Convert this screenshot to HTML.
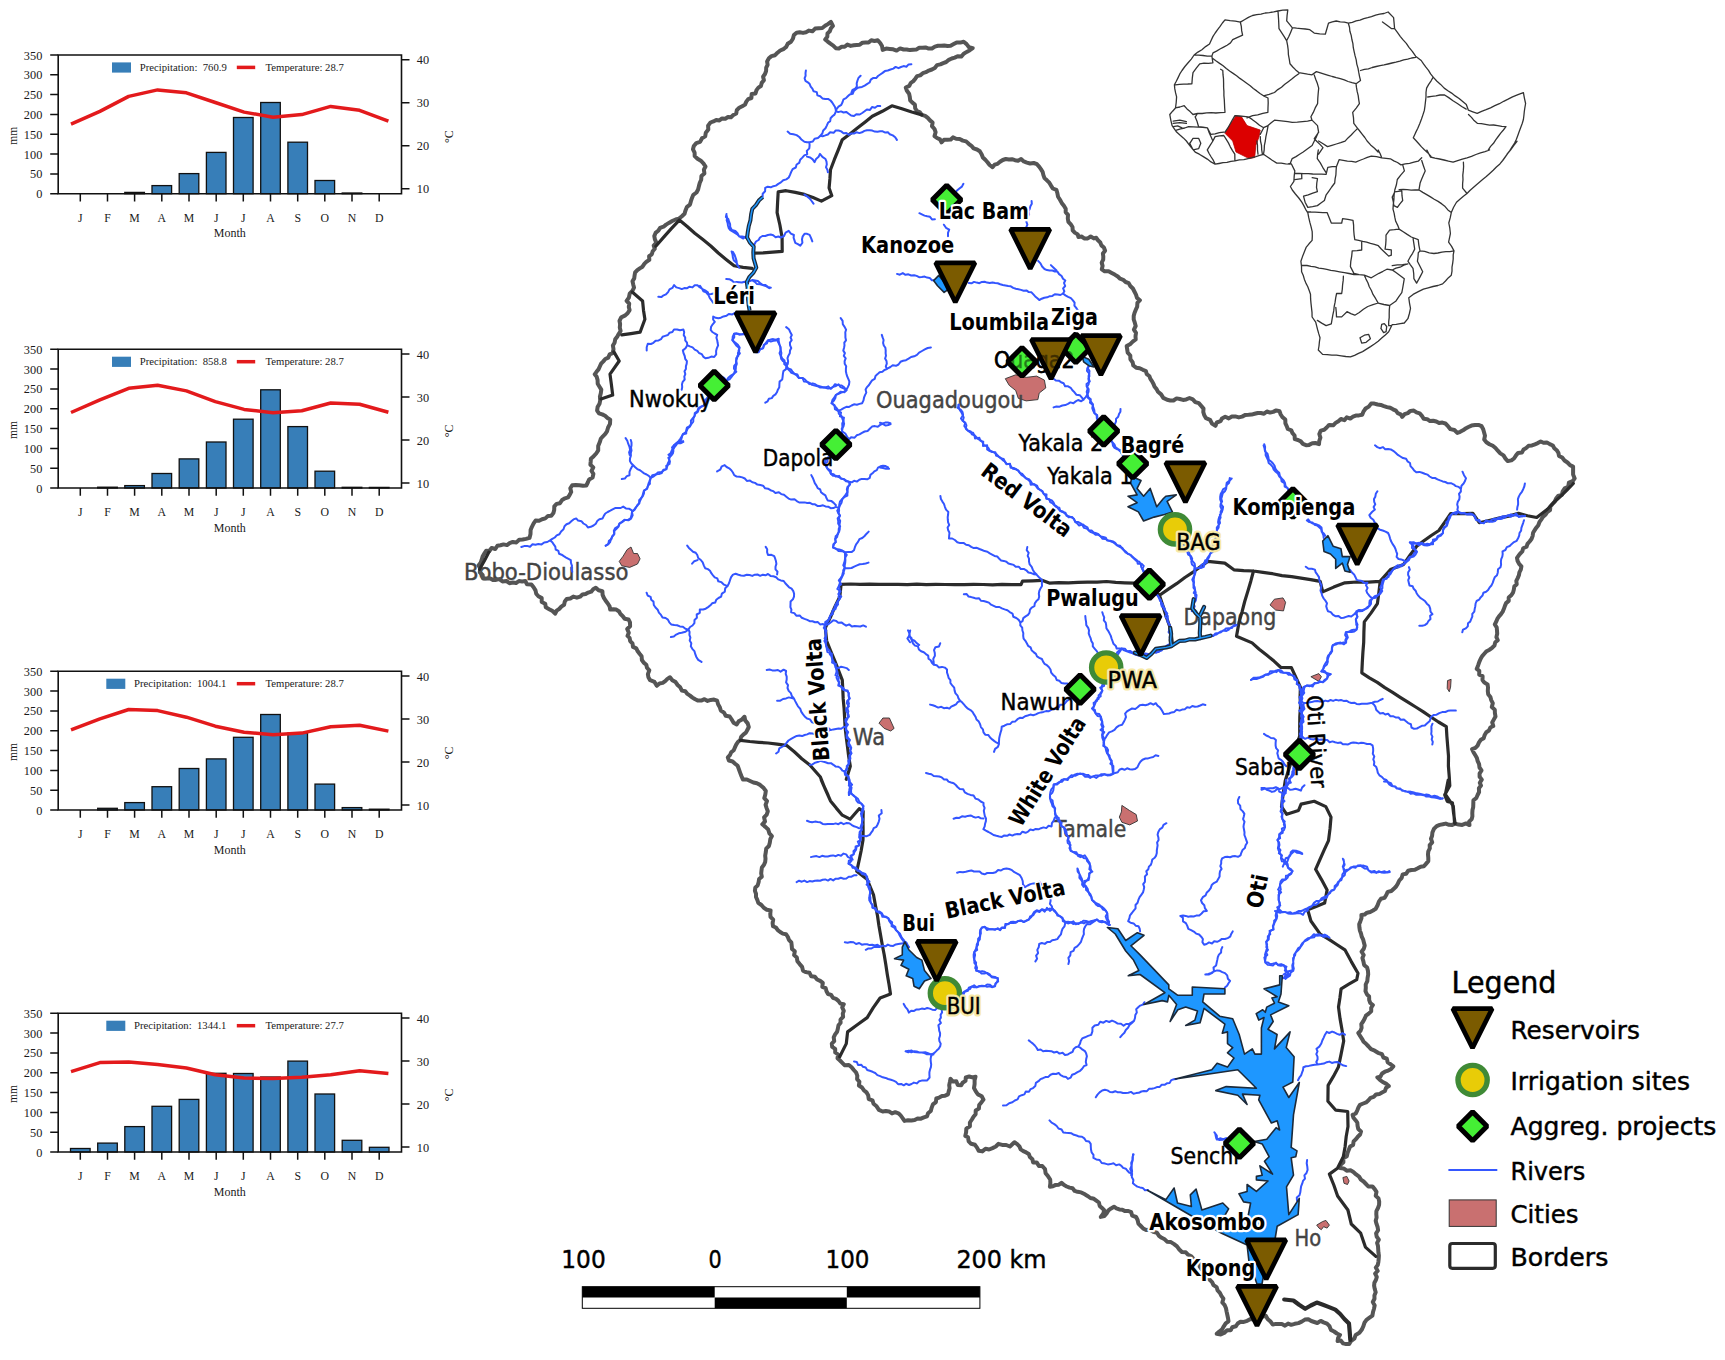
<!DOCTYPE html><html><head><meta charset="utf-8"><title>Volta basin</title>
<style>html,body{margin:0;padding:0;background:#fff}svg{display:block}.cs{font-family:"Liberation Serif",serif;fill:#1a1a1a}.lb{font-family:"DejaVu Sans","Liberation Sans",sans-serif}.bd{font-family:"DejaVu Sans","Liberation Sans",sans-serif;font-weight:bold}</style></head><body>
<svg width="1725" height="1360" viewBox="0 0 1725 1360">
<rect width="1725" height="1360" fill="#fff"/>
<g>
<rect x="124.8" y="192.4" width="19.6" height="1.3" fill="#377eb8" stroke="#111" stroke-width="1.3"/>
<rect x="152.0" y="185.6" width="19.6" height="8.1" fill="#377eb8" stroke="#111" stroke-width="1.3"/>
<rect x="179.2" y="173.6" width="19.6" height="20.1" fill="#377eb8" stroke="#111" stroke-width="1.3"/>
<rect x="206.4" y="152.4" width="19.6" height="41.3" fill="#377eb8" stroke="#111" stroke-width="1.3"/>
<rect x="233.5" y="117.5" width="19.6" height="76.2" fill="#377eb8" stroke="#111" stroke-width="1.3"/>
<rect x="260.7" y="102.5" width="19.6" height="91.2" fill="#377eb8" stroke="#111" stroke-width="1.3"/>
<rect x="287.9" y="142.2" width="19.6" height="51.5" fill="#377eb8" stroke="#111" stroke-width="1.3"/>
<rect x="315.0" y="180.5" width="19.6" height="13.2" fill="#377eb8" stroke="#111" stroke-width="1.3"/>
<rect x="342.2" y="193.0" width="19.6" height="0.7" fill="#377eb8" stroke="#111" stroke-width="1.3"/>
<path d="M58.2,193.7 V55.0 H401.5 V193.7 Z" fill="none" stroke="#111" stroke-width="1.6"/>
<text class="cs" x="42.3" y="198.2" font-size="12.3" text-anchor="end">0</text>
<text class="cs" x="42.3" y="178.4" font-size="12.3" text-anchor="end">50</text>
<text class="cs" x="42.3" y="158.6" font-size="12.3" text-anchor="end">100</text>
<text class="cs" x="42.3" y="138.8" font-size="12.3" text-anchor="end">150</text>
<text class="cs" x="42.3" y="118.9" font-size="12.3" text-anchor="end">200</text>
<text class="cs" x="42.3" y="99.1" font-size="12.3" text-anchor="end">250</text>
<text class="cs" x="42.3" y="79.3" font-size="12.3" text-anchor="end">300</text>
<text class="cs" x="42.3" y="59.5" font-size="12.3" text-anchor="end">350</text>
<text class="cs" x="80.3" y="221.6" font-size="11.8" text-anchor="middle">J</text>
<text class="cs" x="107.5" y="221.6" font-size="11.8" text-anchor="middle">F</text>
<text class="cs" x="134.6" y="221.6" font-size="11.8" text-anchor="middle">M</text>
<text class="cs" x="161.8" y="221.6" font-size="11.8" text-anchor="middle">A</text>
<text class="cs" x="189.0" y="221.6" font-size="11.8" text-anchor="middle">M</text>
<text class="cs" x="216.2" y="221.6" font-size="11.8" text-anchor="middle">J</text>
<text class="cs" x="243.3" y="221.6" font-size="11.8" text-anchor="middle">J</text>
<text class="cs" x="270.5" y="221.6" font-size="11.8" text-anchor="middle">A</text>
<text class="cs" x="297.7" y="221.6" font-size="11.8" text-anchor="middle">S</text>
<text class="cs" x="324.8" y="221.6" font-size="11.8" text-anchor="middle">O</text>
<text class="cs" x="352.0" y="221.6" font-size="11.8" text-anchor="middle">N</text>
<text class="cs" x="379.2" y="221.6" font-size="11.8" text-anchor="middle">D</text>
<text class="cs" x="416.8" y="193.3" font-size="12.3">10</text>
<text class="cs" x="416.8" y="150.3" font-size="12.3">20</text>
<text class="cs" x="416.8" y="107.3" font-size="12.3">30</text>
<text class="cs" x="416.8" y="64.3" font-size="12.3">40</text>
<path d="M50.2,193.7H58.2M50.2,173.9H58.2M50.2,154.1H58.2M50.2,134.3H58.2M50.2,114.4H58.2M50.2,94.6H58.2M50.2,74.8H58.2M50.2,55.0H58.2M80.3,193.7v7.8M107.5,193.7v7.8M134.6,193.7v7.8M161.8,193.7v7.8M189.0,193.7v7.8M216.2,193.7v7.8M243.3,193.7v7.8M270.5,193.7v7.8M297.7,193.7v7.8M324.8,193.7v7.8M352.0,193.7v7.8M379.2,193.7v7.8M401.5,188.8h8M401.5,145.8h8M401.5,102.8h8M401.5,59.8h8" stroke="#111" stroke-width="1.5" fill="none"/>
<text class="cs" x="229.8" y="237.2" font-size="12" text-anchor="middle">Month</text>
<text class="cs" transform="translate(17.3,135.8) rotate(-90)" font-size="11.5" text-anchor="middle">mm</text>
<text class="cs" transform="translate(452.8,136.6) rotate(-90)" font-size="12" text-anchor="middle">°C</text>
<path d="M71.0,124.2 99.9,111.4 128.7,96.4 157.6,89.9 186.4,92.8 215.3,102.5 244.1,112.1 273.0,117.2 301.8,114.6 330.7,106.4 359.6,110.3 388.4,121.1" fill="none" stroke="#e31a1c" stroke-width="3.5" stroke-linejoin="round"/>
<rect x="112.0" y="62.4" width="19" height="10.2" fill="#377eb8"/>
<text class="cs" x="139.8" y="70.7" font-size="10.7" xml:space="preserve">Precipitation:  760.9</text>
<path d="M236.8,67.4H255.2" stroke="#e31a1c" stroke-width="3.5"/>
<text class="cs" x="265.6" y="70.7" font-size="10.7">Temperature: 28.7</text>
</g>
<g>
<rect x="97.7" y="487.2" width="19.6" height="0.8" fill="#377eb8" stroke="#111" stroke-width="1.3"/>
<rect x="124.8" y="485.6" width="19.6" height="2.4" fill="#377eb8" stroke="#111" stroke-width="1.3"/>
<rect x="152.0" y="473.5" width="19.6" height="14.5" fill="#377eb8" stroke="#111" stroke-width="1.3"/>
<rect x="179.2" y="458.9" width="19.6" height="29.1" fill="#377eb8" stroke="#111" stroke-width="1.3"/>
<rect x="206.4" y="442.0" width="19.6" height="46.0" fill="#377eb8" stroke="#111" stroke-width="1.3"/>
<rect x="233.5" y="419.2" width="19.6" height="68.8" fill="#377eb8" stroke="#111" stroke-width="1.3"/>
<rect x="260.7" y="389.8" width="19.6" height="98.2" fill="#377eb8" stroke="#111" stroke-width="1.3"/>
<rect x="287.9" y="426.6" width="19.6" height="61.4" fill="#377eb8" stroke="#111" stroke-width="1.3"/>
<rect x="315.0" y="471.2" width="19.6" height="16.8" fill="#377eb8" stroke="#111" stroke-width="1.3"/>
<rect x="342.2" y="487.3" width="19.6" height="0.7" fill="#377eb8" stroke="#111" stroke-width="1.3"/>
<rect x="369.4" y="487.4" width="19.6" height="0.6" fill="#377eb8" stroke="#111" stroke-width="1.3"/>
<path d="M58.2,488.0 V349.3 H401.5 V488.0 Z" fill="none" stroke="#111" stroke-width="1.6"/>
<text class="cs" x="42.3" y="492.5" font-size="12.3" text-anchor="end">0</text>
<text class="cs" x="42.3" y="472.7" font-size="12.3" text-anchor="end">50</text>
<text class="cs" x="42.3" y="452.9" font-size="12.3" text-anchor="end">100</text>
<text class="cs" x="42.3" y="433.1" font-size="12.3" text-anchor="end">150</text>
<text class="cs" x="42.3" y="413.2" font-size="12.3" text-anchor="end">200</text>
<text class="cs" x="42.3" y="393.4" font-size="12.3" text-anchor="end">250</text>
<text class="cs" x="42.3" y="373.6" font-size="12.3" text-anchor="end">300</text>
<text class="cs" x="42.3" y="353.8" font-size="12.3" text-anchor="end">350</text>
<text class="cs" x="80.3" y="515.9" font-size="11.8" text-anchor="middle">J</text>
<text class="cs" x="107.5" y="515.9" font-size="11.8" text-anchor="middle">F</text>
<text class="cs" x="134.6" y="515.9" font-size="11.8" text-anchor="middle">M</text>
<text class="cs" x="161.8" y="515.9" font-size="11.8" text-anchor="middle">A</text>
<text class="cs" x="189.0" y="515.9" font-size="11.8" text-anchor="middle">M</text>
<text class="cs" x="216.2" y="515.9" font-size="11.8" text-anchor="middle">J</text>
<text class="cs" x="243.3" y="515.9" font-size="11.8" text-anchor="middle">J</text>
<text class="cs" x="270.5" y="515.9" font-size="11.8" text-anchor="middle">A</text>
<text class="cs" x="297.7" y="515.9" font-size="11.8" text-anchor="middle">S</text>
<text class="cs" x="324.8" y="515.9" font-size="11.8" text-anchor="middle">O</text>
<text class="cs" x="352.0" y="515.9" font-size="11.8" text-anchor="middle">N</text>
<text class="cs" x="379.2" y="515.9" font-size="11.8" text-anchor="middle">D</text>
<text class="cs" x="416.8" y="487.6" font-size="12.3">10</text>
<text class="cs" x="416.8" y="444.6" font-size="12.3">20</text>
<text class="cs" x="416.8" y="401.6" font-size="12.3">30</text>
<text class="cs" x="416.8" y="358.6" font-size="12.3">40</text>
<path d="M50.2,488.0H58.2M50.2,468.2H58.2M50.2,448.4H58.2M50.2,428.6H58.2M50.2,408.7H58.2M50.2,388.9H58.2M50.2,369.1H58.2M50.2,349.3H58.2M80.3,488.0v7.8M107.5,488.0v7.8M134.6,488.0v7.8M161.8,488.0v7.8M189.0,488.0v7.8M216.2,488.0v7.8M243.3,488.0v7.8M270.5,488.0v7.8M297.7,488.0v7.8M324.8,488.0v7.8M352.0,488.0v7.8M379.2,488.0v7.8M401.5,483.1h8M401.5,440.1h8M401.5,397.1h8M401.5,354.1h8" stroke="#111" stroke-width="1.5" fill="none"/>
<text class="cs" x="229.8" y="531.5" font-size="12" text-anchor="middle">Month</text>
<text class="cs" transform="translate(17.3,430.1) rotate(-90)" font-size="11.5" text-anchor="middle">mm</text>
<text class="cs" transform="translate(452.8,430.9) rotate(-90)" font-size="12" text-anchor="middle">°C</text>
<path d="M71.0,412.5 99.9,399.9 128.7,388.3 157.6,385.2 186.4,390.9 215.3,401.6 244.1,409.4 273.0,412.7 301.8,410.7 330.7,403.0 359.6,404.2 388.4,412.2" fill="none" stroke="#e31a1c" stroke-width="3.5" stroke-linejoin="round"/>
<rect x="112.0" y="356.7" width="19" height="10.2" fill="#377eb8"/>
<text class="cs" x="139.8" y="365.0" font-size="10.7" xml:space="preserve">Precipitation:  858.8</text>
<path d="M236.8,361.7H255.2" stroke="#e31a1c" stroke-width="3.5"/>
<text class="cs" x="265.6" y="365.0" font-size="10.7">Temperature: 28.7</text>
</g>
<g>
<rect x="97.7" y="808.3" width="19.6" height="1.7" fill="#377eb8" stroke="#111" stroke-width="1.3"/>
<rect x="124.8" y="802.6" width="19.6" height="7.4" fill="#377eb8" stroke="#111" stroke-width="1.3"/>
<rect x="152.0" y="786.7" width="19.6" height="23.3" fill="#377eb8" stroke="#111" stroke-width="1.3"/>
<rect x="179.2" y="768.5" width="19.6" height="41.5" fill="#377eb8" stroke="#111" stroke-width="1.3"/>
<rect x="206.4" y="758.9" width="19.6" height="51.1" fill="#377eb8" stroke="#111" stroke-width="1.3"/>
<rect x="233.5" y="737.3" width="19.6" height="72.7" fill="#377eb8" stroke="#111" stroke-width="1.3"/>
<rect x="260.7" y="714.5" width="19.6" height="95.5" fill="#377eb8" stroke="#111" stroke-width="1.3"/>
<rect x="287.9" y="733.0" width="19.6" height="77.0" fill="#377eb8" stroke="#111" stroke-width="1.3"/>
<rect x="315.0" y="784.1" width="19.6" height="25.9" fill="#377eb8" stroke="#111" stroke-width="1.3"/>
<rect x="342.2" y="807.6" width="19.6" height="2.4" fill="#377eb8" stroke="#111" stroke-width="1.3"/>
<rect x="369.4" y="809.2" width="19.6" height="0.8" fill="#377eb8" stroke="#111" stroke-width="1.3"/>
<path d="M58.2,810.0 V671.3 H401.5 V810.0 Z" fill="none" stroke="#111" stroke-width="1.6"/>
<text class="cs" x="42.3" y="814.5" font-size="12.3" text-anchor="end">0</text>
<text class="cs" x="42.3" y="794.7" font-size="12.3" text-anchor="end">50</text>
<text class="cs" x="42.3" y="774.9" font-size="12.3" text-anchor="end">100</text>
<text class="cs" x="42.3" y="755.1" font-size="12.3" text-anchor="end">150</text>
<text class="cs" x="42.3" y="735.2" font-size="12.3" text-anchor="end">200</text>
<text class="cs" x="42.3" y="715.4" font-size="12.3" text-anchor="end">250</text>
<text class="cs" x="42.3" y="695.6" font-size="12.3" text-anchor="end">300</text>
<text class="cs" x="42.3" y="675.8" font-size="12.3" text-anchor="end">350</text>
<text class="cs" x="80.3" y="837.9" font-size="11.8" text-anchor="middle">J</text>
<text class="cs" x="107.5" y="837.9" font-size="11.8" text-anchor="middle">F</text>
<text class="cs" x="134.6" y="837.9" font-size="11.8" text-anchor="middle">M</text>
<text class="cs" x="161.8" y="837.9" font-size="11.8" text-anchor="middle">A</text>
<text class="cs" x="189.0" y="837.9" font-size="11.8" text-anchor="middle">M</text>
<text class="cs" x="216.2" y="837.9" font-size="11.8" text-anchor="middle">J</text>
<text class="cs" x="243.3" y="837.9" font-size="11.8" text-anchor="middle">J</text>
<text class="cs" x="270.5" y="837.9" font-size="11.8" text-anchor="middle">A</text>
<text class="cs" x="297.7" y="837.9" font-size="11.8" text-anchor="middle">S</text>
<text class="cs" x="324.8" y="837.9" font-size="11.8" text-anchor="middle">O</text>
<text class="cs" x="352.0" y="837.9" font-size="11.8" text-anchor="middle">N</text>
<text class="cs" x="379.2" y="837.9" font-size="11.8" text-anchor="middle">D</text>
<text class="cs" x="416.8" y="809.6" font-size="12.3">10</text>
<text class="cs" x="416.8" y="766.6" font-size="12.3">20</text>
<text class="cs" x="416.8" y="723.6" font-size="12.3">30</text>
<text class="cs" x="416.8" y="680.6" font-size="12.3">40</text>
<path d="M50.2,810.0H58.2M50.2,790.2H58.2M50.2,770.4H58.2M50.2,750.6H58.2M50.2,730.7H58.2M50.2,710.9H58.2M50.2,691.1H58.2M50.2,671.3H58.2M80.3,810.0v7.8M107.5,810.0v7.8M134.6,810.0v7.8M161.8,810.0v7.8M189.0,810.0v7.8M216.2,810.0v7.8M243.3,810.0v7.8M270.5,810.0v7.8M297.7,810.0v7.8M324.8,810.0v7.8M352.0,810.0v7.8M379.2,810.0v7.8M401.5,805.1h8M401.5,762.1h8M401.5,719.1h8M401.5,676.1h8" stroke="#111" stroke-width="1.5" fill="none"/>
<text class="cs" x="229.8" y="853.5" font-size="12" text-anchor="middle">Month</text>
<text class="cs" transform="translate(17.3,752.1) rotate(-90)" font-size="11.5" text-anchor="middle">mm</text>
<text class="cs" transform="translate(452.8,752.9) rotate(-90)" font-size="12" text-anchor="middle">°C</text>
<path d="M71.0,729.9 99.9,718.8 128.7,709.5 157.6,710.6 186.4,717.2 215.3,726.2 244.1,732.2 273.0,734.7 301.8,733.1 330.7,726.8 359.6,725.3 388.4,731.1" fill="none" stroke="#e31a1c" stroke-width="3.5" stroke-linejoin="round"/>
<rect x="106.3" y="678.7" width="19" height="10.2" fill="#377eb8"/>
<text class="cs" x="134.1" y="687.0" font-size="10.7" xml:space="preserve">Precipitation:  1004.1</text>
<path d="M236.8,683.7H255.2" stroke="#e31a1c" stroke-width="3.5"/>
<text class="cs" x="265.6" y="687.0" font-size="10.7">Temperature: 28.7</text>
</g>
<g>
<rect x="70.5" y="1148.5" width="19.6" height="3.5" fill="#377eb8" stroke="#111" stroke-width="1.3"/>
<rect x="97.7" y="1143.1" width="19.6" height="8.9" fill="#377eb8" stroke="#111" stroke-width="1.3"/>
<rect x="124.8" y="1126.6" width="19.6" height="25.4" fill="#377eb8" stroke="#111" stroke-width="1.3"/>
<rect x="152.0" y="1106.3" width="19.6" height="45.7" fill="#377eb8" stroke="#111" stroke-width="1.3"/>
<rect x="179.2" y="1099.4" width="19.6" height="52.6" fill="#377eb8" stroke="#111" stroke-width="1.3"/>
<rect x="206.4" y="1073.3" width="19.6" height="78.7" fill="#377eb8" stroke="#111" stroke-width="1.3"/>
<rect x="233.5" y="1073.5" width="19.6" height="78.5" fill="#377eb8" stroke="#111" stroke-width="1.3"/>
<rect x="260.7" y="1077.0" width="19.6" height="75.0" fill="#377eb8" stroke="#111" stroke-width="1.3"/>
<rect x="287.9" y="1061.1" width="19.6" height="90.9" fill="#377eb8" stroke="#111" stroke-width="1.3"/>
<rect x="315.0" y="1094.0" width="19.6" height="58.0" fill="#377eb8" stroke="#111" stroke-width="1.3"/>
<rect x="342.2" y="1140.3" width="19.6" height="11.7" fill="#377eb8" stroke="#111" stroke-width="1.3"/>
<rect x="369.4" y="1147.3" width="19.6" height="4.7" fill="#377eb8" stroke="#111" stroke-width="1.3"/>
<path d="M58.2,1152.0 V1013.3 H401.5 V1152.0 Z" fill="none" stroke="#111" stroke-width="1.6"/>
<text class="cs" x="42.3" y="1156.5" font-size="12.3" text-anchor="end">0</text>
<text class="cs" x="42.3" y="1136.7" font-size="12.3" text-anchor="end">50</text>
<text class="cs" x="42.3" y="1116.9" font-size="12.3" text-anchor="end">100</text>
<text class="cs" x="42.3" y="1097.1" font-size="12.3" text-anchor="end">150</text>
<text class="cs" x="42.3" y="1077.2" font-size="12.3" text-anchor="end">200</text>
<text class="cs" x="42.3" y="1057.4" font-size="12.3" text-anchor="end">250</text>
<text class="cs" x="42.3" y="1037.6" font-size="12.3" text-anchor="end">300</text>
<text class="cs" x="42.3" y="1017.8" font-size="12.3" text-anchor="end">350</text>
<text class="cs" x="80.3" y="1179.9" font-size="11.8" text-anchor="middle">J</text>
<text class="cs" x="107.5" y="1179.9" font-size="11.8" text-anchor="middle">F</text>
<text class="cs" x="134.6" y="1179.9" font-size="11.8" text-anchor="middle">M</text>
<text class="cs" x="161.8" y="1179.9" font-size="11.8" text-anchor="middle">A</text>
<text class="cs" x="189.0" y="1179.9" font-size="11.8" text-anchor="middle">M</text>
<text class="cs" x="216.2" y="1179.9" font-size="11.8" text-anchor="middle">J</text>
<text class="cs" x="243.3" y="1179.9" font-size="11.8" text-anchor="middle">J</text>
<text class="cs" x="270.5" y="1179.9" font-size="11.8" text-anchor="middle">A</text>
<text class="cs" x="297.7" y="1179.9" font-size="11.8" text-anchor="middle">S</text>
<text class="cs" x="324.8" y="1179.9" font-size="11.8" text-anchor="middle">O</text>
<text class="cs" x="352.0" y="1179.9" font-size="11.8" text-anchor="middle">N</text>
<text class="cs" x="379.2" y="1179.9" font-size="11.8" text-anchor="middle">D</text>
<text class="cs" x="416.8" y="1151.6" font-size="12.3">10</text>
<text class="cs" x="416.8" y="1108.6" font-size="12.3">20</text>
<text class="cs" x="416.8" y="1065.6" font-size="12.3">30</text>
<text class="cs" x="416.8" y="1022.6" font-size="12.3">40</text>
<path d="M50.2,1152.0H58.2M50.2,1132.2H58.2M50.2,1112.4H58.2M50.2,1092.6H58.2M50.2,1072.7H58.2M50.2,1052.9H58.2M50.2,1033.1H58.2M50.2,1013.3H58.2M80.3,1152.0v7.8M107.5,1152.0v7.8M134.6,1152.0v7.8M161.8,1152.0v7.8M189.0,1152.0v7.8M216.2,1152.0v7.8M243.3,1152.0v7.8M270.5,1152.0v7.8M297.7,1152.0v7.8M324.8,1152.0v7.8M352.0,1152.0v7.8M379.2,1152.0v7.8M401.5,1147.1h8M401.5,1104.1h8M401.5,1061.1h8M401.5,1018.1h8" stroke="#111" stroke-width="1.5" fill="none"/>
<text class="cs" x="229.8" y="1195.5" font-size="12" text-anchor="middle">Month</text>
<text class="cs" transform="translate(17.3,1094.1) rotate(-90)" font-size="11.5" text-anchor="middle">mm</text>
<text class="cs" transform="translate(452.8,1094.9) rotate(-90)" font-size="12" text-anchor="middle">°C</text>
<path d="M71.0,1071.6 99.9,1062.6 128.7,1061.9 157.6,1064.6 186.4,1068.0 215.3,1074.7 244.1,1078.1 273.0,1078.5 301.8,1077.3 330.7,1074.7 359.6,1070.8 388.4,1073.6" fill="none" stroke="#e31a1c" stroke-width="3.5" stroke-linejoin="round"/>
<rect x="106.3" y="1020.7" width="19" height="10.2" fill="#377eb8"/>
<text class="cs" x="134.1" y="1029.0" font-size="10.7" xml:space="preserve">Precipitation:  1344.1</text>
<path d="M236.8,1025.7H255.2" stroke="#e31a1c" stroke-width="3.5"/>
<text class="cs" x="265.6" y="1029.0" font-size="10.7">Temperature: 27.7</text>
</g>
<path d="M1005.3,378.7 1015.7,374.8 1026.2,377.4 1036.6,376.1 1044.4,380.1 1045.8,387.9 1039.2,393.1 1037.9,399.6 1026.2,400.9 1018.3,398.3 1015.7,390.5 1009.2,385.3ZM619.2,561.4 623.1,556.2 627.1,549.6 631.0,547.0 633.6,553.5 637.5,553.5 640.1,558.8 637.5,564.0 629.7,567.4 621.8,565.8ZM879.0,723.2 882.9,718.0 889.4,718.0 894.1,728.4 890.7,731.0 884.2,728.4ZM1121.9,805.4 1129.7,810.6 1136.2,814.5 1137.5,821.0 1129.7,824.9 1121.9,822.3 1119.3,817.1 1121.4,811.9ZM1270.0,604.9 1274.4,599.2 1283.0,597.9 1285.6,602.3 1283.5,610.9 1275.7,610.1ZM1310.9,676.7 1318.8,673.6 1321.4,676.7 1318.8,681.4ZM1447.5,680.6 1451.1,679.3 1450.6,687.1 1449.3,691.8 1447.2,688.4ZM1316.7,1225.1 1322.5,1221.6 1325.9,1220.4 1329.4,1225.1 1327.1,1228.1 1323.6,1226.7 1321.3,1229.7 1319.0,1228.1ZM1342.9,1177.5 1346.8,1176.4 1349.1,1181.0 1347.5,1184.5 1344.0,1183.3Z" fill="#c97070" stroke="#333" stroke-width="0.9" stroke-linejoin="round"/>
<g id="citylabels">
<text class="lb" x="463.9" y="579.6" textLength="164.5" lengthAdjust="spacingAndGlyphs" font-size="22.4" fill="#444" stroke="#444" stroke-width="0.45">Bobo-Dioulasso</text>
<text class="lb" x="876.0" y="407.5" textLength="147.6" lengthAdjust="spacingAndGlyphs" font-size="22.4" fill="#444" stroke="#444" stroke-width="0.45">Ouagadougou</text>
<text class="lb" x="852.8" y="744.9" textLength="32.2" lengthAdjust="spacingAndGlyphs" font-size="22.4" fill="#444" stroke="#444" stroke-width="0.45">Wa</text>
<text class="lb" x="1183.5" y="625.3" textLength="92.7" lengthAdjust="spacingAndGlyphs" font-size="22.4" fill="#444" stroke="#444" stroke-width="0.45">Dapaong</text>
<text class="lb" x="1054.1" y="837.0" textLength="72.2" lengthAdjust="spacingAndGlyphs" font-size="22.4" fill="#444" stroke="#444" stroke-width="0.45">Tamale</text>
<text class="lb" x="1294.6" y="1245.9" textLength="26.7" lengthAdjust="spacingAndGlyphs" font-size="22.4" fill="#444" stroke="#444" stroke-width="0.45">Ho</text>
</g>
<path d="M705.2,136.4 705.8,132.7 708.3,129.6 708.1,125.6 710.5,122.5 713.4,121.4 716.2,119.9 719.4,120.4 722.1,118.4 725.3,118.7 728.0,117.0 731.0,117.2 733.3,115.1 736.2,113.5 736.9,109.9 739.2,107.8 742.2,106.3 745.0,104.6 746.3,101.6 748.2,99.1 751.4,98.0 751.7,93.9 755.5,93.4 756.5,90.1 758.4,87.6 760.9,86.0 761.7,82.9 763.9,80.3 763.1,76.7 765.0,74.0 766.1,71.0 766.2,67.7 767.6,64.8 767.1,61.4 768.9,58.3 771.5,56.1 775.1,55.2 777.5,52.7 780.2,50.5 783.4,49.1 786.1,47.0 787.7,43.8 791.0,41.7 792.9,38.7 793.9,35.1 796.6,32.7 799.7,32.3 803.0,32.9 806.0,32.2 809.0,30.6 812.4,31.3 815.1,28.6 818.7,28.2 822.3,28.0 825.1,25.8 827.9,24.1 830.9,21.9 832.9,26.0 830.9,28.3 829.8,31.2 827.5,33.4 827.3,36.8 825.2,39.4 827.7,41.6 830.4,43.7 833.2,45.6 835.8,48.2 838.9,48.5 841.7,46.8 844.7,46.8 847.4,44.6 850.7,45.9 853.7,45.3 856.7,44.9 859.8,44.7 862.5,42.7 865.5,42.4 868.6,42.6 871.3,40.3 874.5,41.0 877.8,40.3 880.2,43.0 882.0,46.0 882.7,49.9 886.2,48.6 889.7,48.9 893.2,49.3 896.6,50.6 900.1,48.4 903.6,49.5 906.7,49.5 909.9,50.1 913.1,49.7 916.2,49.6 919.2,47.7 922.4,47.8 925.5,47.4 928.7,48.6 931.9,48.5 934.9,46.6 938.0,45.8 941.1,45.7 944.3,45.5 947.5,45.9 950.6,45.8 953.7,44.1 956.7,42.4 960.3,42.6 963.7,41.7 966.6,44.1 969.0,47.2 972.7,48.1 969.8,50.2 966.7,51.9 963.7,53.7 961.2,56.6 957.6,56.2 954.8,57.6 951.7,58.5 948.8,59.8 946.2,62.0 943.2,63.1 940.3,64.4 937.0,65.1 934.8,68.0 931.9,69.5 928.8,70.6 925.9,72.2 922.8,73.2 920.2,75.4 917.1,76.1 915.3,78.7 913.3,81.1 910.7,83.0 909.3,85.9 905.8,87.5 906.9,90.8 909.1,93.7 909.8,97.0 910.2,100.4 912.4,102.7 914.9,104.6 915.2,108.3 916.9,111.0 920.0,112.4 921.9,114.9 925.2,115.9 927.8,117.9 930.0,120.4 932.6,122.6 932.0,126.1 934.5,129.0 935.6,132.2 934.5,136.1 937.0,138.0 940.0,139.4 941.5,142.3 943.9,139.8 947.4,139.7 950.8,139.5 953.0,137.4 956.1,138.8 959.7,139.0 962.8,140.6 966.1,141.4 968.7,143.8 971.4,145.8 973.6,148.4 977.0,149.5 979.8,151.3 981.6,154.2 982.9,157.5 985.3,159.8 987.5,162.3 989.6,165.0 992.5,167.2 994.6,164.7 997.6,163.8 1000.0,161.8 1002.8,160.0 1005.8,159.0 1008.9,159.5 1011.9,159.2 1015.0,160.2 1018.1,160.7 1021.1,159.1 1023.8,161.4 1026.9,162.6 1030.1,163.5 1033.7,163.0 1037.0,164.2 1039.1,166.6 1040.9,169.2 1042.6,171.8 1043.4,175.1 1044.5,178.1 1046.9,180.3 1049.3,182.7 1051.0,185.6 1052.8,188.5 1056.4,189.9 1057.4,193.3 1058.1,196.8 1060.0,199.8 1061.7,202.9 1063.9,205.7 1065.7,208.7 1065.7,212.2 1068.0,214.9 1067.8,218.5 1068.4,221.8 1070.8,224.4 1072.5,227.0 1072.7,230.3 1074.8,232.6 1077.7,234.4 1078.5,237.1 1081.5,236.5 1084.6,238.6 1087.7,238.4 1090.7,236.5 1093.8,238.4 1096.3,237.8 1098.0,240.3 1100.3,242.5 1101.4,245.4 1103.9,247.5 1105.1,250.7 1102.9,253.5 1103.3,256.6 1103.2,259.7 1101.7,262.6 1102.6,265.9 1101.8,269.3 1104.7,271.3 1108.6,271.3 1111.7,273.0 1114.7,274.6 1117.8,276.5 1120.1,278.7 1123.2,279.8 1125.6,282.0 1128.7,283.1 1130.3,286.0 1132.9,288.5 1134.4,291.5 1136.0,294.6 1137.0,297.9 1139.9,300.2 1137.4,302.9 1137.2,306.6 1135.8,309.7 1134.5,312.9 1133.7,316.0 1133.7,319.4 1134.8,322.7 1135.7,326.0 1133.9,329.6 1136.0,332.8 1135.5,336.2 1135.7,339.4 1132.7,341.6 1130.0,344.3 1126.7,346.1 1127.2,349.4 1127.7,352.7 1130.3,355.5 1130.4,359.2 1132.6,362.2 1133.3,365.5 1136.2,367.7 1139.7,368.3 1142.9,369.8 1145.9,371.0 1146.7,374.1 1149.3,376.0 1150.4,378.9 1152.1,381.4 1153.5,384.0 1154.6,386.8 1156.6,389.1 1158.0,391.8 1161.1,394.4 1163.3,397.9 1167.1,399.8 1170.3,400.5 1173.5,400.5 1176.6,398.4 1179.8,399.0 1183.0,399.9 1186.2,399.4 1189.5,398.0 1192.8,399.4 1195.3,402.1 1198.8,403.2 1201.4,406.1 1203.5,408.6 1203.3,412.2 1204.3,415.3 1206.0,418.2 1210.0,419.8 1212.0,423.6 1215.5,425.8 1216.8,422.5 1220.6,421.2 1222.0,418.4 1225.2,416.7 1228.8,418.4 1231.9,416.5 1235.3,416.4 1238.8,417.4 1242.1,416.6 1245.4,414.9 1248.5,414.8 1251.6,414.6 1254.6,413.8 1257.7,413.0 1260.8,413.0 1264.0,413.8 1266.9,411.5 1270.1,412.6 1273.2,411.9 1276.2,410.4 1279.6,411.3 1280.7,414.5 1282.6,417.3 1285.3,419.6 1285.4,423.4 1286.7,426.1 1287.8,429.0 1291.4,430.4 1292.5,433.2 1294.6,435.5 1294.8,439.1 1298.0,440.0 1300.8,441.4 1302.9,443.9 1306.0,445.2 1309.1,444.9 1312.3,443.3 1315.4,443.0 1319.0,444.1 1319.3,440.8 1320.4,437.6 1319.3,434.0 1320.8,430.6 1324.2,429.8 1326.7,427.5 1329.1,424.9 1333.2,425.3 1335.6,422.9 1338.4,421.2 1340.9,419.0 1344.4,420.2 1346.8,417.3 1350.3,418.6 1353.0,416.7 1355.8,415.6 1358.9,415.4 1362.2,414.7 1363.6,411.3 1365.6,408.5 1368.8,406.6 1371.1,403.6 1374.4,403.6 1377.6,404.5 1380.8,404.9 1383.9,406.1 1387.0,407.1 1390.2,407.8 1393.0,409.3 1395.9,410.6 1397.7,413.1 1400.6,414.3 1402.2,416.9 1404.6,414.2 1407.8,413.1 1410.4,410.9 1413.8,410.6 1416.5,412.4 1419.7,413.4 1421.9,415.9 1423.8,418.8 1427.2,419.2 1430.0,421.1 1433.2,420.7 1436.3,421.5 1439.1,423.1 1442.4,422.6 1445.4,423.5 1448.0,426.2 1450.4,429.1 1454.4,430.0 1457.3,432.9 1460.2,431.8 1463.0,430.3 1465.6,428.5 1468.4,427.0 1471.5,425.6 1475.0,425.1 1478.4,424.9 1481.6,426.2 1483.2,429.2 1484.1,432.5 1485.0,435.7 1484.2,439.5 1486.4,442.3 1489.4,444.2 1492.8,445.8 1495.5,448.0 1497.8,450.7 1500.3,453.4 1503.5,455.4 1505.5,458.6 1507.8,461.1 1511.4,460.4 1514.0,458.5 1515.9,455.6 1518.0,452.9 1521.9,452.6 1523.6,449.4 1526.3,447.9 1528.7,445.7 1532.0,445.4 1534.9,444.3 1537.8,443.1 1540.7,441.5 1543.5,442.8 1546.9,442.4 1549.7,444.1 1552.8,445.5 1554.3,448.2 1556.7,450.2 1558.4,452.8 1559.0,455.9 1562.2,457.6 1564.5,460.5 1567.5,462.5 1570.0,465.1 1573.1,466.6 1573.1,470.6 1573.1,474.5 1574.7,478.4 1572.6,481.2 1568.9,482.6 1568.2,486.8 1564.7,488.4 1562.7,491.3 1561.9,494.8 1558.1,496.0 1556.1,498.5 1554.7,501.6 1552.5,504.0 1550.4,506.5 1550.0,510.2 1547.2,512.2 1545.4,514.8 1542.9,516.9 1541.2,519.6 1539.4,522.2 1538.3,525.2 1536.3,527.7 1534.7,530.2 1533.1,532.8 1532.6,536.1 1531.5,539.0 1529.6,541.5 1527.5,543.8 1526.5,546.8 1523.2,548.3 1522.3,551.4 1519.5,554.4 1517.0,557.9 1517.6,561.0 1519.1,563.8 1521.4,566.3 1520.8,569.6 1519.4,572.3 1518.9,575.3 1517.7,578.1 1516.3,580.8 1516.7,584.2 1514.3,586.5 1513.8,589.7 1513.0,592.7 1511.2,595.3 1508.7,597.5 1508.7,600.9 1506.1,603.1 1504.9,605.9 1503.9,608.8 1502.7,611.6 1501.0,614.1 1499.0,616.4 1497.3,618.9 1496.2,621.7 1494.8,624.5 1496.7,627.4 1497.0,630.6 1497.2,633.7 1496.4,637.1 1497.8,640.2 1495.3,642.3 1494.4,645.6 1492.1,647.8 1489.6,649.7 1486.6,651.2 1484.5,653.5 1482.4,655.8 1480.8,658.5 1479.3,661.9 1478.1,665.4 1476.7,668.9 1479.3,670.9 1479.2,674.7 1482.6,676.2 1482.5,680.0 1484.4,682.6 1487.6,684.4 1488.0,687.6 1487.8,691.0 1488.2,694.2 1490.4,697.0 1491.2,700.1 1492.8,703.2 1491.8,707.1 1494.8,709.7 1494.9,713.2 1495.5,716.5 1493.9,719.4 1492.2,722.4 1493.3,726.0 1490.3,727.5 1489.0,730.5 1486.3,732.2 1484.7,734.9 1483.7,738.2 1480.9,739.8 1479.0,742.4 1477.6,745.6 1475.4,747.9 1472.1,749.2 1473.5,752.2 1475.2,755.1 1476.9,758.0 1477.7,761.2 1479.1,764.2 1479.5,767.5 1481.5,770.4 1479.6,773.6 1479.6,776.7 1481.8,779.6 1479.8,782.8 1481.0,785.6 1478.9,788.3 1479.1,792.0 1477.6,795.0 1476.3,798.0 1473.4,800.4 1473.3,804.0 1473.2,807.1 1472.5,810.0 1472.3,813.1 1472.4,816.2 1471.7,819.1 1469.1,821.7 1469.5,825.1 1466.0,823.4 1462.2,824.9 1458.6,824.6 1455.1,823.6 1452.2,824.9 1449.0,824.8 1445.8,823.6 1442.7,824.3 1439.7,824.9 1436.7,826.1 1433.9,828.9 1432.4,832.6 1432.1,835.8 1431.0,838.8 1432.2,842.3 1429.7,845.1 1429.8,848.4 1428.3,851.3 1428.0,854.5 1428.3,857.9 1428.3,861.1 1426.2,863.6 1423.9,866.3 1420.6,866.7 1417.8,868.3 1414.9,869.8 1411.4,870.0 1408.2,870.7 1406.1,873.8 1402.7,874.4 1401.7,877.8 1399.3,880.5 1397.8,883.7 1396.1,886.5 1393.8,888.8 1391.4,891.0 1387.7,891.9 1386.3,895.0 1384.5,897.9 1380.9,898.8 1378.9,901.6 1377.6,905.2 1375.7,908.8 1373.0,910.5 1370.2,912.0 1367.0,912.7 1364.5,914.6 1361.4,914.9 1361.5,918.1 1360.4,921.2 1359.2,924.2 1359.4,927.4 1359.9,930.6 1361.0,933.5 1361.7,936.5 1363.1,939.3 1363.9,942.4 1364.7,945.6 1363.8,948.7 1361.6,951.7 1363.7,955.0 1362.4,958.0 1363.4,961.4 1364.1,964.9 1367.1,967.5 1368.0,971.1 1368.2,974.5 1367.6,977.8 1367.3,981.2 1365.7,984.5 1365.8,987.8 1365.5,991.2 1366.9,994.3 1369.1,996.5 1369.2,1000.1 1370.3,1003.0 1372.9,1005.0 1371.2,1007.7 1371.2,1011.3 1368.7,1013.6 1365.9,1015.7 1364.6,1018.7 1363.1,1021.5 1361.3,1024.1 1361.6,1027.9 1360.5,1030.9 1358.3,1033.0 1360.1,1035.9 1362.0,1038.8 1363.6,1041.8 1366.3,1044.1 1368.6,1046.5 1371.0,1049.2 1374.7,1050.7 1378.0,1052.8 1382.0,1054.2 1383.4,1057.5 1386.8,1058.7 1387.7,1062.4 1390.6,1064.2 1393.3,1066.4 1391.1,1069.0 1388.2,1070.6 1384.9,1071.7 1382.1,1073.5 1380.3,1076.7 1377.3,1077.4 1379.9,1079.9 1382.7,1082.0 1385.9,1083.6 1388.8,1086.1 1386.1,1087.7 1384.9,1091.0 1382.0,1092.5 1379.3,1094.1 1376.0,1094.5 1373.7,1096.8 1370.6,1097.8 1368.5,1100.3 1366.1,1102.4 1363.2,1103.5 1360.0,1104.8 1358.4,1107.6 1357.2,1110.6 1355.7,1113.5 1352.6,1114.9 1353.5,1117.8 1355.5,1120.2 1357.3,1122.7 1357.6,1126.0 1358.3,1129.0 1361.0,1131.4 1360.1,1134.5 1357.8,1136.7 1355.9,1139.2 1353.6,1141.5 1353.1,1144.9 1350.1,1146.6 1348.9,1149.6 1347.6,1152.8 1346.8,1156.3 1343.3,1158.4 1343.4,1162.3 1340.6,1164.8 1340.0,1168.0 1343.6,1168.4 1346.7,1170.7 1350.5,1170.3 1353.4,1172.0 1356.1,1174.4 1359.1,1176.6 1360.9,1179.6 1363.6,1181.5 1366.0,1184.0 1368.3,1186.5 1372.4,1186.4 1374.7,1189.1 1376.5,1191.9 1375.7,1195.8 1378.5,1198.4 1379.2,1201.6 1379.1,1204.8 1378.0,1208.0 1376.4,1211.1 1376.3,1214.3 1376.6,1217.5 1375.7,1220.7 1376.5,1223.9 1377.6,1227.0 1378.1,1230.2 1376.1,1233.4 1376.7,1236.6 1378.8,1239.7 1377.1,1242.9 1378.0,1246.0 1378.2,1249.2 1378.4,1252.4 1378.9,1255.5 1378.7,1258.8 1378.4,1261.8 1377.8,1264.8 1375.8,1267.6 1377.7,1270.9 1375.1,1273.6 1376.8,1276.9 1376.0,1279.8 1374.4,1282.7 1374.1,1285.7 1374.7,1288.8 1375.7,1292.2 1374.4,1295.4 1374.5,1298.8 1372.8,1302.0 1374.7,1305.4 1374.0,1308.7 1373.1,1311.7 1372.4,1315.6 1369.5,1317.7 1366.5,1319.8 1364.5,1322.7 1363.4,1326.2 1361.7,1329.8 1359.4,1332.8 1355.7,1334.9 1354.3,1338.7 1350.9,1341.0 1349.2,1344.1 1346.1,1344.1 1343.1,1343.4 1340.8,1340.6 1337.6,1341.1 1338.1,1337.8 1340.0,1335.0 1336.9,1333.5 1334.1,1331.5 1330.9,1329.9 1329.5,1326.2 1327.0,1323.7 1323.6,1322.4 1320.7,1320.9 1317.3,1323.0 1314.3,1322.0 1311.3,1321.0 1308.3,1319.2 1304.9,1319.6 1301.7,1321.6 1298.4,1323.1 1294.7,1323.8 1291.2,1324.8 1288.1,1323.6 1285.0,1325.7 1281.9,1324.0 1278.8,1324.1 1275.7,1323.9 1272.8,1324.6 1270.5,1321.5 1267.6,1318.9 1265.8,1315.7 1262.9,1316.7 1259.7,1316.5 1257.3,1319.3 1254.2,1319.3 1250.5,1318.9 1247.2,1320.8 1243.8,1321.9 1240.5,1321.7 1237.7,1323.5 1235.8,1326.3 1232.2,1327.3 1230.8,1330.2 1227.1,1330.2 1224.1,1333.0 1220.8,1334.4 1216.7,1333.8 1219.3,1331.5 1222.1,1329.4 1223.8,1326.3 1225.7,1323.4 1228.5,1321.3 1228.0,1318.0 1227.3,1314.8 1226.6,1311.6 1226.0,1308.3 1224.7,1305.2 1222.3,1302.5 1223.4,1298.7 1221.4,1295.9 1219.9,1292.9 1217.6,1290.4 1216.6,1287.1 1213.5,1285.1 1212.1,1282.1 1209.7,1279.8 1207.4,1277.3 1207.0,1273.5 1204.2,1271.5 1201.6,1269.3 1199.7,1266.6 1199.0,1263.0 1195.9,1261.3 1193.6,1259.0 1191.3,1256.2 1188.2,1254.8 1185.8,1252.3 1181.9,1252.0 1179.3,1249.5 1177.0,1246.4 1174.1,1244.1 1170.9,1242.1 1167.1,1241.7 1164.7,1239.3 1161.7,1237.8 1159.0,1235.8 1156.9,1232.7 1153.3,1231.8 1150.1,1229.8 1146.2,1230.1 1143.1,1228.4 1140.8,1226.0 1138.4,1223.6 1137.6,1220.0 1136.1,1217.0 1132.2,1215.7 1131.2,1212.2 1128.4,1211.0 1125.1,1211.1 1122.4,1209.7 1119.3,1209.4 1116.4,1208.3 1114.0,1206.7 1111.1,1208.4 1108.4,1210.4 1106.6,1213.4 1104.4,1216.0 1100.8,1216.9 1103.2,1213.7 1104.2,1210.2 1102.0,1208.0 1099.7,1205.9 1098.9,1202.5 1096.3,1200.6 1093.9,1198.8 1090.4,1198.0 1087.5,1195.9 1084.4,1194.1 1081.2,1192.4 1077.6,1191.8 1074.7,1190.9 1072.6,1188.2 1069.6,1187.6 1066.7,1186.5 1064.1,1185.1 1061.5,1182.8 1058.9,1184.7 1055.7,1184.9 1053.0,1186.3 1049.9,1186.8 1050.4,1183.1 1050.2,1179.5 1048.1,1176.3 1045.6,1173.2 1045.0,1169.0 1042.3,1166.1 1038.9,1165.9 1036.7,1162.4 1033.1,1162.4 1032.4,1159.2 1029.9,1157.0 1028.8,1153.9 1026.2,1152.4 1023.3,1151.1 1020.7,1149.4 1019.4,1146.4 1017.2,1144.2 1014.4,1142.2 1009.9,1146.5 1006.2,1145.0 1002.2,1144.9 998.4,1143.8 995.8,1146.5 992.5,1148.1 989.1,1149.5 985.5,1148.8 982.3,1151.4 978.7,1150.7 977.0,1147.6 975.0,1144.8 971.1,1143.8 968.7,1141.4 968.0,1137.3 965.3,1135.9 966.1,1132.4 966.3,1128.6 969.9,1126.3 969.9,1122.5 971.9,1119.5 973.5,1116.7 975.6,1114.2 975.7,1110.5 978.9,1108.6 979.2,1105.0 981.3,1102.4 983.5,1099.6 981.7,1096.3 977.9,1094.4 975.8,1091.4 974.0,1088.0 974.6,1084.1 974.6,1080.2 975.5,1076.7 972.4,1077.4 969.2,1076.5 965.8,1077.4 965.5,1080.9 962.6,1082.7 961.2,1085.2 957.7,1084.9 956.3,1081.3 952.6,1081.4 950.5,1078.9 949.9,1082.0 949.2,1085.1 949.6,1088.3 948.7,1091.4 948.0,1094.4 945.1,1095.7 942.0,1096.1 939.2,1097.6 936.3,1098.5 935.9,1102.1 932.9,1104.4 931.7,1107.6 930.8,1111.0 928.0,1113.3 927.0,1116.4 923.9,1117.4 920.9,1118.7 917.6,1118.4 914.6,1120.0 911.4,1120.5 908.1,1120.2 904.5,1120.9 902.6,1118.1 900.6,1115.4 898.4,1113.3 895.3,1112.2 892.0,1113.4 889.0,1111.4 885.9,1111.0 882.7,1111.5 878.9,1109.8 876.6,1106.3 873.5,1103.8 872.5,1100.3 868.7,1099.1 868.2,1095.2 866.5,1092.4 863.8,1090.2 862.0,1087.5 858.9,1085.5 859.4,1081.8 857.1,1079.1 857.3,1075.6 856.1,1072.5 853.8,1070.0 851.6,1067.2 848.9,1065.0 844.8,1065.3 842.3,1062.8 840.0,1060.5 837.5,1058.2 838.1,1054.5 835.2,1052.4 835.2,1048.9 832.2,1046.9 831.8,1043.6 834.2,1041.1 833.7,1037.3 835.1,1034.4 837.1,1031.7 837.9,1028.5 838.5,1025.2 840.6,1022.7 840.5,1019.6 843.1,1016.9 842.8,1013.7 843.8,1010.8 842.2,1007.4 843.8,1004.2 840.4,1003.6 838.4,1000.9 836.0,998.9 832.9,997.8 831.1,994.9 828.0,994.0 826.5,991.3 825.7,988.2 822.3,986.8 822.8,982.9 820.2,980.9 817.1,979.5 814.9,976.8 811.3,976.3 809.5,972.8 806.0,972.1 803.0,970.6 802.1,966.9 799.7,964.1 797.4,961.2 796.8,957.4 794.1,955.1 794.8,951.3 792.0,949.0 791.7,945.6 791.3,942.3 788.9,939.8 787.8,936.8 786.0,934.2 782.8,933.6 780.2,932.0 777.8,930.2 775.9,927.5 773.0,926.2 772.6,923.1 773.2,919.7 770.5,916.9 770.3,913.8 770.6,910.4 766.8,909.7 763.8,907.8 761.4,905.0 758.3,902.8 757.3,899.9 756.0,897.0 756.0,893.8 754.9,890.9 755.3,887.7 757.7,885.3 758.6,882.3 759.1,879.0 761.8,876.7 761.2,873.5 761.5,870.4 761.9,867.4 764.0,864.7 765.2,861.9 765.5,858.8 765.2,855.7 765.8,852.2 766.2,848.7 768.9,846.0 769.8,842.7 770.3,839.2 771.9,836.0 769.4,833.3 768.2,829.5 765.4,826.9 762.3,824.3 765.0,821.5 764.1,817.4 766.7,814.6 767.8,811.3 766.6,808.1 765.6,804.8 767.0,801.1 764.3,798.1 765.3,794.5 765.8,791.0 763.7,788.1 760.1,784.9 756.9,783.3 753.4,782.5 750.1,781.0 746.9,779.5 742.9,779.4 741.4,776.0 740.1,772.6 738.9,769.3 737.7,765.8 735.1,763.7 732.6,761.5 728.9,760.5 727.8,757.4 729.9,755.2 731.2,752.3 733.7,750.3 734.9,747.4 736.2,744.6 737.9,742.0 740.3,740.0 741.1,736.9 743.3,734.7 745.9,732.7 747.3,730.0 748.8,727.0 747.7,723.4 745.2,720.4 744.5,716.7 742.0,719.4 738.7,721.3 736.7,724.5 733.6,722.7 731.7,719.5 729.7,716.5 725.7,715.7 724.0,712.6 720.8,710.5 719.8,707.2 718.1,704.3 717.1,700.7 714.0,699.6 710.8,699.9 707.6,700.9 704.5,699.2 701.2,700.6 698.0,700.6 695.2,699.3 692.5,697.6 690.0,695.6 687.4,693.9 685.3,691.3 681.9,690.6 680.2,687.3 677.6,685.0 675.6,682.1 672.3,680.2 670.0,677.3 667.4,678.9 665.2,681.1 662.7,682.9 659.5,683.5 656.8,685.8 654.5,681.9 650.1,680.2 648.4,677.3 647.9,674.1 649.3,670.4 647.0,667.7 646.3,664.7 643.7,662.6 641.9,660.0 641.6,656.3 639.6,653.8 637.7,651.3 636.3,648.4 633.0,646.9 632.5,643.5 630.2,641.2 629.6,637.9 627.5,635.9 628.8,632.7 627.2,629.0 630.1,626.2 630.0,622.4 628.5,619.5 624.7,618.8 622.8,616.2 620.5,614.1 619.1,611.5 616.3,609.6 613.3,609.3 610.2,609.6 609.6,606.3 607.8,603.5 605.7,600.8 603.9,597.9 602.6,594.9 602.4,591.2 598.6,590.2 595.8,587.7 593.2,589.2 591.2,591.7 588.2,592.6 585.6,594.1 582.4,594.6 580.1,596.7 576.9,597.7 573.3,596.6 570.3,598.5 566.7,599.0 564.8,601.4 564.1,604.8 561.3,606.6 559.3,608.9 556.7,610.7 555.2,613.7 552.6,611.0 549.2,609.2 545.8,607.3 545.2,603.7 541.7,602.0 541.7,598.1 538.4,596.2 536.2,593.7 535.5,590.4 533.6,587.3 531.4,584.5 527.0,584.3 525.3,581.0 522.2,581.4 518.9,581.0 516.0,583.1 512.7,582.6 509.5,583.2 506.4,581.0 502.5,581.4 499.2,579.1 496.0,579.9 492.9,579.9 489.8,578.3 486.6,578.6 483.1,578.5 482.6,574.9 479.8,572.2 480.3,568.3 478.5,565.4 480.6,562.8 481.7,559.7 482.6,556.5 484.3,553.6 486.1,550.8 489.4,551.0 491.6,547.9 495.3,549.0 497.4,545.7 500.5,545.2 503.5,544.4 507.0,545.1 509.6,543.1 512.8,541.9 516.4,542.4 519.2,539.8 522.6,539.5 526.0,538.9 529.5,537.9 530.5,534.1 530.6,530.1 531.9,526.8 533.5,523.7 535.6,520.5 539.1,520.8 542.1,519.3 545.3,518.4 548.0,515.9 551.3,515.7 553.4,513.1 554.2,509.9 554.3,506.4 556.6,503.9 560.0,503.2 562.1,500.0 565.0,498.3 568.1,497.3 569.8,494.7 571.2,491.9 570.3,488.3 572.2,485.3 575.8,485.0 579.4,485.2 583.0,485.8 586.3,485.5 587.8,482.5 589.1,479.4 592.6,477.5 593.4,473.9 591.5,471.0 593.3,467.4 590.4,464.7 590.7,461.5 590.9,458.7 593.7,456.2 596.2,453.5 598.2,450.4 598.2,446.1 599.8,442.1 600.8,438.7 602.9,436.3 605.3,433.9 607.0,431.4 608.1,427.5 610.0,423.9 610.2,419.6 607.5,418.0 605.1,415.8 602.2,414.4 599.0,413.3 597.1,410.6 597.6,407.1 599.5,403.8 600.2,400.3 599.9,396.7 600.8,393.2 601.3,389.6 599.5,386.7 597.7,383.8 597.6,380.1 596.7,376.8 594.7,374.3 596.5,371.8 598.5,369.4 599.8,366.5 601.1,363.7 603.3,361.4 605.3,359.0 608.3,357.6 609.6,354.4 612.6,353.2 613.5,349.3 612.9,345.5 614.6,342.7 615.2,339.3 617.2,336.7 618.8,333.8 620.6,331.0 619.8,327.6 620.1,324.0 619.5,320.9 621.2,317.3 624.8,315.7 627.6,313.3 629.6,310.1 628.8,307.1 629.2,303.7 626.6,300.8 628.9,297.6 629.7,293.6 632.6,290.5 634.0,287.6 633.2,284.4 632.5,281.2 634.2,278.4 634.6,275.3 635.1,272.5 637.3,270.2 639.8,268.4 642.5,266.7 644.3,263.9 646.5,261.7 649.3,259.9 649.1,256.2 651.8,254.3 652.7,251.2 654.8,248.8 653.7,245.6 656.4,242.6 654.9,239.3 654.3,236.1 655.6,232.9 658.2,230.8 660.1,227.9 663.5,226.7 666.1,224.6 668.9,222.9 672.2,221.0 675.6,219.5 679.0,218.6 681.9,216.3 684.5,213.8 685.6,210.2 687.0,206.8 690.0,204.6 690.9,201.2 692.0,197.9 693.3,194.8 696.5,192.5 698.1,189.5 698.9,186.1 699.8,182.8 701.2,179.7 701.4,176.1 704.4,173.5 703.9,169.7 705.5,166.5 703.4,163.3 700.8,160.7 697.5,158.8 694.7,156.1 694.6,152.6 693.0,149.3 693.8,146.0 696.3,143.1 700.1,141.9 702.0,138.3Z" fill="none" stroke="#555" stroke-width="4.0" stroke-linejoin="round"/>
<path d="M921.9,114.9 911.8,112.0 901.9,108.8 891.9,105.8 882.3,111.3 872.3,116.2 864.9,122.2 857.4,128.1 849.9,133.9 842.3,139.7 838.4,149.7 834.3,159.7 830.5,169.7 829.9,178.9 829.1,188.0 831.8,195.7 821.4,201.1 813.0,197.5 804.4,194.4 795.3,192.4 786.1,190.7 778.2,191.9 777.6,202.3 777.1,212.7 779.9,225.0 782.1,237.5 782.2,251.4 772.6,252.2 763.1,252.9 753.5,253.2M679.4,220.0 687.2,226.5 694.8,233.3 702.9,239.6 710.8,246.0 718.3,253.0 726.1,259.4 734.1,265.7 743.1,267.4 752.2,268.4M679.3,220.1 671.3,228.7 663.5,237.4 655.8,246.2M632.2,292.0 642.6,301.0 643.5,310.2 644.9,319.3 640.1,332.2 630.9,333.6 621.8,334.9M613.9,351.9 619.2,361.0 610.0,374.1 611.4,384.6 612.7,395.1 601.0,398.9M488.8,552.2 484.4,560.8 479.6,569.2M841.1,584.3 850.6,584.0 860.0,584.3 869.5,584.1 879.0,584.4 888.4,584.4 897.9,584.4 907.4,584.7 916.8,584.1 926.3,584.7 935.8,584.4 945.3,584.5 954.7,584.6 964.2,584.7 973.7,584.4 983.1,584.5 992.6,584.9 1002.1,584.3 1011.5,584.7 1021.0,584.6 1022.5,581.1 1032.3,580.8 1042.0,580.3 1049.3,583.1 1058.8,582.6 1068.4,582.9 1078.0,582.3 1087.5,582.1 1097.1,582.1 1106.6,581.5 1115.7,582.3 1124.9,582.8 1134.0,583.2 1142.4,587.5 1151.0,591.2 1159.5,595.3 1168.0,589.4 1176.6,583.7 1184.9,577.5 1193.5,571.8 1207.8,561.4M841.1,584.3 839.8,596.6 834.8,606.9 830.3,617.5 825.3,627.9 826.7,641.0 830.6,650.8 834.7,660.5 838.5,670.3 842.3,680.1 842.8,689.5 843.2,698.9 844.1,708.3 844.6,717.7 845.1,727.1 846.2,736.9 847.5,746.7 848.7,756.5 850.3,766.3 846.3,779.3M740.6,740.3 749.7,741.5 758.9,742.3 768.1,743.0 777.2,744.2 786.4,745.3 794.3,751.8 801.8,758.7 809.8,765.0 820.2,776.7 823.9,785.9 828.0,795.0M821.3,780.0 825.9,790.5 830.5,800.9 836.3,808.1 842.3,815.2 850.1,819.2 859.2,808.7 863.2,811.3 863.0,820.9 863.1,830.4 863.0,840.0 861.2,850.5 859.0,861.0 856.7,871.3 867.0,879.2 873.5,894.8 875.4,905.3 877.5,915.7 878.9,925.5 880.6,935.3 882.3,945.1 884.2,954.8 885.8,964.6 887.3,974.4 889.0,984.2 890.5,994.0 880.1,998.0 873.3,1007.6 867.2,1017.6 857.3,1024.7 847.6,1031.9 846.3,1043.6 839.7,1056.7M1159.4,595.3 1162.9,605.8 1166.1,616.3 1169.8,626.7 1171.5,635.8 1172.5,645.0M1207.8,561.4 1224.8,563.1 1233.9,569.8 1243.7,570.7 1253.5,571.0 1263.0,572.4 1272.6,573.7 1282.0,575.6 1291.6,576.7 1301.1,578.2 1310.6,579.6 1320.2,581.4 1322.7,591.9 1333.7,587.1 1344.9,582.8 1356.6,582.0 1368.4,582.1 1380.0,581.3 1390.5,569.6 1403.6,564.4 1410.0,555.2 1416.7,546.3 1423.9,540.8 1431.3,535.5 1438.9,530.5 1444.8,522.1 1450.6,513.6 1461.7,513.7 1472.9,513.4 1479.3,522.7 1489.1,520.5 1498.9,518.1 1508.8,516.1 1518.5,513.4 1527.5,515.8 1536.7,517.5 1547.1,509.5 1553.5,502.8 1560.3,496.6 1566.9,490.2 1573.3,483.5M1380.2,581.4 1378.9,592.5 1377.4,603.6 1371.1,612.9 1364.3,621.9 1363.9,632.1 1363.7,642.3 1362.9,652.4 1362.3,662.6 1361.8,672.8 1369.4,677.8 1377.3,682.4 1384.8,687.6 1392.6,692.3 1400.2,697.3 1407.9,702.2 1415.7,707.0 1423.4,711.9 1430.9,717.0 1438.5,722.0 1446.3,726.6 1446.9,736.5 1447.7,746.3 1448.5,756.1 1448.4,766.0 1449.2,775.9 1449.8,785.7 1444.7,794.9 1447.3,801.4 1452.4,802.7 1453.6,813.2 1455.1,823.6M1253.5,571.0 1250.8,581.2 1247.8,591.4 1244.7,601.5 1242.1,611.7 1239.1,621.9 1236.5,636.2 1252.1,642.9 1259.2,649.2 1266.6,655.1 1274.0,661.1 1280.9,667.5 1291.4,667.6 1295.9,677.4 1300.4,687.1 1300.1,696.9 1300.5,706.7 1299.8,716.5 1299.7,726.3 1299.7,736.1 1296.9,745.0 1294.2,753.9 1290.9,762.7 1288.1,771.6 1285.3,780.5 1283.2,793.5 1281.5,806.6 1286.7,814.3 1298.5,810.5 1301.1,804.1 1314.2,801.3 1325.8,806.6 1331.0,817.1 1330.0,828.9 1328.5,840.6 1324.1,850.1 1319.9,859.7 1315.6,869.3 1321.5,879.6 1327.1,890.1 1324.6,903.1 1316.1,906.5 1307.7,909.7 1310.9,921.0 1320.2,934.1 1328.6,939.1 1336.7,944.5 1344.9,949.8 1351.3,961.6 1358.0,973.2 1356.7,979.7 1348.8,984.2 1341.1,988.8 1339.9,998.0 1338.5,1007.1 1340.0,1018.4 1342.0,1029.7 1343.7,1041.0 1341.1,1054.1 1338.4,1067.1 1333.4,1076.4 1328.1,1085.4 1327.9,1101.2 1335.8,1110.2 1347.7,1111.5 1348.0,1126.5 1346.2,1136.5 1345.1,1146.7 1343.3,1156.7 1337.5,1168.3 1329.4,1174.1 1333.8,1185.0 1337.6,1196.0 1347.9,1210.0 1351.3,1224.0 1360.7,1233.2 1365.4,1247.1 1375.8,1256.4M1448.2,780.0 1445.4,794.4 1453.3,806.1 1454.6,823.1" fill="none" stroke="#2b2b2b" stroke-width="3.2" stroke-linejoin="round" stroke-linecap="round"/>
<path d="M1284.2,1299.5 1293.4,1300.5 1299.1,1304.8 1305.2,1308.8 1310.8,1305.5 1316.8,1302.6 1323.0,1304.8 1329.1,1307.1 1335.3,1309.6 1340.2,1314.0 1344.4,1319.0 1349.0,1323.6 1349.7,1331.7 1350.3,1339.9" fill="none" stroke="#2b2b2b" stroke-width="4.2" stroke-linejoin="round" stroke-linecap="round"/>
<path d="M911.4,64.3 908.6,64.4 906.4,66.7 903.6,66.1 901.0,67.0 898.5,68.2 895.6,66.9 893.3,68.6 890.5,69.5 887.8,70.5 884.9,71.1 882.6,72.9 880.2,74.5 878.0,76.0 876.2,78.1 873.0,78.1 870.8,79.6 869.6,82.5 867.3,83.9 864.7,85.6 862.0,86.9 858.8,87.5 856.2,89.0 853.8,91.1 852.7,93.8 849.7,94.4 847.8,96.2 846.0,98.1 843.5,99.3 842.6,102.0 841.3,104.8 838.5,106.7 836.5,109.1 835.6,112.1 834.5,114.6 832.4,116.3 830.6,118.2 830.2,121.1 828.0,122.8 826.8,125.6 825.5,128.3 823.2,130.5 822.3,133.5 820.2,135.9 817.9,138.0 814.6,138.7 812.8,141.5 809.4,142.2 809.6,145.3 809.3,148.4 806.8,150.9 807.2,154.2 804.3,155.4 802.3,157.6 800.2,159.7 799.2,162.9 796.6,164.5 795.8,167.5 792.6,169.2 791.2,171.9 790.1,174.7 788.8,177.5 786.3,179.4 783.2,180.2 780.9,182.4 778.3,183.9 775.9,185.6 773.3,186.2 770.8,187.3 767.7,186.7 765.2,187.9 765.1,191.2 762.7,193.8 762.6,197.1M805.9,70.5 805.5,73.1 805.6,75.8 804.6,78.2 805.4,80.8 807.8,82.3 809.7,84.1 810.7,86.6 812.4,88.6 813.6,91.3 816.8,92.1 817.4,95.4 820.2,96.2 822.4,98.4 825.2,98.9 828.1,98.9 830.5,100.5 832.2,102.5 833.6,104.8 835.0,107.0 835.7,109.6M860.6,75.7 858.5,77.9 857.5,80.5 856.7,83.2 856.9,86.4 855.2,88.6 852.5,89.9 851.4,92.7M880.2,106.1 877.4,106.0 875.0,107.7 872.0,107.1 870.0,109.9 866.9,109.4 864.6,111.3 862.2,113.0 859.7,114.5 856.3,114.2 854.0,116.1 851.1,115.5 848.7,113.7 846.2,111.9 843.5,112.5 841.0,111.4 838.2,112.1 835.7,110.9M896.9,139.9 895.2,137.2 892.8,135.4 889.8,134.3 887.9,132.2 885.3,132.6 882.7,131.3 880.1,131.3 877.5,131.7 874.8,131.6 872.3,130.6 869.7,130.2 867.0,130.2 864.4,130.9 862.0,132.3 859.4,133.1 856.5,132.3 854.0,133.5 851.3,133.4 848.7,134.8 846.4,133.0 843.5,133.2 841.2,131.4 838.6,130.5 835.7,130.5 833.6,132.8 830.1,132.3 827.9,134.5 825.3,135.4 822.7,136.2 820.1,135.7M787.6,131.6 790.1,133.8 793.4,134.2 796.6,135.1 799.3,137.0 801.7,139.8 804.4,141.8 807.0,142.3 809.6,142.3M827.9,172.3 827.4,169.7 826.0,167.2 826.8,164.4 826.5,161.7 825.5,159.0 822.4,156.9 819.9,153.9 818.6,156.8 816.1,158.9 814.6,162.2 812.7,159.4 810.2,157.5 807.0,156.6M813.5,203.6 811.6,201.0 809.6,198.4 807.1,196.4 804.4,194.5M726.5,213.9 725.9,216.9 728.3,219.1 729.1,221.7 730.1,224.2 730.2,226.9 731.8,229.9 735.3,230.9 737.5,233.3 739.1,236.4 742.0,236.5 744.7,237.0 747.0,238.8M812.3,241.4 811.1,238.1 809.6,234.9 807.1,233.8 804.7,233.7 802.7,236.3 802.0,239.3 802.4,242.7 800.3,245.7 797.9,244.1 795.3,242.8 794.4,240.2 793.6,237.7 793.9,235.0 790.9,233.6 788.7,230.9 785.6,232.6 784.0,236.0 780.9,237.5 778.4,236.5 775.6,237.2 773.2,235.3 770.7,234.5 767.9,235.0 765.3,236.0 762.4,236.0 760.0,237.5 758.6,240.0 756.0,241.5 754.6,244.0 753.5,246.7M732.8,251.8 734.5,254.7 735.6,257.8 736.6,261.0 736.9,264.7 739.2,267.6M769.3,288.2 766.5,286.3 763.4,285.2 760.2,284.2 757.0,284.1 754.8,281.9 752.1,280.2 748.3,281.9M963.4,183.8 961.9,186.6 959.4,188.5 957.0,190.5 955.1,192.9 952.7,194.9 950.6,197.1M919.4,213.2 921.9,214.4 924.5,215.6 927.2,216.3 930.0,216.8 932.0,219.4 934.9,219.3M943.9,224.7 946.0,227.8 949.2,229.7 948.0,232.8 948.0,236.2M897.0,273.9 899.8,274.7 902.8,273.1 905.5,274.8 908.4,274.3 911.2,275.5 914.1,275.2 916.6,275.9 919.1,277.2 921.8,277.0 924.6,276.6 927.1,277.6 929.7,277.9 931.9,280.2 935.1,280.2 937.5,281.9M968.8,283.0 971.5,283.3 974.0,281.9 976.7,282.6 979.4,283.2 981.9,281.9 984.6,281.8 987.1,282.6 989.7,283.1 992.5,282.6 995.1,283.0 997.7,283.3 1000.2,284.3 1002.8,285.0 1005.5,285.4 1008.2,285.9 1010.8,286.3 1013.2,287.9 1015.8,288.7 1018.4,289.3 1021.0,289.9 1023.6,290.7 1026.4,290.4 1028.8,292.1 1031.5,292.3 1033.4,294.4 1035.2,296.4 1037.4,298.2 1039.3,300.0 1041.7,298.7 1044.3,297.7 1047.2,297.3 1049.8,296.2 1052.4,295.9 1054.8,294.2 1057.5,294.4 1060.4,295.0 1063.0,293.5 1065.4,295.4 1068.1,296.9 1070.9,298.1 1072.9,300.3 1074.6,302.7 1074.4,305.6 1076.2,307.9 1077.7,310.3 1076.8,313.5 1078.5,315.8M1031.6,201.0 1031.8,203.8 1030.4,206.3 1029.7,208.9 1028.4,211.3 1029.1,214.3 1027.8,216.7 1026.3,219.1 1026.4,221.8 1027.4,224.6 1026.3,227.1M1038.1,260.9 1040.5,263.4 1042.1,266.5 1044.5,269.0 1047.0,270.1 1049.6,270.6 1052.4,270.5 1054.9,271.5 1057.4,271.6 1059.1,274.1 1061.6,276.0 1063.0,278.7 1065.3,280.6 1064.0,283.0 1065.2,286.0 1063.1,288.3 1064.4,291.3 1062.8,293.7M1050.9,265.1 1053.6,267.7 1056.3,270.2M700.0,285.8 702.0,288.8 705.1,290.3 707.9,292.3 708.6,295.2 709.7,297.9 711.5,300.3 713.1,302.8M755.4,351.8 757.9,350.5 760.3,349.2 763.0,348.1 764.2,345.1 766.1,342.6 768.0,340.2 770.6,339.6 773.2,339.1 775.9,339.8 778.2,338.9 778.9,341.7 779.4,344.5 780.4,347.2 780.6,350.1 781.4,352.9 781.0,355.8 782.2,358.5 784.5,360.6 784.2,364.1 786.4,366.1 787.7,368.7 789.7,370.7 791.4,372.8 794.3,373.9 796.8,375.5 798.9,378.0 802.5,377.9 805.1,379.5 807.1,382.0 809.8,382.9 812.0,384.9 814.8,385.6 817.6,386.2 820.2,387.6 822.8,387.5 825.4,387.8 828.0,388.5 830.6,388.3 833.1,386.9 836.0,386.0 838.6,384.4 840.6,387.1 843.5,388.3 846.3,389.7 844.1,391.8 841.2,392.6 838.6,393.9 835.8,394.9 834.4,397.5 832.5,399.8 831.7,403.1 834.2,405.4 836.4,407.9 838.4,410.7 838.8,413.7 841.4,415.7 842.3,418.5 843.4,421.0 844.1,423.8 843.5,426.3 841.7,428.8 842.2,431.4 841.1,434.1 840.6,437.1 837.7,438.9 836.8,441.8 835.9,444.6M669.1,455.2 671.5,453.0 673.0,450.3 674.0,447.1 675.0,444.6 676.8,442.7 678.8,440.9 680.3,438.8 681.7,436.6 682.9,434.2 685.2,432.7 686.8,430.6 687.9,428.2 690.1,426.4 691.0,423.8 690.9,420.7 692.7,418.4 694.5,416.1 694.8,413.1 697.3,411.4 698.3,408.3 700.9,406.7 703.8,405.4 705.4,402.8 706.9,400.5 707.2,397.6 709.1,395.5 710.4,393.2 711.1,390.4 713.0,388.4 714.0,385.8 716.6,384.2 717.6,381.4 719.1,378.9 721.2,376.4 724.1,378.0 726.4,380.8 728.3,377.8 730.9,375.6 733.8,374.0 734.7,371.5 735.8,369.0 735.9,366.3 736.8,363.8 736.3,361.0 736.2,358.2 738.3,355.9 737.9,353.1 739.2,350.7 739.2,348.1 736.6,345.8 734.6,343.1 732.4,340.1 734.3,337.1 734.1,333.7 736.7,333.6 739.3,334.0 741.9,334.2 744.6,333.7 746.9,335.2 749.1,337.0 750.6,339.6 753.5,340.7 755.5,342.8M646.7,350.6 646.7,347.2 647.8,343.7 650.9,344.0 653.4,342.8 655.6,340.7 658.6,340.4 661.0,339.2 662.6,336.8 665.2,335.9 667.9,335.0 669.6,332.7 672.4,332.0 674.0,329.5 677.1,329.5 680.1,330.2 683.4,329.6 684.2,332.2 683.7,335.1 685.2,337.5 685.2,340.3 687.0,342.6 687.2,345.1 689.8,346.4 692.6,347.4 694.7,349.6 697.3,350.8 699.0,353.0 701.7,354.1 703.2,356.6 705.4,358.3 708.4,357.8 711.3,356.6 714.2,357.0 716.2,354.4 716.1,351.1 716.9,348.1 718.1,345.4 717.6,342.8 717.2,340.2 716.4,337.7 717.2,334.8 714.7,333.5 712.3,332.0 710.7,329.8 711.1,326.7 712.7,324.3 714.8,321.8 713.1,319.5 713.2,316.6 715.7,317.8 718.3,318.2 720.9,317.7 723.5,316.4 726.5,315.8 728.8,313.9 732.3,314.4 735.4,312.7M658.3,296.8 661.3,297.1 663.6,295.3 666.0,294.3 668.1,292.1 669.5,289.4 672.4,287.9 674.1,285.1 676.3,287.4 679.2,288.1 681.8,289.1 684.3,288.1 687.2,288.2 689.6,286.7 692.5,287.4 694.7,285.2 697.5,285.3 699.6,287.2 702.0,288.6 703.4,291.3 706.1,292.4 708.0,294.6 711.3,294.0 714.5,293.2M681.7,389.7 682.2,387.1 682.0,384.3 682.7,381.8 684.7,379.5 684.3,376.7 685.3,374.1 684.5,371.3 685.9,368.9 685.9,366.2 686.7,363.6 686.9,361.1 685.2,358.8 684.7,356.0 683.6,353.4 682.9,350.4 685.5,348.3 687.1,345.4M726.4,214.8 727.1,217.4 726.7,220.3 727.6,222.8 728.0,225.5 728.7,228.1 730.3,230.2 733.7,232.1 736.9,234.1 739.7,236.7 743.3,238.5 747.1,235.7M731.6,251.4 732.5,254.4 732.9,257.6 733.9,260.6 736.5,262.8 738.0,265.8M770.8,287.7 767.9,286.9 765.5,285.1 762.5,284.7 760.1,283.0 757.9,281.0 755.1,280.5 752.4,280.1M726.2,279.0 729.3,279.2 731.9,280.5 734.1,282.4 736.7,282.1 739.3,282.3 741.9,282.5 744.5,281.7 747.1,282.7M765.3,402.7 767.6,401.3 768.9,398.8 771.8,398.1 773.3,395.9 775.5,394.4 776.9,392.3 777.9,389.7 779.3,387.3 779.4,384.4 779.6,381.6 782.2,379.5 782.6,376.8 782.9,373.9 783.4,371.1 786.0,369.1 786.3,366.2M786.2,327.1 788.9,329.2 790.2,332.0 791.8,335.0 790.6,337.5 791.7,340.2 789.9,342.7 790.1,345.3 791.3,348.1 790.0,350.5 789.8,353.3 788.4,355.7 787.5,358.2 788.1,361.1 787.8,363.9 786.3,366.2M840.7,318.1 842.6,320.8 842.8,324.2 844.6,326.9 846.1,329.7 845.3,332.2 845.4,334.9 845.4,337.5 846.0,340.3 844.3,342.7 844.5,345.4 844.0,348.0 843.3,350.6 844.9,353.1 843.8,355.9 845.7,358.3 844.6,361.1 844.7,363.7 846.2,366.2 845.9,368.9 845.9,371.6 846.5,374.1 847.3,376.7 848.4,379.2 849.4,381.7 849.0,384.6 847.8,387.2 846.3,389.7M881.8,334.9 882.6,337.4 883.6,340.0 883.1,342.9 883.8,345.5 885.4,347.8 885.7,350.6 885.6,353.2 886.0,355.8 885.1,358.5 886.5,361.0 886.8,363.6 885.8,366.3 886.9,369.1 884.4,370.0 882.4,371.8 879.6,372.2 877.6,374.1 875.5,375.9 874.7,378.9 872.1,380.4 870.5,382.6 869.0,385.0 867.0,387.1 865.6,389.5 866.3,392.6 865.0,395.1 864.0,397.7 863.5,400.4 862.1,403.2 859.5,403.9 856.9,404.7 854.0,404.3 851.6,405.5 849.1,406.9 846.4,406.8 843.7,408.1 841.2,409.6 838.5,410.6M890.7,424.0 888.2,425.0 885.7,425.6 882.7,423.9 880.2,424.9 877.8,426.8 874.9,426.1 872.0,426.6 869.8,428.8 867.6,431.0 864.6,431.5 862.0,432.9 859.5,434.4 856.7,435.3 854.6,437.7 851.1,437.2 849.0,439.3 847.0,436.5 845.3,433.5 842.4,431.5M625.6,438.1 627.3,440.8 628.2,443.7 629.4,446.6 630.1,449.8 629.1,452.4 629.7,455.0M835.6,447.7 834.8,450.3 833.5,452.7 831.2,454.4 829.3,456.4 827.6,458.5 827.5,461.7 825.2,463.6 826.1,466.4 827.6,469.0 829.7,471.2 830.8,473.7 833.0,475.7 836.0,475.8 838.6,477.0 841.1,478.5 843.8,479.3 846.0,481.3 849.2,481.8 849.6,484.5 848.1,487.0 847.7,489.6 847.4,492.1 845.7,494.6 843.8,497.0 842.2,499.5 841.5,502.7 840.0,505.3 838.8,507.8 839.1,510.4 838.7,513.1 840.0,515.6 838.8,518.3 840.2,520.9 839.7,523.5 839.4,526.0 839.8,529.0 839.1,531.7 837.5,534.0 837.2,536.8 835.2,539.0 835.9,542.1 833.4,544.2 833.1,547.3 836.0,548.9 839.2,549.5 842.3,550.5 844.9,552.2 845.0,554.9 845.2,557.5 845.4,560.1 845.2,562.7 844.7,565.3 844.7,567.8 843.2,570.2 843.8,573.4 842.6,575.9 841.4,578.4 840.2,580.9 839.7,583.7 838.8,586.1 839.7,588.7 839.4,591.4 839.4,594.0 838.5,596.7 839.5,599.1 837.8,601.2 836.3,603.5 835.0,605.9 834.3,608.6 832.7,610.8 832.8,613.9 830.3,615.7 829.1,618.1 828.4,620.8 826.6,622.9 825.0,625.3 825.5,627.9 825.1,630.6 825.9,633.2 825.8,635.8 824.6,638.4 826.5,641.0 825.7,643.5 826.2,646.4 827.9,648.8 829.8,651.1 829.8,654.2 831.5,656.5 832.2,659.3 833.7,661.8 834.7,664.5 835.8,667.1 836.5,669.7 837.5,672.2 837.7,674.8 836.5,677.7 837.6,680.2 839.0,682.6 838.3,685.6 840.9,686.5 843.2,687.8 844.7,690.1 847.2,691.2 848.9,693.2 848.6,695.8 849.1,698.5 848.2,701.0 849.0,703.7 847.9,706.2 847.5,708.8 848.4,711.5 847.5,714.1 848.1,716.8 847.1,719.3 845.9,721.8 846.4,724.5 846.1,727.2 846.3,729.9 848.2,732.2 846.8,735.2 847.9,737.7 849.8,740.0 848.7,742.9 850.2,745.4 851.2,747.9 850.0,750.8 851.5,753.2 850.0,755.6 850.4,758.7 848.2,760.9 848.7,764.0 847.4,766.5 846.2,769.0 845.4,771.3 846.1,774.2 848.2,776.4 849.3,779.1 849.8,782.2 851.6,784.6 850.1,787.0 850.0,789.7 848.8,792.2 848.9,795.0M888.1,467.4 885.6,466.1 883.0,465.7 880.5,466.3 878.0,467.6 876.8,470.1 874.3,471.3 872.5,473.3 870.4,474.9 869.7,477.9 867.2,479.3 864.5,479.0 861.8,478.9 859.3,479.8 856.9,481.6 854.1,480.8 851.7,482.3 848.9,481.8M717.1,471.4 720.2,469.7 721.8,466.3 724.7,465.1 726.6,467.0 729.2,468.3 731.3,470.2 732.9,472.5 734.2,475.1 736.7,476.6 739.6,476.7 742.3,477.4 744.8,478.5 746.9,480.9 750.0,480.6 752.3,482.2 755.0,482.9 757.4,484.6 760.3,485.1 763.1,485.7 765.1,488.3 768.0,488.7 770.5,490.2 773.1,491.1 775.4,493.0 778.9,492.2 781.2,494.1 784.0,494.8 786.3,496.7 788.6,498.6 791.2,499.6 794.5,499.2 796.8,501.1 799.2,502.5 801.9,502.6 804.6,502.4 807.2,503.0 809.9,502.8 812.3,504.2 815.0,504.3 817.4,505.9 820.2,505.9 823.0,505.3 825.5,506.4 828.2,506.7 830.7,508.2 833.3,508.1 835.9,506.9 838.5,507.9M811.3,475.1 812.7,477.7 813.8,480.4 814.8,483.1 816.5,485.6 817.7,488.2 820.2,489.5 821.0,492.3 823.1,493.9 825.4,495.4 826.4,498.0 827.8,500.4 831.2,500.9 833.7,502.9 835.9,505.3M630.8,440.0 631.5,442.6 631.5,445.2 631.0,447.8 631.5,450.4 630.8,453.1 630.9,455.7 630.0,458.3 629.9,460.9 631.2,463.2 633.2,465.2 635.2,467.2 637.3,469.1 640.0,470.2 642.0,471.8 644.1,473.4 646.6,474.5 648.8,475.9 650.6,477.8M683.1,441.1 679.8,441.9 676.7,443.0 673.9,445.2 673.6,448.0 671.8,450.3 670.9,452.9 670.5,455.7 669.4,458.2 669.1,461.0 667.8,463.5 667.3,466.2 666.4,469.0 663.8,470.5 661.2,472.1 657.8,472.4 655.8,474.8 653.3,476.6 650.8,477.9 650.0,480.7 648.6,483.2 647.9,486.0 647.1,488.7 644.2,490.6 643.9,493.6 642.8,496.1 641.1,498.3 640.1,500.8 638.9,503.2 637.5,505.6 635.6,507.6 634.1,509.8 632.1,511.7 631.5,515.0 630.8,518.0 628.2,519.9 624.7,520.1 622.1,522.1 619.6,523.7 618.6,526.5 616.5,528.7 614.4,530.9 614.3,534.1 612.2,536.3 611.4,539.2 608.9,540.8 608.3,544.2 605.7,545.7M621.8,479.1 624.8,478.6 626.8,476.1 629.5,475.2 629.5,471.9 630.7,468.9 632.3,466.1M632.2,510.7 629.4,508.8 625.9,508.4 623.2,506.6 620.7,508.0 617.9,507.9 615.1,508.1 612.6,509.4 610.3,510.7 607.7,512.0 605.3,513.5 603.8,515.9 602.5,518.6 599.4,519.3 597.2,521.1 595.8,523.7 593.5,525.5 590.8,526.8 587.9,527.4 586.1,525.0 583.4,523.5 581.4,521.2 578.1,520.6 576.2,518.4 573.5,519.4 571.3,521.2 569.2,523.2 566.5,524.2 564.5,526.2 563.5,529.3 561.1,531.5 559.4,534.3 556.7,535.4 554.8,537.5 552.3,538.9 550.0,540.4 547.3,542.0 544.2,542.5 541.6,544.4 538.3,544.0 535.5,544.7 532.5,544.2 530.0,546.7 527.0,545.9 524.1,546.1 521.3,547.0M550.2,540.4 552.3,542.2 553.7,544.4 555.3,546.6 555.7,549.5 558.4,550.9 559.1,553.8 561.6,554.7 563.8,556.2 566.1,557.6 568.5,558.9 570.8,560.1 571.0,563.0 572.0,565.9 571.4,568.9 572.2,571.8M687.2,545.6 688.9,547.9 690.9,549.8 693.0,551.7 695.7,552.7 697.3,555.0 698.2,558.0 700.8,560.0 702.7,562.4 703.8,565.3 705.1,568.2 707.9,569.1 710.0,570.7 711.3,573.2 713.0,575.3 714.7,577.3 717.3,578.4 718.3,581.3 721.2,582.1 724.0,584.7 727.6,586.2M692.1,563.7 694.3,561.2 697.5,560.1M765.7,546.9 767.2,549.3 767.1,552.2 768.0,554.9 771.4,554.8 774.2,556.2 775.2,558.7 776.0,561.3 776.4,563.9 775.5,566.7 775.5,569.3 777.5,571.7 777.1,574.4M825.3,625.7 823.0,624.0 820.1,624.4 817.9,622.1 815.0,622.3 812.5,621.3 809.7,621.2 807.3,619.9 804.5,618.9 801.8,617.8 799.7,615.4 796.3,615.7 794.3,613.1 791.1,612.3 791.4,609.6 790.4,607.1 790.5,604.6 790.6,601.4 792.9,599.3 794.0,596.6 794.1,593.7 793.3,591.1 791.6,588.7 789.1,587.3 787.2,585.3 785.3,583.3 783.7,581.0 780.8,580.4 778.2,579.4 776.1,577.2 773.4,576.3 770.5,575.9 768.0,574.0 765.5,575.3 762.8,574.7 760.2,575.8 757.5,574.5 754.9,574.7 752.3,575.9 749.6,575.0 746.8,574.7 743.9,575.7 741.1,575.4 738.4,574.8 735.6,573.8 733.0,574.6 731.1,577.2 730.0,580.2 729.0,583.3 727.5,586.1 725.2,588.3 724.8,591.7 721.9,593.6 721.1,596.7 718.5,598.0 716.3,599.7 715.2,602.6 712.1,603.3 710.4,605.3 708.1,607.1 705.7,608.7 703.1,609.5 699.8,609.5 699.8,612.8 696.7,614.5 696.9,617.8 694.5,619.9 694.4,623.1 692.5,625.5 690.1,627.0 688.3,629.6 685.4,628.8 682.9,626.8 679.9,626.4 677.1,625.3 674.3,625.0 671.2,624.4 669.3,622.3 667.9,619.6 665.6,618.0 662.5,617.4 661.0,614.9 658.9,612.6 657.7,609.7 655.5,607.5 653.8,605.0 653.5,601.6 651.2,599.8 650.6,596.8 647.6,595.5 646.6,592.7M688.4,629.2 689.6,632.0 689.4,634.9 690.4,637.6 689.7,640.6 691.3,643.3 690.8,646.3 692.3,648.8 694.4,651.1 695.2,653.9 696.2,656.7 698.2,659.9 701.5,661.9M688.5,629.4 685.5,631.7 681.7,632.8 678.8,633.3 676.2,634.6 673.8,636.6 670.9,637.1M868.7,531.6 866.6,533.7 864.6,536.0 862.3,538.0 859.4,539.2 858.0,541.9 856.1,544.3 854.9,547.2 854.0,550.2 851.5,552.1 848.3,551.9 845.0,552.2M868.5,562.6 865.7,563.5 862.7,564.0 859.7,564.3 857.0,565.4 854.2,566.6 851.5,568.0 848.3,568.3 845.0,567.9M865.9,626.7 863.2,625.4 860.3,626.5 857.5,626.3 854.7,626.1 851.9,626.5 849.2,624.4 846.2,625.7 843.8,624.1 841.4,622.4 838.3,622.7 836.0,620.9 833.3,620.2 831.0,622.3 828.4,624.1 825.4,625.3M848.8,670.0 846.6,668.1 843.9,667.4 841.1,666.7 838.5,668.1 835.9,667.1M766.7,669.9 769.5,669.5 772.3,670.4 775.1,670.4 777.9,670.0 780.6,671.7 783.6,669.7 786.1,671.0 785.7,673.9 786.7,676.7 786.7,679.5 786.1,682.4 788.0,685.1 787.5,688.0 788.7,690.9 790.9,693.1 791.8,696.0 793.9,698.3 795.2,701.1 796.6,703.7 798.0,706.4 800.2,708.7 801.2,711.6 802.9,714.1 804.7,716.5 807.0,718.5 810.0,719.4 811.9,722.2 815.0,722.9 817.5,724.7 820.2,725.6 822.8,726.6 825.7,727.1 828.3,728.0 830.7,730.1 833.3,729.4 835.9,728.9 838.5,728.5 841.2,728.7 843.6,727.0 846.3,727.1M777.1,700.8 780.3,700.7 783.0,699.0 786.1,698.4 788.8,697.4 792.8,698.4M776.1,753.5 778.5,751.7 779.3,748.3 781.9,746.8 784.7,745.4 786.4,743.0 788.5,740.5 791.1,738.9 793.8,737.4 796.7,735.9 799.3,735.5 802.1,736.1 804.6,735.0 807.2,734.4 809.6,733.2 812.4,733.6 815.2,734.2 817.7,733.0 820.2,731.9 822.8,731.4 825.6,731.5 828.2,730.9 830.7,729.7M809.7,764.7 812.5,764.4 814.9,762.7 817.6,762.1 820.3,760.8 822.9,761.6 825.5,762.3 828.1,763.2 831.0,763.2 833.4,764.8 835.5,766.4 838.4,766.7 840.7,768.3 842.4,770.6 845.0,771.5M910.2,630.6 909.6,633.3 909.0,635.9 907.4,638.5 910.0,642.3M849.1,779.9 849.0,782.7 849.1,785.4 851.0,787.7 851.0,790.4 851.2,793.2 853.2,795.4 855.5,797.2 858.0,798.9 859.3,801.7 861.4,803.7 863.0,806.1 863.4,808.7 862.9,811.3 862.2,813.9 861.7,816.5 862.5,819.2 862.2,821.8 861.6,824.4 860.6,826.9 862.0,829.6 860.1,832.1 860.5,834.8 861.0,837.4 860.4,840.0 859.7,842.6 859.0,845.2 856.5,846.8 856.1,849.6 854.6,851.8 853.5,854.1 851.5,856.1 850.6,858.6 850.9,861.6 848.7,863.6 851.1,865.1 853.4,866.7 855.2,869.0 858.0,869.9 860.2,871.6 862.0,874.0 864.9,874.8 867.1,876.6 867.5,879.2 867.2,881.9 868.0,884.5 868.3,887.1 869.4,889.6 870.7,892.1 869.7,894.9 870.4,897.5 870.4,900.2 870.8,902.8 872.7,905.2 872.4,907.7 875.0,908.6 876.4,911.5 879.5,911.6 881.7,913.1 883.2,915.8 885.6,917.0 888.3,918.1 889.2,920.9 890.8,923.2 892.9,925.2 895.3,926.9 895.8,930.0 897.9,931.9 899.2,934.4 900.6,936.9 902.0,939.1 903.5,941.3 906.3,942.4 907.5,944.8 908.8,947.1M881.4,810.0 881.7,813.2 878.8,815.5 879.5,818.8 878.8,821.6 877.6,824.5 876.4,826.8 873.7,828.1 872.7,830.6 871.2,832.7 869.7,834.9 866.8,836.2 863.6,836.1 860.5,836.1M807.0,820.8 809.5,821.7 812.1,822.3 815.0,821.6 817.6,822.1 820.3,822.3 822.7,823.9 825.3,824.3 827.9,824.1 830.5,824.0 833.1,824.1 835.7,823.4 838.4,824.2 840.9,822.7 843.6,824.2 846.2,823.1 849.2,823.2 851.5,824.8 854.0,826.3 856.7,827.1 859.2,828.3M810.9,857.1 813.7,856.4 816.5,856.1 819.4,857.1 822.1,855.8 825.0,856.5 827.8,856.5 830.5,855.8 833.1,855.4 835.8,856.2 838.3,854.9 841.0,855.7 843.5,853.6 846.2,854.4 847.7,856.8 850.4,858.1 851.4,860.9M796.6,882.1 799.1,880.7 801.8,881.7 804.4,880.6 807.1,882.1 809.6,881.1 812.3,881.5 814.9,880.7 817.5,880.6 820.1,880.7 822.7,879.7 825.3,879.4 828.0,880.6 830.5,878.9 833.2,880.4 835.7,878.7 838.3,878.8 840.8,877.8 843.7,878.7 846.4,878.5 848.7,876.8 851.5,876.7 853.9,875.3 856.6,875.3M844.8,942.2 847.6,942.7 850.6,942.0 853.5,942.2 856.1,944.0 859.2,943.0 861.8,944.7 864.5,944.2 867.1,944.2 869.7,945.1 872.3,944.7 874.9,945.4 877.5,944.7 880.1,946.5 882.7,945.6 885.4,946.3 887.9,944.6 890.6,945.8 893.2,945.9 895.8,944.4 898.3,944.0 901.6,943.5 904.9,943.1M865.8,949.8 868.4,948.4 871.4,948.5 874.0,946.8 877.0,947.0 880.0,946.9 882.7,945.8M961.0,996.6 963.4,994.8 964.6,991.9 967.8,990.9 968.8,987.7 971.5,986.6 974.1,987.3 976.7,987.2 979.3,986.3 981.9,985.8 984.5,985.9 987.1,986.8 989.7,986.2 992.4,987.2 994.6,986.1 995.8,983.6 997.5,981.2 997.6,978.3 995.0,977.0 991.9,976.6 989.4,975.2 987.1,973.4 984.7,971.7 982.1,971.1 979.2,971.8 977.1,970.5 975.2,968.1 975.9,965.3 976.1,962.5 974.3,960.2 974.5,957.6 975.1,955.0 974.4,952.0 975.7,949.6 976.6,947.0 976.8,944.3 978.2,941.9 978.1,938.8 980.2,936.3 979.9,933.1 980.2,930.1 981.9,927.5 984.6,927.0 987.1,928.3 989.7,929.2 992.3,929.2 995.0,929.3 997.7,928.7 1000.2,930.1 1001.7,927.8 1004.6,927.2 1006.0,924.7 1008.6,924.0 1010.6,922.1 1013.2,921.8 1015.9,922.2 1018.4,920.9 1021.0,920.7 1023.8,922.1 1026.2,920.9 1028.9,919.4 1031.0,917.4 1032.5,914.7 1034.1,912.1 1036.7,910.2 1039.4,911.1 1041.9,909.2 1044.6,909.9 1047.2,909.7 1049.7,908.6 1052.4,909.2 1054.8,910.6 1056.1,913.0 1058.0,914.8 1060.1,916.5 1062.2,918.1 1063.7,920.2 1065.5,922.0 1068.1,921.7 1070.7,922.2 1073.2,923.9 1075.9,923.3 1078.6,923.9 1080.9,922.0 1083.9,923.4 1086.3,921.9 1089.1,922.0 1091.6,920.9 1094.2,920.6 1096.9,919.4 1099.2,921.2 1102.3,921.0 1104.8,922.3 1107.6,922.9 1109.8,924.9M903.7,1003.9 905.3,1006.8 907.5,1009.3 908.9,1012.6 911.2,1010.7 914.1,1010.9 916.5,1009.4 919.3,1009.4 921.8,1008.6 924.4,1009.1 927.2,1008.0 929.8,1008.6 932.3,1009.7 935.1,1010.1 937.2,1007.9 940.2,1008.2 942.8,1007.1M942.6,1007.1 941.6,1009.6 942.1,1012.4 940.6,1014.8 940.9,1017.6 939.4,1020.0 940.9,1023.0 938.4,1025.2 938.9,1028.0 939.2,1030.6 940.1,1033.1 940.0,1035.8 939.1,1038.5 939.4,1041.1 940.7,1043.6 940.2,1046.3 938.7,1048.8 936.7,1050.6 934.7,1052.6 932.5,1054.1 931.0,1056.6 930.6,1059.2 930.8,1061.8 931.2,1064.5 930.9,1067.1 930.0,1069.7 929.4,1072.3 929.4,1074.9 929.6,1077.5 927.2,1080.4 924.4,1080.5 921.7,1080.6 919.1,1081.3 916.8,1083.4 913.9,1082.6 911.5,1084.0 909.0,1085.0 906.0,1083.8 903.7,1085.3 901.2,1083.9 898.1,1084.2 896.0,1081.8 893.5,1080.6 890.9,1079.7 888.1,1079.0 885.6,1077.9 882.8,1077.3 880.2,1076.1 877.4,1075.1 875.2,1073.0 872.6,1071.8 869.8,1070.8 867.2,1070.0 865.7,1067.4 863.0,1066.8 861.2,1064.7 858.0,1064.9 856.8,1061.9 854.0,1061.4M906.2,1051.2 908.9,1050.7 911.3,1052.3 914.1,1051.3 916.7,1051.5 919.3,1052.4 921.9,1052.5 924.5,1053.1 927.0,1054.3 929.7,1054.2 932.3,1054.1M957.1,872.8 959.9,871.9 963.0,872.2 965.8,871.7 968.7,871.0 971.4,870.4 973.9,871.5 976.7,871.4 979.6,871.5 981.8,873.5 984.6,874.3 987.2,873.0 990.1,873.0 992.9,873.0 995.7,872.3 998.1,870.0 1001.0,870.5 1003.6,868.9 1006.4,868.5 1009.2,869.0 1012.0,870.2 1014.4,872.2 1017.2,873.6 1019.9,875.2 1021.6,878.0 1022.7,881.0 1023.0,884.4 1025.0,887.1 1027.7,885.5 1030.4,884.1 1033.4,883.4 1036.6,883.3 1039.4,881.8 1041.0,884.0 1042.8,886.2 1045.8,887.1 1047.0,889.7 1048.9,892.2 1048.0,895.4 1050.1,897.8 1050.6,900.7 1049.9,903.9 1051.9,906.3 1052.4,909.2M1077.4,868.6 1077.7,871.7 1079.6,874.1 1080.8,876.7 1082.0,879.1 1082.4,881.8 1082.1,884.7 1083.7,887.0M1035.4,961.4 1037.1,958.8 1036.1,955.6 1038.1,953.1 1037.3,949.9 1038.7,947.3 1039.2,944.0 1041.8,943.0 1044.8,943.9 1047.1,942.1 1050.0,942.1 1052.2,940.2 1054.9,939.7 1057.3,939.1 1059.0,936.7 1060.9,934.4 1061.6,931.4 1062.6,928.7 1064.5,926.3 1065.4,922.3M1068.4,964.1 1069.1,961.2 1068.4,957.9 1070.3,955.3 1070.6,952.2 1073.5,950.9 1074.6,947.9 1077.2,946.3 1079.2,944.1 1081.0,941.8 1081.8,939.2 1082.8,936.7 1083.9,934.2 1083.7,931.4 1084.1,928.7 1085.2,926.5 1086.9,924.0 1090.1,924.2 1092.3,922.6 1094.5,921.1 1096.8,919.7M1050.0,795.6 1050.2,798.4 1050.7,801.1 1051.8,803.6 1052.5,806.3 1054.7,808.4 1054.8,811.2 1055.5,813.8 1055.7,816.8 1057.1,819.1 1059.8,820.6 1060.3,823.4 1061.6,825.8 1063.9,827.5 1064.6,830.3 1065.2,833.0 1066.7,835.2 1068.5,837.4 1068.2,840.1 1069.8,842.6 1069.7,845.3 1070.5,847.8 1070.7,850.9 1073.3,852.1 1075.8,853.7 1078.5,854.7 1081.4,855.5 1083.5,857.9 1086.4,858.4 1087.2,861.1 1089.1,863.3 1090.4,865.9 1090.6,868.8 1091.5,871.2 1089.6,873.6 1088.9,876.8 1087.7,879.6 1085.5,881.8 1083.6,884.6 1085.9,886.7 1086.1,889.9 1088.5,891.9 1089.5,894.7 1091.3,897.0 1091.9,899.9 1094.3,901.6 1095.9,904.4 1098.3,906.1 1101.7,906.5 1104.0,908.4 1105.7,910.6 1107.3,913.3 1107.6,916.2 1107.8,919.1 1109.1,921.8 1108.7,924.9M1077.6,868.7 1078.6,871.6 1079.6,874.5 1079.4,877.9 1081.5,880.4 1083.9,884.4M1166.4,823.2 1163.5,824.8 1162.3,827.7 1159.7,829.4 1158.2,832.2 1157.6,834.8 1158.4,837.5 1158.6,840.1 1157.1,842.6 1157.6,845.3 1157.2,847.9 1156.8,850.5 1156.8,853.0 1156.1,855.6 1154.7,857.8 1152.3,859.5 1151.7,862.2 1150.9,864.7 1148.9,866.6 1148.3,869.3 1146.3,871.3 1147.1,874.2 1144.9,876.4 1145.0,879.2 1144.9,881.9 1143.2,884.2 1144.2,887.1 1143.7,889.7 1143.0,892.4 1141.3,894.8 1139.6,897.2 1138.4,899.9 1137.6,902.8 1135.5,905.0 1135.6,908.3 1133.7,910.6 1131.9,913.0 1130.0,915.3 1129.4,918.2 1128.2,921.1 1130.6,922.8 1133.6,923.4 1135.7,925.7 1138.5,926.2 1139.7,928.7 1140.1,931.4M1239.3,797.0 1237.9,800.1 1238.1,803.4 1240.2,805.7 1240.5,809.1 1242.8,811.4 1244.4,813.9 1243.8,816.5 1243.1,819.1 1244.5,821.8 1243.8,824.4 1243.5,826.9 1244.0,829.5 1244.5,832.2 1244.4,835.0 1245.4,837.5 1246.3,840.1 1247.2,842.7 1245.6,845.2 1244.9,848.1 1242.5,850.1 1241.3,852.8 1240.5,855.4 1238.0,856.8 1235.3,856.1 1232.6,856.3 1230.1,857.2 1227.4,856.7 1224.8,857.1 1222.1,858.3 1221.2,860.8 1221.2,863.5 1220.3,866.0 1221.6,868.9 1220.0,871.3 1219.6,873.9 1219.6,876.5 1218.2,879.1 1216.7,881.7 1213.9,883.1 1211.7,885.1 1210.7,888.1 1209.0,890.4 1206.8,892.4 1205.6,895.3 1202.8,897.2 1201.0,900.3 1202.1,903.0 1204.3,905.2 1204.9,908.1 1206.8,910.9 1203.7,911.2 1201.6,913.5 1199.3,915.4 1196.2,915.6 1193.6,916.5 1191.0,916.2 1188.3,916.7 1185.7,915.9 1183.1,915.6 1180.3,915.9 1182.9,917.8 1183.0,921.3 1185.9,923.1 1187.3,925.9 1188.3,928.9 1191.1,930.1 1193.8,931.6 1196.1,933.6 1199.1,934.5 1201.2,936.7 1202.9,939.0 1202.4,942.1 1204.1,944.7 1206.6,944.0 1209.0,942.4 1212.0,943.5 1214.2,941.3 1217.1,941.8 1219.6,940.6 1221.9,938.9 1225.0,939.0 1227.7,938.1 1230.2,936.7 1231.2,933.9 1232.7,931.4M1222.3,947.1 1221.2,949.6 1221.1,952.5 1218.9,954.6 1217.8,957.2 1217.3,959.9 1216.7,962.5 1216.1,965.5 1213.5,967.5 1214.0,971.0 1211.8,973.2 1208.7,974.6 1205.3,974.4 1208.4,973.9 1211.3,972.9 1214.1,971.4 1217.1,970.4 1219.9,970.8 1222.3,972.1 1225.0,973.1 1227.2,975.4 1227.9,978.7 1230.1,981.0 1228.5,983.3 1227.1,985.8 1224.9,987.5M1286.1,780.0 1286.5,782.7 1285.9,785.3 1284.8,787.8 1284.1,790.4 1283.0,792.9 1283.1,795.6 1282.2,798.1 1281.8,800.7 1281.8,803.4 1281.4,806.0 1282.4,808.9 1281.3,811.3 1282.7,813.7 1281.5,816.7 1282.5,819.3 1283.3,821.8 1284.8,824.2 1285.0,827.1 1284.0,830.0 1281.5,832.1 1279.3,834.3 1279.0,837.6 1277.5,840.0 1278.4,842.5 1278.5,845.2 1277.9,848.1 1278.7,850.6 1280.0,853.1 1281.3,855.5 1281.3,858.1 1283.5,860.0 1284.5,863.1 1286.9,864.8 1288.0,867.7 1290.1,869.8 1292.6,871.2 1290.9,873.3 1288.5,874.6 1287.7,877.5 1285.9,879.4 1283.3,880.6 1281.6,882.5 1280.0,884.4 1280.3,887.0 1280.8,889.6 1278.8,892.2 1279.2,894.9 1278.7,897.5 1278.6,900.1 1279.8,902.7 1279.5,905.2 1279.1,908.0 1277.4,910.3 1276.5,912.9 1277.2,916.0 1276.6,918.7 1275.4,921.1 1273.8,923.5 1273.3,926.2 1273.1,929.2 1270.3,931.1 1269.3,933.8 1268.9,936.6 1268.7,939.6 1266.3,941.8 1266.4,944.4 1267.3,947.1 1266.6,949.7 1265.7,952.3 1265.0,954.8 1265.7,957.5 1265.2,960.1 1265.4,962.5 1268.0,962.5 1270.4,964.3 1273.2,963.6 1275.9,963.3 1278.4,964.8 1281.1,964.1 1283.8,965.2 1285.0,967.6 1286.1,970.0 1287.3,972.3 1288.8,974.3 1286.3,975.9 1284.0,977.9 1281.0,978.4M1261.4,788.0 1264.4,787.9 1266.7,789.7 1269.3,790.6 1271.9,791.9 1274.6,791.2 1276.9,789.3 1279.8,789.1 1282.3,788.0 1284.9,788.1 1287.6,787.8 1290.0,789.8 1292.7,789.5 1295.5,788.7 1298.1,789.5 1300.9,790.7 1302.1,787.5 1304.5,785.2M1301.9,853.2 1299.0,851.6 1296.0,850.7 1292.7,850.4 1290.8,852.2 1290.4,855.3 1288.8,857.3 1285.7,858.2 1284.9,860.9M1389.3,871.1 1386.8,872.6 1384.2,872.7 1381.5,872.5 1378.8,871.2 1376.3,872.9 1373.6,872.1 1371.3,872.4 1369.2,870.9 1367.4,868.8 1364.5,868.4 1362.3,867.0 1360.8,865.2 1357.8,865.4 1355.7,867.7 1352.4,867.0 1350.0,868.6 1347.8,870.2 1345.3,872.1 1344.7,875.3 1342.3,877.2 1341.3,880.1 1338.4,881.6 1336.9,884.2 1334.7,886.0 1334.5,889.4 1331.3,890.5 1330.1,893.0 1327.9,894.8 1326.7,897.5 1324.3,898.5 1322.0,899.9 1319.5,900.8 1318.0,903.5 1315.8,904.8 1312.9,905.2 1310.9,907.0 1308.5,908.0 1307.5,910.8 1304.5,911.9 1303.1,914.8 1300.7,913.3 1298.1,913.0 1295.4,913.4 1292.6,913.8 1290.2,912.2 1287.4,912.8 1284.9,911.9 1282.2,912.2 1279.9,909.9 1277.1,910.5M1343.6,859.6 1344.0,862.2 1344.6,864.8 1343.2,867.4 1343.7,870.1M1329.4,937.6 1327.0,936.2 1323.8,936.8 1321.4,935.3 1318.9,934.2 1316.0,934.8 1314.0,937.3 1310.9,937.7 1307.9,938.3 1305.5,940.0 1303.6,942.1 1302.4,944.5 1300.8,946.7 1298.3,948.1 1296.9,950.4 1295.5,952.7 1294.1,954.9 1294.0,957.5 1293.4,960.1 1293.1,962.7 1292.3,965.3 1292.5,967.9 1292.7,970.3 1289.4,971.0 1286.4,972.5 1283.6,974.5M1384.0,781.5 1387.2,781.7 1389.2,784.3 1391.6,785.9 1394.6,786.4 1396.8,788.6 1400.1,788.5 1402.3,790.8 1405.0,790.9 1407.5,792.0 1410.3,791.6 1412.9,792.2 1415.5,792.9 1418.1,793.4 1420.7,794.0 1423.5,794.7 1426.0,796.4 1428.9,796.2 1431.6,797.3 1434.4,797.4 1437.2,798.0 1439.9,798.9 1442.8,798.3M1095.8,1097.3 1097.5,1094.6 1099.6,1092.4 1102.2,1090.5 1104.9,1089.8 1107.5,1090.4 1110.0,1092.0 1112.6,1092.3 1115.3,1091.2 1117.8,1092.3 1120.5,1092.2 1123.0,1093.0 1125.6,1093.0 1128.3,1092.7 1131.0,1091.9 1133.5,1093.7 1136.1,1093.1 1138.8,1092.8 1141.3,1091.5 1144.0,1091.1 1146.9,1091.2 1149.0,1088.8 1151.8,1088.8 1154.5,1088.1 1156.9,1087.1 1159.7,1086.9 1161.7,1084.8 1164.6,1084.8 1166.9,1083.3 1169.6,1082.9 1171.3,1080.1 1173.9,1079.3 1176.6,1078.9M1344.9,1034.7 1342.5,1033.2 1339.6,1034.8 1337.1,1033.9 1334.6,1032.5 1332.1,1031.6 1329.2,1033.0 1326.7,1031.9 1325.0,1034.7 1323.7,1037.6 1322.3,1040.5 1321.3,1043.5 1319.3,1046.6 1316.5,1048.8 1317.5,1051.4 1316.3,1054.1 1317.5,1056.6 1317.6,1059.3 1316.3,1062.0 1317.5,1064.4 1314.6,1064.8 1311.8,1065.2 1308.9,1065.9 1306.0,1066.2 1303.4,1067.2 1303.0,1070.1 1302.0,1072.7 1301.1,1075.4 1299.3,1077.7 1298.0,1080.2M1346.2,1066.1 1342.7,1065.3 1339.7,1063.2 1337.2,1061.9 1334.6,1062.3 1331.9,1062.9 1329.4,1061.6 1326.8,1062.2 1323.9,1063.6 1320.7,1064.1 1317.6,1064.5M1133.6,1154.4 1132.5,1157.2 1132.4,1160.2 1131.2,1162.9 1131.5,1165.9 1130.2,1169.0 1131.5,1172.1 1131.2,1175.2M1214.4,1132.4 1216.8,1135.5 1217.0,1139.6 1220.0,1138.3 1223.2,1139.3 1226.2,1138.1M1307.1,1160.1 1306.7,1163.3 1307.3,1166.6 1307.6,1169.8 1306.5,1173.0 1304.4,1175.3 1305.0,1178.6 1303.0,1180.9 1302.2,1183.7 1301.1,1186.3 1300.7,1189.2 1300.3,1192.3 1299.5,1195.2 1296.8,1197.5 1297.0,1200.7M958.4,404.8 958.9,407.6 959.9,410.1 961.5,412.5 962.7,415.0 963.7,417.6 962.8,420.8 965.2,422.9 964.3,426.1 966.2,428.3 967.8,430.5 970.7,431.4 971.7,434.2 974.5,435.2 976.4,437.2 978.2,439.2 980.8,440.4 982.6,442.4 983.8,445.1 986.5,446.1 988.4,448.0 989.8,450.5 992.4,451.6 994.8,452.9 996.9,454.6 998.8,456.5 1000.9,458.1 1002.7,460.2 1005.0,461.6 1006.6,463.9 1009.8,464.1 1011.1,466.8 1013.0,468.7 1015.9,469.3 1018.3,470.6 1019.9,472.9 1022.4,474.0 1024.1,476.2 1026.0,478.1 1028.7,479.1 1030.6,480.9 1032.0,483.3 1034.4,484.6 1036.2,486.4 1037.8,488.6 1040.2,489.8 1042.2,491.5 1043.7,493.8 1045.5,495.8 1046.7,498.3 1049.2,499.5 1051.8,500.5 1053.5,502.5 1054.7,505.1 1056.9,506.6 1058.3,508.9 1060.1,510.8 1062.5,512.1 1065.4,512.7 1066.5,515.7 1069.2,516.5 1071.7,517.5 1074.0,518.9 1075.3,521.7 1078.3,522.0 1080.6,523.3 1082.6,525.2 1083.9,527.9 1086.7,528.6 1088.7,530.3 1091.6,530.5 1093.6,532.4 1096.1,533.3 1098.6,534.3 1100.5,536.4 1103.2,537.0 1105.8,537.7 1107.3,540.6 1110.2,540.8 1112.9,541.4 1115.2,542.9 1116.9,545.2 1119.3,546.7 1122.1,547.6 1123.7,550.1 1125.5,552.3 1127.9,553.7 1130.5,554.9 1132.3,557.1 1134.4,559.0 1136.5,560.9 1139.3,561.7 1140.8,564.2 1141.2,567.0 1142.6,569.3 1143.4,571.9 1145.5,574.0 1145.4,577.0 1147.9,578.9 1148.9,581.4 1149.4,584.2M1088.7,365.7 1087.8,368.3 1089.5,371.0 1089.1,373.6 1089.4,376.2 1088.4,378.8 1088.9,381.4 1088.7,384.0 1087.3,386.6 1087.6,389.2 1086.7,391.8 1087.6,394.4 1088.3,397.2 1090.8,399.2 1090.0,402.6 1092.6,404.6 1093.3,407.4 1094.3,410.1 1094.6,413.1 1096.7,415.3 1096.8,418.3 1098.8,420.6 1100.7,422.9 1100.7,426.0 1103.1,428.1 1103.4,431.2 1105.5,433.2 1107.6,435.2 1108.1,438.4 1110.9,439.9 1112.5,442.3 1114.4,444.5 1115.5,447.2 1117.8,448.9 1119.6,450.8 1121.8,452.3 1122.7,455.1 1125.9,455.6 1126.8,458.4 1129.3,459.6 1130.9,461.7 1132.7,463.6M1053.6,378.8 1055.8,380.5 1058.8,380.7 1061.0,382.2 1063.6,383.2 1065.1,386.2 1068.1,386.3 1070.7,387.8 1072.4,390.3 1074.5,392.3 1076.3,394.7 1079.8,395.2 1081.7,397.3 1083.4,399.5 1085.7,397.1 1087.5,394.4M1053.6,407.4 1056.4,406.5 1059.6,406.7 1062.3,405.5 1065.3,405.1 1068.0,403.9 1070.4,402.4 1073.4,403.2 1075.7,401.4 1078.1,400.0 1081.2,401.2 1083.6,399.6M1120.5,408.9 1120.4,411.7 1119.0,414.1 1118.2,416.7 1116.0,418.9 1116.0,421.7 1114.4,425.2 1112.3,428.3M930.9,347.4 927.7,348.0 924.8,349.4 922.0,351.0 919.1,352.6 917.0,354.9 914.2,356.3 911.1,357.0 908.6,358.7 906.0,360.2 903.1,360.8 900.5,361.8 898.5,364.5 896.0,365.8 892.7,365.3 890.4,367.0 887.8,368.3M880.0,422.8 882.6,423.5 885.2,422.6 887.8,422.5 890.4,423.1M880.0,467.4 883.0,468.0 886.0,468.8 889.1,468.8M940.4,496.0 940.9,499.1 942.4,501.6 944.0,504.0 944.9,506.8 946.0,509.6 948.3,511.9 948.1,514.5 947.7,517.1 947.8,519.7 948.1,522.3 949.2,524.9 947.6,527.6 948.2,530.2 949.5,532.7 949.2,535.4 949.0,538.4 952.2,538.5 954.9,540.0 957.3,542.2 960.2,543.1 963.5,542.9 966.1,544.7 968.9,545.2 971.2,546.9 973.8,548.1 976.9,547.8 979.4,549.0 982.0,550.0 984.6,551.1 987.4,551.7 989.8,553.4 992.1,554.6 994.5,555.9 997.2,556.4 999.0,558.5 1001.1,560.4 1003.8,560.9 1006.4,561.7 1008.4,563.5 1011.1,564.2 1013.7,564.9 1015.7,566.7 1018.7,566.7 1020.8,569.0 1023.8,568.9 1026.3,570.3 1028.4,572.5 1031.2,573.1 1033.7,574.2 1036.5,574.6 1039.0,577.3 1041.8,579.7M1027.3,547.1 1026.7,550.1 1028.7,552.8 1027.7,555.8 1029.0,558.6 1029.0,561.4 1029.7,564.4 1031.7,566.8 1032.8,569.7 1034.3,572.3 1036.6,574.5M1174.9,519.7 1176.3,522.2 1177.3,524.7 1176.8,527.6 1177.1,530.3 1178.7,532.6 1179.8,535.1 1180.6,537.7 1180.4,540.4 1181.3,543.1 1184.1,544.5 1185.2,547.0 1186.6,549.3 1187.3,552.0 1188.2,554.6 1191.0,556.1 1192.2,558.6 1191.3,561.7 1192.0,564.4 1194.5,566.5 1194.7,569.3 1194.3,571.9 1194.5,574.6 1194.1,577.1 1193.7,579.7 1194.0,582.4 1193.6,584.9 1194.7,587.4 1195.0,590.0 1195.7,592.6 1195.1,595.5 1195.7,598.0 1195.6,600.8 1193.7,603.0 1193.0,605.7 1193.0,608.6 1191.9,611.1M1229.8,477.9 1229.3,480.8 1226.7,482.8 1226.3,485.7 1226.2,488.8 1224.9,491.3 1222.7,493.4 1222.0,496.2 1221.3,498.8 1222.1,501.5 1220.6,504.0 1220.4,506.6 1221.7,509.3 1220.6,511.9 1220.8,514.6 1219.2,517.0 1218.5,519.6 1218.1,522.2 1218.8,525.0 1218.6,527.7 1216.9,530.1 1216.7,532.7 1216.7,535.6 1215.7,538.2 1214.1,540.5 1214.3,543.5 1212.4,545.7 1212.4,548.6 1211.5,551.2 1210.3,553.7 1208.8,556.2 1207.1,558.6 1207.2,561.9 1204.5,563.9 1203.7,566.9 1200.8,568.0 1197.5,568.1 1194.5,569.3M1263.6,445.4 1264.5,448.3 1265.0,451.4 1267.5,453.7 1268.3,456.7 1268.8,459.8 1271.1,461.5 1273.0,463.5 1274.6,465.8 1275.4,468.7 1277.1,471.0 1279.2,472.8 1279.8,475.8 1281.4,478.2 1283.7,480.4 1285.0,483.0 1285.5,486.0 1287.5,488.1 1288.6,490.6 1291.1,492.0 1292.7,494.1 1293.4,496.8 1295.0,498.8M1308.2,519.4 1310.2,522.1 1312.9,523.5 1316.0,524.3 1318.9,525.4 1321.5,527.5 1321.8,530.1 1322.4,532.8 1323.4,535.3 1323.7,538.0M908.5,630.7 909.5,633.7 909.9,636.9 911.5,639.5 914.5,640.7 916.7,643.1 919.2,645.0M1149.4,584.2 1151.5,586.2 1152.4,589.0 1154.8,590.7 1156.3,593.2 1157.7,595.7 1159.1,598.1 1160.1,600.9 1162.2,603.1 1163.3,605.8 1163.7,608.9 1165.5,611.1 1166.1,613.7 1167.8,616.1 1167.6,618.9 1167.8,621.6 1169.1,624.0 1170.2,626.5 1169.3,629.4 1169.1,632.0 1171.0,634.5 1170.5,637.2 1170.4,639.8 1171.3,642.4 1171.0,645.0M1171.7,643.9 1168.6,644.6 1165.9,646.2 1163.7,648.3 1161.5,650.6 1158.4,651.5 1156.0,652.8 1153.0,651.5 1150.8,654.0 1148.1,654.1 1145.2,653.6 1142.9,655.5 1140.0,655.6 1137.2,655.2 1134.7,654.1 1132.3,652.4 1130.0,650.9 1126.8,651.3 1124.2,650.4 1121.7,648.6 1120.3,650.9 1118.7,653.2 1117.3,655.5 1115.3,657.5 1112.4,658.5 1112.1,661.8 1110.1,663.7 1107.5,665.1 1105.9,667.5 1104.8,669.9 1105.2,672.7 1103.7,675.0 1103.9,677.7 1104.1,680.4 1103.2,682.9 1102.1,685.4 1101.5,687.9 1102.3,690.7 1101.2,693.3 1098.6,695.2 1098.7,698.8 1095.8,700.6 1095.2,703.7 1093.9,706.5 1092.0,708.6 1094.2,710.7 1095.7,713.5 1099.2,714.1 1100.7,716.6 1101.6,719.2 1102.2,721.8 1101.2,724.5 1102.4,727.0 1103.0,729.6 1102.7,732.3 1102.1,735.0 1102.3,737.6 1103.2,740.1 1104.0,742.6 1104.2,745.6 1105.6,748.0 1106.2,750.9 1107.2,753.6 1109.5,755.6 1109.6,758.7 1111.2,761.0 1112.2,763.6 1112.2,766.2 1112.5,768.8 1112.8,771.4 1112.8,774.1 1110.1,775.3 1107.2,775.4 1104.2,774.3 1101.6,775.7 1098.7,775.6 1095.8,775.4 1093.2,776.4 1090.5,776.8 1088.1,774.9 1085.4,774.7 1082.9,773.8 1080.2,774.0 1077.4,773.8 1074.6,774.6 1072.5,776.9 1069.5,777.2 1067.2,778.9 1064.1,779.2 1062.2,781.7 1059.2,782.1 1056.8,783.7 1053.7,784.4 1053.3,787.2 1051.3,789.4 1050.4,792.0 1050.1,794.9M963.8,594.2 966.7,594.1 968.6,596.6 971.2,597.1 973.7,597.8 976.2,598.6 979.1,598.2 980.9,600.8 983.6,601.0 986.2,601.7 988.9,602.6 991.1,604.7 993.7,605.8 996.3,607.1 999.4,607.0 1001.9,608.4 1004.6,609.4 1007.4,610.2 1009.7,612.1 1012.5,613.6 1013.3,616.8 1016.3,618.0 1018.7,619.9 1020.4,622.5 1020.3,625.4 1022.2,627.7 1022.4,630.5 1023.3,633.0 1023.2,635.9 1023.6,638.6 1025.4,640.8 1026.8,643.3 1028.1,645.8 1030.6,647.4 1031.6,650.2 1033.6,652.1 1035.9,653.9 1037.0,656.4 1039.3,657.8 1041.9,659.0 1043.1,661.6 1044.5,663.8 1046.9,665.2 1048.8,667.0 1050.5,669.5 1051.2,672.7 1053.2,675.0 1055.6,677.1 1056.7,680.0 1059.3,680.8 1061.5,683.1 1064.3,683.6 1067.4,683.5 1069.5,685.6 1072.6,685.3 1074.8,687.4 1077.6,688.1 1080.1,689.2M1042.1,580.3 1041.9,583.1 1042.0,585.9 1040.5,588.4 1039.3,591.0 1038.8,593.7 1039.2,596.5 1038.5,599.3 1036.4,601.1 1034.8,603.3 1034.4,606.2 1031.7,607.6 1030.0,609.7 1029.5,612.7 1028.0,614.9 1025.6,616.4 1023.3,618.1 1022.5,621.2 1020.1,622.6M908.0,630.4 909.2,632.9 909.4,635.9 911.6,638.1 911.9,641.0 913.1,643.5 915.0,645.6 917.9,646.4 918.9,649.5 921.1,651.3 923.8,652.3 925.9,654.1 928.2,655.6 928.5,658.7 930.7,660.3 931.9,662.7 933.8,664.7 936.7,665.2 938.8,667.4 942.0,666.9 944.8,667.6 947.0,669.6 947.0,672.5 947.9,675.1 948.6,677.8 950.4,680.1 950.4,683.0 952.2,685.3 954.2,687.6 954.6,690.6 955.5,693.4 957.6,695.7 958.5,698.4 960.2,700.8 962.3,702.6 964.1,704.7 965.9,706.8 967.9,708.7 970.5,710.1 972.6,711.9 974.0,714.4 975.5,716.7 976.5,719.5 978.8,721.6 980.1,724.2 980.9,727.1 982.9,729.3 983.5,732.4 985.2,734.7 988.4,735.1 990.1,737.5 992.2,739.4 994.4,741.1 996.7,742.7 999.0,743.9 997.9,746.9 995.1,748.8 994.0,751.9M940.2,643.3 939.0,646.4 935.4,647.2 934.0,650.1 934.8,652.9 934.9,655.8 933.3,658.7 933.5,661.5 933.9,664.4M930.1,704.6 932.8,705.3 935.6,706.3 938.2,707.6 941.3,706.8 943.9,708.2 946.9,707.7 949.4,708.6 951.2,706.6 953.7,705.5 956.0,704.3 957.7,702.2 960.0,701.0M998.9,744.0 999.0,741.1 999.2,738.2 999.8,735.4 1000.5,732.7 1001.4,729.9 1001.7,726.8 1004.4,725.7 1007.0,724.3 1010.1,724.1 1012.2,721.8 1015.3,721.4 1017.5,719.2 1019.9,717.8 1022.7,717.9 1025.1,716.2 1027.7,715.5 1030.3,714.6 1033.2,715.2 1035.8,714.4 1038.3,713.1 1040.9,712.4 1043.5,711.9 1046.1,711.1 1048.9,711.2 1051.3,709.9 1053.8,708.7 1056.8,709.0 1058.8,707.3 1060.1,704.8 1063.3,704.7 1065.3,702.9 1067.0,700.9 1069.4,699.2 1072.0,697.7 1073.4,694.9 1075.7,693.0 1077.6,690.8 1080.1,689.2M1085.3,616.1 1085.6,619.1 1086.1,622.1 1086.3,625.1 1088.2,627.8 1089.0,630.4 1088.7,633.3 1089.6,635.9 1090.7,638.4 1091.3,641.0 1092.8,643.4 1092.8,646.4 1094.8,648.8 1096.8,651.2 1098.6,653.8 1100.4,655.8 1100.2,658.9 1101.7,661.1 1104.5,662.5 1105.2,665.1 1106.2,667.5M1102.3,612.2 1103.1,614.8 1104.2,617.3 1103.8,620.3 1105.7,622.6 1106.2,625.3 1106.4,628.2 1108.0,630.6 1109.4,633.1 1110.7,635.6 1111.5,638.3 1112.5,641.0 1113.5,643.8 1115.8,645.9 1116.7,648.6 1119.3,648.5 1121.9,648.7M1205.4,705.0 1202.7,704.3 1200.2,705.5 1197.6,706.5 1195.0,706.7 1192.3,706.0 1189.8,707.8 1187.1,707.3 1184.8,709.2 1182.1,709.6 1179.6,710.6 1176.5,709.7 1174.3,711.9 1171.6,712.4 1169.1,713.5 1166.4,713.8 1163.8,713.9 1162.5,711.6 1161.2,709.3 1159.7,707.2 1157.5,705.6 1155.8,703.2 1153.3,704.7 1150.5,703.2 1148.0,704.5 1145.4,705.3 1142.7,704.7 1139.8,705.2 1137.6,707.3 1135.3,709.0 1132.0,708.5 1129.5,709.8 1127.0,711.4 1125.1,713.6 1126.0,717.0 1124.9,719.6 1123.7,722.1 1122.1,724.8 1119.0,725.6 1116.5,727.3 1114.5,729.9 1111.8,731.4 1109.1,732.4 1107.3,734.8 1105.9,737.3 1104.0,739.6 1103.6,742.7M1158.4,755.9 1155.6,755.3 1153.2,757.0 1150.6,757.6 1148.1,758.4 1145.5,758.5 1142.5,759.7 1140.4,761.8 1138.8,764.3 1137.5,767.2 1134.9,769.1 1132.3,769.6 1129.7,769.2 1127.1,768.3 1124.5,769.8 1121.9,768.8 1119.4,769.8 1117.8,772.3 1115.1,772.9 1112.7,774.0M926.0,773.0 928.7,773.7 931.4,774.3 933.7,776.0 936.5,776.2 939.3,776.5 941.8,777.4 944.1,779.4 946.8,779.5 948.5,781.6 951.1,782.5 953.7,783.3 955.8,785.0 957.5,787.0 959.8,789.0 963.2,789.3 964.9,792.4 967.5,793.9 970.5,794.9 973.6,795.6 975.4,798.6 978.4,799.5 980.7,801.5 983.5,802.8 983.5,805.4 984.6,807.9 983.8,810.8 984.3,813.4 984.8,816.0 986.0,818.4 985.9,821.1 985.1,823.7 984.7,826.4 983.4,829.2 985.9,830.7 988.5,832.0 991.0,833.4 993.5,835.0 996.4,835.8 999.2,836.5 1001.9,836.9 1004.3,835.4 1007.1,835.8 1009.5,834.5 1012.4,835.6 1014.8,834.4 1017.4,833.9 1020.3,834.2 1022.4,831.7 1025.6,832.8 1028.1,831.6 1030.3,829.6 1033.3,830.2 1035.7,828.9 1038.5,829.3 1041.0,828.2 1043.5,827.4 1046.3,828.1 1048.6,825.8 1051.6,826.4 1051.9,823.2 1053.6,820.8 1054.6,818.0 1056.6,815.8M953.6,818.7 956.4,817.8 959.3,817.9 962.0,816.3 965.1,816.8 967.8,815.9 970.6,815.4 973.1,816.7 975.6,817.6 978.4,816.9 980.9,818.3 983.5,818.4M1251.0,679.9 1253.9,678.8 1257.1,678.9 1260.0,677.9 1262.9,676.9 1265.4,674.8 1268.1,674.0 1270.9,673.4 1273.5,672.2 1275.8,670.6 1278.4,669.9 1281.2,670.5 1283.3,672.6 1286.3,672.7 1289.2,673.0 1291.4,675.0 1293.7,676.5 1294.4,679.3 1297.0,680.5 1296.9,683.8 1299.3,685.3 1299.3,688.0 1301.1,690.4 1300.5,693.2 1301.6,695.7 1302.4,698.2 1301.6,701.1 1303.8,703.4 1303.3,706.2 1304.0,708.8 1302.2,711.3 1301.9,714.0 1303.7,716.7 1302.6,719.2 1302.4,721.8 1301.7,724.4 1301.8,727.0 1302.1,729.8 1300.5,732.4 1301.9,735.3 1301.7,738.1 1300.0,740.7 1301.2,743.6 1300.8,746.3 1299.9,749.0 1300.0,751.8 1299.7,754.6 1297.6,756.6 1297.7,759.4 1296.2,761.7 1296.4,764.5 1294.2,766.5 1294.7,769.5 1292.4,771.4 1292.2,774.1 1291.2,776.5 1289.9,779.0 1289.0,781.8 1288.1,784.5 1286.4,786.8 1286.1,789.8 1285.6,792.7 1283.7,794.9M1264.0,733.9 1266.2,735.5 1268.6,736.5 1270.9,738.0 1273.8,738.3 1275.9,740.1 1275.6,742.8 1275.6,745.5 1276.1,748.1 1278.1,750.4 1277.3,753.2 1278.0,755.8 1278.6,758.3 1281.0,759.8 1283.0,761.7 1284.4,764.2 1286.3,766.2M1261.5,789.7 1264.3,788.7 1267.2,788.4 1270.2,788.3 1273.1,788.2 1275.8,787.2 1278.4,788.5 1279.2,791.6 1282.0,792.8 1283.7,794.9M1236.6,624.9 1233.7,625.3 1231.8,628.1 1228.8,628.2 1225.9,628.5 1223.7,630.6 1221.0,631.4 1218.6,632.9 1216.2,634.6 1213.5,635.3 1210.6,635.7M1264.3,444.3 1265.1,446.9 1265.0,449.7 1265.8,452.2 1265.6,455.1 1266.8,457.5 1268.0,460.0 1268.7,462.9 1270.9,464.8 1272.7,466.9 1273.7,469.6 1275.7,471.7 1277.9,473.6 1279.1,476.2 1281.1,478.2 1281.6,481.4 1284.5,483.2 1284.7,486.7 1288.0,488.3 1288.7,491.4M1231.7,478.5 1229.7,480.5 1228.9,483.1 1226.8,485.0 1226.1,487.7 1223.2,489.1 1222.1,491.5 1220.7,494.0 1220.2,496.7 1220.2,499.3 1221.1,501.8 1221.3,504.5 1223.1,506.9 1222.6,509.7 1221.7,512.3 1219.9,514.6 1220.6,517.6 1219.4,520.0 1220.0,522.9 1218.5,525.3 1216.8,527.7 1216.9,530.5 1216.0,533.1 1217.6,535.8 1217.0,538.4 1216.8,541.0 1215.2,543.5 1216.0,546.4 1213.3,548.3 1213.0,551.7 1210.2,553.6 1209.4,556.6 1207.9,559.3 1205.1,560.5 1204.1,563.3 1201.7,564.8 1200.0,567.1M1375.0,445.3 1377.3,447.1 1379.8,448.2 1383.0,447.1 1385.2,449.2 1388.1,448.9 1390.8,449.4 1393.2,450.8 1395.6,452.8 1397.9,454.9 1400.4,456.5 1403.0,458.1 1406.1,458.8 1407.5,461.3 1410.0,463.0 1410.5,466.1 1412.4,468.2 1414.1,470.4 1416.3,472.3 1419.5,471.9 1422.2,472.7 1424.7,473.7 1427.4,474.6 1429.6,476.5 1432.1,477.9 1435.0,478.0 1437.5,479.3 1440.1,480.4 1442.7,481.4 1445.4,482.0 1447.9,483.3 1451.0,483.2 1453.5,484.3 1455.8,486.1 1458.7,486.9 1460.8,488.7 1460.9,491.5 1459.0,493.8 1459.6,496.7 1459.3,499.4 1457.8,501.8 1457.2,504.4 1457.9,507.0 1457.4,509.7 1458.4,512.2M1462.5,471.7 1464.0,475.2 1466.0,478.2 1465.0,481.0 1463.6,483.5 1461.5,485.7 1461.0,488.7M1524.9,483.5 1524.3,486.5 1523.2,489.2 1521.9,491.8 1520.1,494.1 1518.8,496.6 1517.9,499.2 1518.1,501.8 1518.1,504.5 1517.4,507.0 1517.1,509.6M1525.0,515.8 1522.0,516.4 1519.0,516.3 1516.1,515.6 1513.3,515.0 1510.4,514.6 1507.9,515.7 1505.4,517.0 1503.0,518.2 1500.4,519.1 1497.6,519.1 1494.6,518.7 1491.8,519.8 1489.3,521.5 1486.2,521.1 1483.7,523.0 1480.6,522.7 1478.4,521.0 1476.1,519.4 1475.1,516.4 1472.8,514.7 1469.9,514.3 1466.9,514.5 1464.2,512.9 1461.3,512.9 1458.4,512.1 1456.1,514.0 1452.9,513.1 1451.0,515.0 1450.0,517.7 1448.6,520.2 1447.8,522.9 1446.9,525.7 1444.6,527.7 1442.9,530.1 1442.9,533.2 1440.9,535.5 1438.2,536.8 1436.6,539.5 1434.2,541.1 1431.6,542.6 1429.7,544.9 1427.0,545.4 1424.4,545.3 1421.9,544.0 1419.4,542.8 1416.7,543.2 1413.2,543.8 1410.1,542.3 1411.8,544.5 1413.9,546.4 1414.7,549.3 1416.7,551.4 1414.1,553.0 1412.8,555.9 1409.7,557.0 1407.8,559.3 1406.2,561.9 1404.0,564.1 1401.0,565.0 1398.8,567.2 1395.6,567.8 1393.0,569.6 1391.3,571.7 1388.9,573.4 1388.7,576.8 1385.8,578.1 1383.9,580.1 1383.1,582.8 1382.4,585.4 1382.4,588.2 1380.6,590.5 1380.0,593.0 1377.7,595.2 1374.7,596.3 1372.4,598.4 1371.0,600.8 1371.0,603.8 1369.5,605.8 1367.1,607.4 1364.9,609.3 1362.2,610.2 1359.0,609.9 1356.3,611.4 1356.3,614.0 1357.4,616.7 1355.8,619.3 1356.1,621.9 1357.5,624.5 1356.9,627.1 1356.6,629.6 1354.3,631.4 1351.6,632.0 1348.9,632.0 1345.8,632.3 1345.1,634.9 1346.6,637.5 1345.3,640.1 1346.1,642.5 1343.4,642.5 1340.9,643.6 1338.1,643.3 1335.7,644.5 1332.8,645.2 1331.9,647.9 1331.7,650.8 1330.0,653.2 1329.0,655.8 1328.0,658.5 1326.8,661.2 1325.3,663.6 1323.8,666.2 1323.2,669.1 1321.4,671.3 1324.4,672.3 1327.5,673.2 1330.6,674.1 1328.3,675.8 1327.1,678.5 1324.6,679.9 1322.7,682.1 1319.9,682.1 1317.3,683.0 1314.7,683.6 1312.2,684.9 1309.8,686.2 1306.8,685.5 1304.4,687.1 1303.9,689.8 1303.3,692.5 1302.3,695.0 1300.8,697.4 1300.2,700.2 1300.7,702.8 1300.2,705.4 1301.5,708.0 1301.1,710.6 1301.5,713.2 1301.7,715.8 1301.7,718.4 1301.0,721.1 1301.2,723.7 1302.1,726.3 1302.1,729.0 1300.7,731.4 1300.7,734.1 1300.4,736.7 1300.5,739.3M1377.4,491.3 1375.8,493.8 1375.3,496.8 1374.0,499.1 1374.2,501.8 1375.3,504.3 1373.6,507.1 1374.9,509.6 1372.0,512.0 1369.3,515.1 1370.7,517.8 1373.3,519.8 1374.7,522.5 1376.7,524.9 1377.4,528.1 1379.9,529.7 1382.7,530.5 1385.5,531.6 1388.1,533.0 1389.3,535.7 1390.1,538.6 1391.1,541.3 1392.5,543.9 1394.2,546.3 1395.4,548.7 1396.2,551.3 1397.2,553.9 1396.6,556.9 1398.5,559.0 1401.2,559.4 1403.8,560.5 1406.2,561.8M1306.9,520.4 1309.3,522.1 1312.4,522.4 1314.5,524.7 1317.2,525.5 1319.2,527.3 1321.1,529.1 1321.7,531.9 1323.9,533.5 1325.3,535.7M1305.8,566.7 1308.5,568.8 1311.8,568.7 1314.9,569.6 1315.7,572.4 1317.4,574.7 1319.0,577.1 1319.3,580.0 1320.2,582.7 1321.5,585.2 1321.0,587.9 1320.5,590.6 1321.5,593.1 1322.3,595.9 1323.7,598.5 1325.6,600.9 1327.0,603.3 1326.2,606.3 1327.0,608.9 1328.0,611.3 1330.8,612.1 1332.8,614.7 1335.3,616.2 1338.6,616.1 1341.0,618.0 1343.6,617.8 1346.1,616.9 1348.7,616.0 1351.3,616.5 1354.2,614.3 1356.6,611.4M1350.0,569.7 1351.7,572.3 1354.1,574.4 1355.5,577.2 1356.7,579.9 1359.3,580.6 1361.9,581.1 1364.2,582.9 1367.4,582.7 1366.0,585.3 1367.6,587.9 1366.3,590.6 1367.2,593.0 1369.5,595.9 1372.3,598.4M1408.9,567.1 1409.8,569.7 1408.2,572.3 1408.1,574.9 1409.3,577.5 1408.2,580.1 1408.8,582.7 1409.5,585.5 1412.7,586.3 1413.7,588.8 1415.6,590.7 1416.6,593.2 1418.3,595.7 1420.3,597.9 1422.8,599.5 1425.2,601.3 1426.9,603.7 1429.2,605.8 1430.2,608.6 1430.5,611.7 1432.4,614.1 1430.1,615.8 1430.5,619.1 1428.5,620.9 1427.2,623.4 1424.8,625.1 1422.2,625.8 1419.3,625.8M1524.0,520.2 1523.2,522.8 1522.3,525.3 1521.4,527.9 1521.1,530.6 1519.5,533.0 1519.2,535.7 1518.2,538.0 1516.7,540.8 1514.0,542.1 1511.8,543.9 1509.7,546.0 1506.8,547.1 1505.4,550.0 1502.5,551.3 1502.7,554.1 1502.3,556.7 1501.2,559.2 1500.9,561.8 1501.1,564.5 1500.5,567.2 1498.0,569.2 1497.8,572.4 1497.0,575.3 1494.7,577.3 1493.6,580.1 1492.7,582.9 1491.4,585.5 1489.5,587.7 1488.1,590.1 1486.1,591.8 1483.4,592.8 1482.5,595.6 1480.6,597.4 1479.1,599.7 1476.6,601.0 1475.6,603.5 1475.3,606.2 1474.7,608.9 1474.3,611.6 1472.3,613.9 1472.3,616.7 1471.2,619.1 1470.2,621.6 1468.0,623.3 1467.8,626.4 1465.9,628.3 1463.0,629.6 1462.3,632.3M1303.1,703.0 1306.0,703.0 1308.8,702.4 1311.6,702.1 1314.4,701.3 1317.2,701.0 1320.1,701.6 1322.7,701.8 1325.3,700.6 1327.9,701.3 1330.5,700.0 1333.1,700.9 1335.7,699.8 1338.3,700.4 1341.0,700.0 1343.5,700.9 1346.4,700.7 1348.8,702.1 1351.3,703.0 1354.2,702.7 1356.6,703.9 1359.3,704.3 1361.8,703.8 1364.5,703.7 1367.1,703.8 1369.7,703.2 1372.2,702.6 1374.8,701.7 1377.8,701.5 1380.2,700.0 1382.7,698.9M1372.1,702.9 1374.1,704.7 1375.5,706.9 1376.2,709.7 1378.0,711.6 1380.1,713.4 1382.9,712.9 1385.3,714.5 1388.1,713.8 1390.4,716.3 1393.0,716.2 1395.6,717.4 1398.6,717.5 1400.7,719.7 1403.9,719.4 1406.0,721.3 1408.1,723.1 1410.9,724.2 1411.5,727.5 1414.0,728.8 1416.9,728.5 1419.4,727.2 1421.9,725.8 1424.8,725.5 1426.9,723.5 1429.8,720.9 1431.0,717.0 1433.5,715.1 1436.6,714.7 1439.3,713.1 1442.2,712.1 1445.4,712.0 1447.9,710.8 1450.5,710.5 1453.1,710.5 1455.8,710.6M1432.5,723.7 1431.4,726.3 1431.4,728.9 1431.5,731.5 1431.2,734.1 1432.4,736.7 1431.7,739.3 1432.8,741.9 1432.3,744.6M1236.4,625.4 1233.7,626.2 1231.1,627.5 1228.9,629.6 1226.4,631.0 1223.1,630.4 1220.9,632.3 1218.2,633.1 1215.4,633.5 1213.3,636.0 1210.4,636.1 1207.9,637.0 1205.1,636.9 1202.6,638.3 1200.0,638.8M1302.4,737.2 1305.1,738.8 1308.0,737.6 1310.7,739.0 1313.4,739.5 1316.3,738.5 1319.0,739.8 1321.8,739.5 1324.6,739.8 1327.3,740.0 1329.6,742.2 1332.5,741.4 1335.0,742.3 1337.6,742.9 1340.5,742.4 1342.9,744.2 1345.5,744.3 1348.1,744.4 1350.7,743.1 1353.3,742.6 1355.9,742.7 1358.6,743.4 1361.1,742.8 1364.1,743.1 1367.0,744.0 1370.1,743.9 1372.5,745.3 1373.1,748.1 1373.2,750.9 1372.8,753.7 1374.3,756.4 1373.3,759.3 1374.3,762.0 1373.9,765.0 1376.3,767.1 1377.2,769.9 1377.8,772.8 1379.4,775.3 1381.8,776.8 1383.7,778.9 1386.3,780.0 1388.2,782.1 1391.0,783.1 1392.4,786.0 1395.3,786.4 1397.4,788.6 1400.2,789.2 1402.8,790.4 1405.4,791.6 1408.4,791.7 1410.7,793.8 1413.4,793.3 1415.9,794.7 1418.5,794.8 1421.1,794.7 1423.7,795.2 1426.4,794.5 1429.0,795.0 1431.3,796.6 1434.4,795.8 1437.1,796.4 1439.5,797.8 1442.1,798.8M1342.9,858.8 1343.9,861.4 1344.0,864.0 1342.8,866.7 1344.2,869.2 1344.0,871.6 1346.1,870.0 1348.8,869.4 1350.7,867.4 1353.3,866.6 1355.9,866.4 1358.5,865.9 1361.1,865.7 1363.6,865.6 1367.0,866.7 1368.4,870.4 1371.6,871.6 1374.2,870.9 1376.8,872.5 1379.4,872.0 1382.0,872.0 1384.6,871.3 1387.2,872.5 1389.9,871.9M1344.3,872.0 1342.4,874.3 1342.1,877.4 1340.1,879.6 1338.7,882.2 1337.7,885.0 1335.6,887.0 1334.1,889.8 1331.2,891.0 1329.0,893.0 1327.4,895.6 1324.5,896.8 1321.7,898.1 1319.8,900.8 1316.4,901.0 1314.0,902.9 1312.1,905.8 1309.2,907.1 1306.4,908.8 1303.9,909.8 1301.4,911.0 1298.5,911.1 1296.1,912.4 1293.4,913.2 1290.7,913.7 1288.0,913.5 1285.5,912.1 1282.9,911.9 1280.1,912.7 1277.5,912.1 1275.0,911.0M1302.3,854.0 1299.7,853.1 1296.9,852.7 1294.4,850.9 1291.9,853.2 1289.4,855.5 1288.3,859.0 1287.2,862.0 1284.1,863.7 1282.8,866.7M1327.2,935.9 1324.7,934.6 1322.0,935.5 1319.3,935.5 1316.7,935.7 1313.9,934.2 1312.0,936.2 1309.9,938.1 1307.7,939.8 1305.1,941.0 1302.8,942.7 1301.1,945.0 1300.1,947.9 1298.1,950.3 1295.7,952.4 1295.0,955.5 1293.1,958.0 1293.1,960.6 1293.4,963.2 1293.1,965.8 1293.8,968.5 1293.2,971.0 1290.7,972.5 1290.0,975.6 1287.6,977.1 1285.4,978.9M905.6,1051.3 908.3,1052.3 911.3,1050.4 914.0,1052.0 916.8,1052.2 919.5,1052.5 922.4,1052.6 925.3,1052.3 928.0,1053.1 930.6,1054.5 933.5,1054.5M1144.4,1002.2 1142.9,1004.6 1140.2,1005.6 1138.2,1007.3 1136.2,1009.2 1136.8,1012.4 1135.3,1015.1 1135.0,1018.0 1134.0,1020.8 1131.6,1022.4 1129.2,1023.9 1126.1,1024.0 1123.6,1025.7 1121.0,1023.8 1117.7,1023.6 1115.0,1021.9 1112.0,1020.6 1109.2,1022.0 1106.2,1020.9 1103.4,1022.7 1100.2,1021.7 1098.3,1024.8 1094.7,1025.5 1092.4,1027.8 1092.4,1031.4 1091.2,1034.9 1088.1,1035.9 1085.0,1037.3 1082.2,1038.4 1080.7,1040.9 1080.0,1043.8 1078.1,1046.7 1080.6,1047.9 1082.6,1049.7 1084.9,1051.1 1086.1,1053.3 1086.9,1056.2 1086.2,1059.1 1085.8,1062.0 1086.6,1065.0 1083.9,1066.2 1082.2,1068.8 1080.1,1070.8 1077.5,1072.2 1075.0,1073.7 1072.1,1074.7 1070.7,1077.6 1067.9,1078.9 1066.0,1076.9 1063.1,1076.4 1060.6,1075.1 1058.7,1073.0 1056.1,1074.0 1053.1,1073.8 1050.5,1074.7 1048.3,1076.9 1045.4,1077.1 1042.9,1078.2 1040.5,1079.1 1038.5,1081.2 1035.9,1082.9 1035.3,1086.1 1033.1,1088.1 1030.6,1089.1 1029.0,1091.7 1025.8,1091.5 1024.4,1094.4 1021.7,1095.2 1019.0,1096.4 1017.6,1099.4 1014.8,1100.5 1012.4,1102.3 1009.2,1103.2 1006.5,1105.3 1003.0,1105.5M1028.8,1040.4 1030.8,1042.0 1032.9,1043.6 1034.8,1045.5 1036.4,1047.5 1037.8,1049.9 1040.6,1049.5 1043.1,1051.3 1046.0,1050.8 1048.7,1050.9 1051.4,1051.2 1054.0,1052.5 1057.0,1051.7 1059.5,1053.6 1062.6,1052.7 1065.0,1055.0 1067.9,1054.4 1070.2,1053.0 1072.6,1051.9 1073.7,1048.9 1075.7,1047.2 1078.4,1046.4M1120.3,1037.2 1122.2,1034.9 1124.4,1032.8 1125.8,1030.0 1128.0,1027.8 1129.5,1025.1 1131.9,1023.1 1134.1,1020.9M1049.5,1120.4 1051.6,1122.7 1054.3,1124.1 1056.7,1126.0 1058.5,1128.5 1061.6,1129.5 1063.3,1132.4 1066.0,1132.8 1068.8,1132.9 1071.5,1133.3 1073.9,1134.8 1076.6,1135.5 1079.1,1136.6 1082.0,1136.7 1084.3,1138.4 1086.0,1141.0 1089.1,1141.6 1090.7,1143.8 1090.8,1146.7 1091.0,1149.5 1091.6,1152.3 1093.5,1154.8 1093.4,1157.9 1096.3,1159.4 1099.6,1160.0 1101.7,1163.0 1105.1,1163.6 1107.8,1164.4 1110.6,1164.1 1113.5,1163.3 1116.1,1165.2 1119.2,1164.4 1121.4,1165.8 1123.1,1167.9 1125.8,1168.7 1127.5,1170.8 1129.3,1172.7 1132.1,1173.9 1131.8,1177.0 1133.4,1180.0 1132.9,1183.2 1135.0,1185.0 1137.3,1186.6 1140.0,1187.4 1142.7,1187.9 1145.0,1190.3 1148.0,1190.1M1133.0,1154.2 1132.9,1157.0 1132.8,1159.9 1132.0,1162.6 1131.7,1165.4 1131.7,1168.3 1132.1,1171.1 1131.7,1173.9M1215.2,1133.3 1215.8,1136.2 1216.4,1138.9 1219.5,1140.0 1222.6,1139.8 1225.7,1138.7" fill="none" stroke="#3355ff" stroke-width="2.0" stroke-linejoin="round" stroke-linecap="round"/>
<path d="M755.7,352.3 758.8,352.2 760.3,349.2 763.2,348.3 763.7,344.8 767.0,343.3 768.1,340.5 770.8,341.5 773.4,340.8 776.0,340.6 778.8,338.8 777.8,341.8 779.4,344.5 780.5,347.2 780.7,350.1 779.5,353.2 780.6,356.0 781.2,359.0 783.1,361.3 786.1,363.1 786.7,365.9 788.1,368.4 791.0,369.4 792.6,371.7 794.4,373.6 797.4,374.5 798.9,377.9 802.5,377.9 803.9,381.5 807.3,381.7 809.3,384.2 812.7,383.3 815.3,384.2 817.8,385.7 820.3,386.4 822.9,387.2 825.5,387.3 828.3,386.3 830.9,388.9 833.1,386.7 835.0,384.1 838.1,385.1 841.7,385.4 844.2,387.2 846.6,390.4 844.4,392.4 840.7,391.6 838.4,393.4 835.9,395.0 835.4,398.0 834.0,400.5 831.4,403.3 834.5,405.1 834.9,409.2 838.0,410.9 841.1,412.6 839.9,416.4 844.0,417.6 843.4,421.0 842.2,423.5 842.3,426.2 842.5,428.9 842.0,431.3 842.3,434.7 839.7,436.7 839.3,439.7 837.5,442.1 835.9,444.6M668.4,454.7 671.2,452.8 672.5,449.9 674.4,447.4 676.0,445.4 677.5,443.2 680.0,441.9 681.3,439.5 682.0,436.8 682.9,434.2 686.3,433.5 686.2,430.2 686.9,427.5 689.5,426.2 691.5,424.0 693.3,421.7 693.4,418.7 694.5,416.1 695.4,413.7 697.8,411.9 699.0,408.9 701.1,406.9 704.0,405.6 705.1,402.7 705.3,399.7 708.2,398.2 710.1,396.1 709.4,392.7 712.1,391.0 714.1,388.9 713.5,385.5 714.6,382.7 717.5,381.2 718.8,378.6 720.6,377.2 722.5,380.2 726.2,380.5 729.6,379.3 731.8,376.6 733.6,374.0 736.4,371.8 733.9,368.6 734.1,365.9 736.0,363.6 736.0,360.9 737.1,358.4 737.4,355.7 739.9,353.5 738.5,350.5 739.7,347.6 737.9,344.7 735.2,342.5 732.4,340.1 732.7,336.7 734.1,333.6 736.7,333.5 739.2,334.7 741.9,334.4 744.6,334.0 747.0,335.0 747.9,338.3 752.1,338.0 753.8,340.3 755.5,342.8M836.5,448.2 835.7,450.9 834.3,453.2 831.7,454.7 828.9,456.1 827.8,458.6 825.5,460.3 825.0,463.7 826.5,466.2 827.8,468.8 831.0,470.5 830.7,473.8 833.6,474.2 835.7,476.6 839.1,475.8 841.0,478.6 843.9,479.1 846.3,480.6 849.1,481.8 850.1,484.6 847.4,486.9 846.8,489.5 847.5,492.1 847.4,495.6 844.3,497.2 841.8,499.3 839.9,501.7 839.2,504.8 839.2,507.8 837.2,510.6 838.2,513.1 839.9,515.6 837.6,518.4 838.2,521.0 838.1,523.6 840.2,526.3 838.7,528.7 838.6,531.5 838.1,534.2 835.6,536.3 835.3,539.1 835.5,542.0 833.9,544.4 833.0,547.6 836.1,548.6 838.5,551.1 842.0,551.2 844.3,552.2 846.8,554.9 845.2,557.5 844.8,560.1 844.2,562.7 843.2,565.3 844.8,567.8 844.2,570.5 842.7,573.0 842.1,575.7 840.6,578.1 838.8,580.4 841.2,584.2 838.8,586.1 837.3,588.9 840.7,591.2 838.2,594.1 841.3,596.4 839.6,599.1 837.5,601.1 838.1,604.5 836.3,606.6 835.5,609.2 832.6,610.7 831.9,613.4 830.3,615.6 829.9,618.5 827.8,620.4 825.2,622.1 825.0,625.3 823.7,627.9 826.4,630.6 825.4,633.2 825.9,635.8 826.0,638.4 824.3,641.0 825.9,643.4 826.4,646.3 826.8,649.2 827.4,652.1 831.8,653.3 832.0,656.3 832.4,659.3 832.0,662.5 835.9,664.0 835.4,667.2 836.6,669.6 836.4,672.3 835.4,675.2 839.0,677.3 838.4,680.1 839.4,682.6 838.8,684.9 841.0,686.3 842.2,689.1 844.6,690.3 847.7,690.5 848.5,693.2 848.7,695.8 849.9,698.5 847.1,700.9 846.9,703.5 849.0,706.3 846.1,708.7 846.4,711.4 848.4,714.2 849.0,716.8 845.5,719.2 845.5,721.8 848.0,724.6 845.9,727.2 845.8,729.9 846.9,732.5 846.6,735.2 846.6,737.9 849.6,740.1 848.2,743.0 848.4,745.7 851.2,747.9 850.3,750.8 851.3,753.1 849.4,755.4 849.4,758.4 849.5,761.4 848.7,764.0 846.7,766.2 847.3,769.4 844.5,771.8 845.0,774.8 848.5,776.3 848.3,779.7 849.6,782.2 852.1,784.7 849.9,786.9 849.3,789.5 850.3,792.6 848.9,795.0M683.4,441.9 680.5,443.4 676.7,443.0 674.1,445.2 672.0,447.5 673.5,450.9 672.9,453.5 671.1,455.8 668.3,457.8 670.0,461.3 669.5,464.0 666.2,465.8 666.5,469.2 663.3,469.7 661.8,473.1 658.9,474.1 655.5,474.3 652.4,475.1 650.7,477.9 649.6,480.5 650.0,483.8 647.8,485.9 647.0,488.7 643.9,490.5 643.1,493.2 642.4,495.9 641.1,498.3 639.1,500.2 639.4,503.6 637.1,505.3 635.9,507.7 634.5,510.0 631.9,511.7 632.7,515.3 631.1,518.6 628.4,520.4 624.5,519.7 622.0,521.7 619.3,523.5 618.3,526.3 615.2,528.0 613.8,530.6 614.2,534.1 612.5,536.5 611.0,538.8 610.2,542.0 608.3,544.1 605.7,545.7M849.4,779.9 849.3,782.6 848.8,785.4 851.6,787.6 851.1,790.4 850.8,793.6 853.4,795.2 855.6,797.1 856.3,800.4 858.1,802.7 861.5,803.6 863.7,806.1 862.4,808.7 861.8,811.3 860.9,813.8 861.7,816.5 862.9,819.2 861.9,821.8 862.5,824.4 861.7,827.0 861.5,829.6 859.6,832.1 859.4,834.7 859.1,837.3 860.6,840.1 857.8,841.6 859.4,845.3 855.6,846.4 855.4,849.2 853.4,851.1 853.8,854.3 850.6,855.6 852.7,859.6 848.8,860.6 848.5,863.9 851.3,864.8 852.6,867.8 856.3,867.5 857.4,870.8 860.3,871.6 862.7,873.0 865.4,874.0 866.6,876.7 866.6,879.3 869.5,881.5 866.6,884.7 869.8,886.8 869.7,889.6 870.0,892.2 869.8,894.9 869.1,897.7 869.3,900.4 870.9,902.8 872.3,905.2 872.6,907.4 875.4,908.0 876.7,910.9 878.8,912.6 881.3,913.7 882.4,916.9 885.9,916.6 888.1,918.2 889.8,920.4 892.2,922.2 891.5,926.2 894.2,927.7 896.0,929.9 898.0,931.9 900.1,933.8 901.2,936.4 902.6,938.7 904.3,940.7 904.2,944.0 907.1,945.1 908.8,947.1M960.7,996.3 961.9,993.4 964.3,991.6 966.9,990.0 970.1,989.1 971.5,986.8 974.1,985.2 976.7,987.3 979.3,986.0 981.9,986.4 984.5,986.3 987.1,984.5 989.7,984.6 992.4,986.8 995.2,986.3 995.4,983.5 998.2,981.5 997.8,977.9 994.6,977.7 991.6,977.2 989.8,974.3 987.2,972.9 984.3,973.5 981.5,973.5 979.3,971.3 976.0,970.7 977.1,967.8 976.1,965.2 974.3,962.9 974.4,960.2 973.7,957.4 973.6,954.6 974.2,952.0 977.2,950.0 976.5,947.0 978.1,944.6 977.8,941.8 979.9,939.3 979.9,936.2 980.9,933.4 980.7,930.2 981.9,927.6 984.7,926.7 986.9,930.0 989.6,929.2 992.3,929.1 994.9,929.9 997.8,928.2 1000.0,929.9 1001.7,927.7 1005.1,928.0 1005.3,923.9 1008.4,923.7 1010.7,922.8 1013.3,923.1 1015.9,922.7 1018.4,920.9 1021.0,920.4 1023.7,921.9 1026.1,920.7 1029.0,919.5 1030.1,916.4 1033.3,915.4 1034.8,912.8 1036.8,911.0 1039.5,912.1 1041.9,909.6 1044.7,911.7 1047.0,907.8 1049.9,910.9 1052.9,908.7 1054.1,911.2 1056.4,912.6 1057.3,915.5 1060.3,916.2 1062.5,917.7 1062.8,921.2 1065.4,922.3 1068.0,923.5 1070.7,922.7 1073.4,921.3 1075.8,924.3 1078.4,923.1 1081.1,922.9 1083.3,920.6 1086.1,921.0 1089.1,921.9 1091.8,921.8 1094.3,920.7 1096.8,919.6 1099.0,921.5 1101.7,922.3 1105.0,921.7 1107.2,924.0 1109.8,924.9M1049.9,795.7 1049.9,798.5 1052.6,800.6 1052.9,803.3 1053.6,805.9 1055.2,808.3 1055.0,811.2 1054.9,814.1 1056.3,816.4 1058.9,818.0 1058.4,821.4 1061.7,822.6 1060.9,826.1 1064.2,827.4 1065.7,829.6 1066.5,832.3 1066.9,835.1 1068.6,837.4 1067.4,840.3 1067.7,843.0 1070.6,845.1 1069.4,848.1 1070.7,850.7 1073.4,852.0 1076.5,852.3 1077.9,855.9 1080.5,857.2 1084.8,855.3 1086.8,858.2 1088.2,860.7 1089.7,863.1 1089.9,866.0 1089.3,869.3 1092.4,871.7 1089.1,873.3 1089.3,877.0 1088.7,880.1 1084.2,881.0 1084.2,884.3 1086.2,886.5 1087.8,889.0 1088.3,892.0 1090.4,894.2 1091.5,896.9 1092.0,899.8 1094.0,902.1 1096.7,903.4 1099.4,904.7 1101.3,907.1 1103.1,909.6 1105.8,910.6 1107.2,913.3 1105.6,916.5 1106.6,919.3 1108.0,922.0 1108.7,924.9M1286.3,780.0 1286.4,782.7 1286.7,785.4 1283.5,787.6 1284.1,790.4 1285.6,793.3 1282.0,795.4 1281.7,798.0 1284.5,801.2 1281.6,803.4 1282.9,806.3 1281.3,808.7 1280.5,811.4 1282.2,813.8 1282.3,816.5 1282.4,819.3 1284.8,821.5 1283.8,824.5 1285.0,827.0 1281.8,828.7 1282.8,832.8 1279.5,834.4 1280.2,838.3 1277.4,840.0 1279.1,842.3 1279.5,845.0 1278.7,847.9 1280.5,850.2 1278.8,853.3 1282.0,855.4 1280.9,858.4 1281.9,861.4 1286.0,861.7 1287.7,864.1 1288.1,867.7 1290.9,869.1 1292.3,870.9 1291.3,873.7 1289.3,875.4 1285.9,875.7 1285.7,879.2 1282.2,879.4 1280.5,881.5 1280.2,884.4 1279.5,887.0 1278.0,889.6 1281.2,892.2 1278.4,894.9 1278.7,897.5 1278.8,900.1 1279.3,902.7 1280.3,905.5 1277.2,907.4 1279.5,911.0 1276.2,912.8 1275.6,915.5 1276.3,918.6 1274.1,920.7 1274.3,923.7 1272.8,926.0 1273.7,929.5 1269.5,930.8 1270.3,934.2 1267.8,936.2 1267.8,939.3 1266.2,941.8 1267.2,944.5 1266.2,947.0 1268.0,949.8 1266.0,952.3 1267.4,955.0 1264.3,957.4 1264.8,960.1 1265.4,962.6 1267.7,964.9 1270.3,965.1 1272.9,965.6 1276.0,962.6 1278.3,965.4 1280.9,965.8 1283.5,965.4 1286.5,966.7 1284.8,970.7 1287.7,972.1 1288.8,974.3 1285.7,974.7 1284.0,977.8 1281.0,978.4M959.0,404.6 957.7,408.0 960.9,409.8 962.6,412.1 963.1,414.9 960.9,418.5 962.7,420.8 965.4,422.8 966.5,425.3 965.7,428.8 967.7,430.6 969.9,432.2 973.1,432.7 974.4,435.3 975.0,438.6 979.4,437.8 980.4,440.8 983.3,441.6 982.9,446.0 987.2,445.3 987.1,449.5 989.4,451.0 992.0,452.1 995.4,452.1 996.0,455.7 998.6,456.7 1000.7,458.3 1003.7,458.9 1004.9,461.7 1006.4,464.2 1010.1,463.8 1010.5,467.7 1013.6,467.9 1016.1,469.1 1018.3,470.6 1019.9,472.9 1021.6,475.1 1023.9,476.5 1025.8,478.4 1028.1,479.8 1030.0,481.5 1030.7,484.7 1034.6,484.3 1037.0,485.5 1038.2,488.2 1040.1,489.9 1042.5,491.2 1043.7,493.8 1046.6,494.5 1046.2,498.8 1049.3,499.3 1050.2,502.2 1052.6,503.5 1054.4,505.4 1056.3,507.2 1059.4,507.7 1060.2,510.7 1063.0,511.5 1064.8,513.6 1066.9,515.2 1068.6,517.3 1072.1,516.9 1073.9,519.0 1075.1,522.0 1077.3,523.5 1079.1,525.5 1083.1,524.4 1085.1,526.2 1087.5,527.4 1088.7,530.5 1090.8,532.2 1093.3,533.0 1095.5,534.7 1098.3,534.9 1100.6,536.3 1102.3,538.7 1105.2,539.0 1107.5,540.2 1110.0,541.1 1112.6,542.0 1114.7,543.5 1116.9,545.2 1120.2,545.6 1121.6,548.2 1123.8,549.9 1126.0,551.7 1127.8,553.8 1130.5,555.0 1132.6,556.8 1134.7,558.6 1137.0,560.2 1137.7,563.7 1141.6,563.8 1143.8,565.9 1142.3,569.4 1144.5,571.5 1145.4,574.1 1145.9,576.8 1147.8,579.0 1149.3,581.3 1149.4,584.2M1089.6,365.7 1087.3,368.2 1086.9,370.8 1089.3,373.6 1088.5,376.1 1088.9,378.8 1089.8,381.4 1086.5,383.9 1086.6,386.5 1088.7,389.2 1088.6,391.8 1087.2,394.5 1087.6,397.5 1089.9,399.6 1091.3,402.1 1093.0,404.4 1092.2,407.9 1093.1,410.6 1094.3,413.2 1097.2,415.1 1097.5,418.1 1097.3,421.3 1099.4,423.5 1101.5,425.7 1103.8,427.8 1104.2,430.6 1104.7,433.8 1108.5,434.5 1108.0,438.5 1110.1,440.5 1112.4,442.3 1112.9,445.6 1114.5,447.9 1117.4,449.4 1120.5,449.9 1121.1,453.1 1123.4,454.4 1125.8,455.7 1125.9,459.4 1128.3,460.6 1131.8,460.7 1132.7,463.6M1175.4,519.6 1176.2,522.2 1176.0,525.0 1177.6,527.4 1177.8,530.1 1177.1,533.0 1180.1,535.1 1178.7,538.2 1180.4,540.4 1180.3,543.8 1181.7,546.0 1185.2,546.9 1185.8,549.8 1188.9,551.0 1189.4,553.8 1190.4,556.3 1190.9,559.0 1192.8,561.3 1194.7,563.6 1195.1,566.3 1194.4,569.3 1195.6,572.0 1194.8,574.6 1193.4,577.1 1192.2,579.6 1193.4,582.3 1193.6,584.9 1193.4,587.6 1195.1,590.0 1193.7,593.0 1196.6,595.1 1196.2,598.1 1195.3,600.7 1192.8,602.8 1194.7,606.2 1193.8,608.8 1191.9,611.1M1149.8,583.9 1151.9,585.9 1153.2,588.4 1154.7,590.9 1155.2,594.0 1157.9,595.5 1159.3,598.0 1161.0,600.4 1161.0,603.7 1161.8,606.5 1164.8,608.3 1165.2,611.2 1167.3,613.5 1165.2,616.7 1167.4,618.9 1167.4,621.7 1169.1,624.0 1170.0,626.5 1170.3,629.3 1168.5,632.1 1170.7,634.5 1169.6,637.2 1170.8,639.8 1170.7,642.4 1171.0,645.0M1171.7,643.9 1169.5,646.1 1166.6,647.2 1163.3,647.6 1160.9,649.7 1158.6,652.1 1155.6,651.1 1153.3,652.7 1150.9,654.6 1148.2,654.5 1145.6,655.2 1142.5,653.5 1140.2,655.2 1137.3,655.0 1134.6,654.3 1132.0,653.2 1129.4,652.3 1126.9,651.2 1124.9,648.6 1121.5,648.5 1119.6,650.4 1117.3,652.0 1116.2,654.6 1116.0,658.0 1114.5,660.3 1112.4,662.1 1110.4,664.0 1107.9,665.4 1105.7,667.4 1105.4,670.0 1105.4,672.7 1105.6,675.4 1102.3,677.4 1102.7,680.1 1103.7,683.0 1104.2,685.8 1100.2,687.6 1102.4,690.8 1100.5,692.9 1100.7,696.5 1097.4,698.1 1096.9,701.2 1093.6,702.8 1094.0,706.6 1092.3,708.3 1094.9,709.9 1095.7,713.6 1097.5,716.0 1100.8,716.6 1100.6,719.3 1102.3,721.8 1102.6,724.4 1103.6,726.9 1100.5,729.9 1104.3,732.1 1102.4,734.9 1103.6,737.4 1104.5,740.0 1103.7,742.7 1103.2,746.0 1106.7,747.6 1108.1,750.0 1107.6,753.4 1108.6,756.0 1110.3,758.4 1111.9,760.9 1110.3,763.7 1113.4,766.1 1113.4,768.7 1113.5,771.3 1112.7,774.0 1110.0,774.5 1107.1,774.6 1104.2,774.3 1101.4,774.1 1098.8,776.0 1096.2,778.0 1093.2,776.2 1090.2,778.0 1087.8,776.5 1085.1,776.7 1082.8,774.5 1080.3,773.4 1077.7,774.6 1075.2,775.9 1071.7,775.1 1069.4,776.9 1067.7,780.0 1064.2,779.2 1061.4,780.0 1059.4,782.5 1057.1,784.5 1053.8,784.4 1053.7,787.3 1053.4,790.2 1052.3,792.8 1050.1,794.9M1251.0,679.9 1253.5,677.7 1256.7,677.6 1259.8,677.1 1262.6,676.1 1265.4,674.7 1268.5,674.9 1270.1,671.3 1273.0,671.1 1276.5,672.2 1278.3,670.1 1280.5,672.2 1283.3,672.7 1286.3,672.9 1288.5,674.8 1291.5,674.9 1294.3,676.1 1295.4,678.5 1297.5,680.2 1296.7,684.1 1299.6,685.2 1300.2,687.8 1300.2,690.5 1302.3,692.8 1300.6,695.9 1300.7,698.6 1301.2,701.2 1301.4,703.8 1303.6,706.2 1304.5,708.9 1302.0,711.3 1302.1,714.0 1303.1,716.6 1303.1,719.3 1303.6,721.9 1300.9,724.4 1302.0,727.1 1300.5,729.7 1302.1,732.6 1301.9,735.3 1300.9,738.0 1299.7,740.7 1299.0,743.4 1300.7,746.3 1299.2,748.9 1300.0,751.8 1298.9,754.3 1297.6,756.6 1297.4,759.3 1297.3,762.0 1296.7,764.6 1293.6,766.3 1293.1,768.9 1294.0,772.0 1293.9,774.7 1292.0,776.8 1288.8,778.6 1290.9,782.6 1287.1,784.0 1287.0,787.1 1285.8,789.6 1284.7,792.3 1283.7,794.9M1525.0,516.3 1522.1,515.6 1518.9,517.1 1516.3,513.6 1513.4,515.4 1511.0,516.8 1507.9,515.5 1505.3,516.3 1502.5,516.3 1500.0,517.4 1497.4,518.1 1495.1,521.1 1492.3,521.9 1489.3,521.7 1486.0,520.3 1483.7,523.3 1480.6,522.6 1479.4,520.0 1475.8,519.7 1474.8,516.7 1472.9,514.3 1470.1,513.4 1467.0,514.2 1464.1,513.4 1461.1,513.6 1458.2,511.6 1455.5,512.1 1453.0,513.3 1450.9,515.0 1448.7,517.1 1448.4,520.1 1446.2,522.2 1446.6,525.5 1443.7,527.3 1443.2,530.2 1442.8,533.2 1440.4,534.9 1437.6,536.2 1436.2,538.9 1432.9,539.7 1433.1,544.3 1429.8,544.3 1427.2,543.8 1424.5,544.4 1422.0,542.8 1419.1,545.2 1416.6,543.8 1413.6,542.1 1409.7,542.5 1412.2,544.3 1411.9,547.9 1414.6,549.4 1417.1,551.9 1415.6,554.5 1413.6,556.7 1410.2,557.5 1408.8,560.2 1406.4,562.1 1403.7,563.6 1401.8,566.3 1397.6,565.2 1395.1,567.0 1393.1,569.6 1391.6,572.0 1390.2,574.5 1387.6,576.0 1386.7,578.7 1383.0,579.4 1382.0,582.6 1381.2,585.1 1380.2,587.6 1382.3,590.9 1380.4,593.6 1377.8,595.4 1375.7,597.8 1372.4,598.4 1369.7,600.4 1369.3,603.2 1369.4,605.6 1367.5,608.2 1364.8,609.3 1362.5,611.0 1359.5,611.2 1357.3,611.4 1356.5,614.0 1357.4,616.7 1356.0,619.3 1356.4,621.9 1356.2,624.5 1357.4,627.1 1356.5,629.4 1353.8,629.7 1351.2,630.2 1348.8,631.8 1346.2,632.3 1347.0,634.9 1347.9,637.5 1346.3,640.1 1346.1,642.6 1343.8,644.4 1340.7,642.5 1338.1,642.9 1335.5,643.5 1332.7,645.2 1332.1,648.0 1332.2,651.0 1330.8,653.5 1328.1,655.5 1327.2,658.1 1327.9,661.7 1327.0,664.5 1324.5,666.5 1323.2,669.1 1321.3,671.6 1324.8,670.9 1327.1,674.5 1330.7,674.3 1327.5,674.9 1327.1,678.5 1325.2,680.5 1322.8,682.4 1319.6,681.0 1317.4,683.1 1314.5,683.0 1312.7,686.5 1309.6,685.5 1306.8,685.5 1303.7,686.9 1302.0,689.3 1304.3,692.8 1302.5,695.1 1299.5,697.0 1300.4,700.2 1298.9,702.9 1301.7,705.4 1302.7,707.9 1299.3,710.7 1302.0,713.2 1301.0,715.9 1301.9,718.4 1301.2,721.1 1300.0,723.8 1301.1,726.2 1300.1,728.8 1302.2,731.6 1299.8,734.0 1302.6,736.9 1300.5,739.3" fill="none" stroke="#3355ff" stroke-width="1.9" stroke-linejoin="round" stroke-linecap="round"/>
<path d="M762.7,197.1 758.8,200.6 755.9,205.1 752.3,208.8 751.1,214.5 750.4,220.4 748.8,226.0 747.8,231.8 747.1,237.4 749.8,242.4 753.7,246.7 753.3,252.5 753.6,258.4 756.3,267.6 753.5,272.6 749.5,276.8 746.8,281.9 747.6,287.6 747.7,293.4 748.0,299.2 748.6,304.9 749.6,310.6" fill="none" stroke="#1c2a3a" stroke-width="4" stroke-linejoin="round"/>
<path d="M762.7,197.1 758.8,200.6 755.9,205.1 752.3,208.8 751.1,214.5 750.4,220.4 748.8,226.0 747.8,231.8 747.1,237.4 749.8,242.4 753.7,246.7 753.3,252.5 753.6,258.4 756.3,267.6 753.5,272.6 749.5,276.8 746.8,281.9 747.6,287.6 747.7,293.4 748.0,299.2 748.6,304.9 749.6,310.6" fill="none" stroke="#1e97ff" stroke-width="1.5" stroke-linejoin="round"/>
<path d="M1134.9,652.7 1140.9,655.0 1146.7,657.9 1151.6,653.7 1155.8,648.9 1161.1,648.1 1166.3,647.4 1171.4,646.1 1179.3,640.9 1184.6,640.7 1189.7,639.3 1195.0,639.4 1200.1,638.1 1205.4,637.0 1210.6,635.7M1171.5,646.1 1170.6,640.1 1171.1,633.9 1170.2,627.9M1200.2,638.3 1199.8,633.1 1200.1,627.9 1200.3,622.6 1200.2,617.4 1195.8,613.2 1192.2,608.3 1193.7,599.2M1200.3,614.9 1204.1,607.0" fill="none" stroke="#1c2a3a" stroke-width="4.2" stroke-linejoin="round" stroke-linecap="round"/>
<path d="M1134.9,652.7 1140.9,655.0 1146.7,657.9 1151.6,653.7 1155.8,648.9 1161.1,648.1 1166.3,647.4 1171.4,646.1 1179.3,640.9 1184.6,640.7 1189.7,639.3 1195.0,639.4 1200.1,638.1 1205.4,637.0 1210.6,635.7M1171.5,646.1 1170.6,640.1 1171.1,633.9 1170.2,627.9M1200.2,638.3 1199.8,633.1 1200.1,627.9 1200.3,622.6 1200.2,617.4 1195.8,613.2 1192.2,608.3 1193.7,599.2M1200.3,614.9 1204.1,607.0" fill="none" stroke="#1e97ff" stroke-width="1.4" stroke-linejoin="round" stroke-linecap="round"/>
<path d="M1107.4,927.5 1117.9,928.8 1125.7,940.5 1137.4,932.7 1144.0,935.3 1130.9,945.8 1140.1,954.9 1168.8,984.9 1168.8,988.8 1177.9,995.3 1192.3,995.3 1192.3,987.0 1224.9,988.8 1224.9,994.0 1204.0,994.0 1202.7,1001.9 1219.7,1016.2 1232.7,1018.8 1239.2,1034.5 1244.5,1054.1 1252.3,1048.9 1254.9,1054.1 1261.4,1054.1 1261.4,1028.0 1264.0,1017.5 1258.8,1020.1 1256.2,1013.6 1262.7,1009.7 1265.3,1012.3 1266.7,1007.1 1274.5,1003.2 1271.9,998.0 1277.1,996.7 1264.0,988.8 1279.7,984.9 1279.7,975.8 1282.3,975.8 1281.0,994.0 1278.4,1001.9 1288.8,1005.8 1270.6,1014.9 1273.2,1021.5 1268.0,1029.3 1277.1,1034.5 1274.5,1048.9 1290.1,1031.9 1286.2,1047.6 1294.1,1056.7 1292.8,1082.0 1283.0,1087.1 1288.8,1097.5 1299.3,1082.5 1293.5,1114.9 1291.2,1147.4 1297.0,1150.9 1295.8,1156.7 1291.2,1157.8 1293.5,1175.2 1286.5,1186.8 1288.8,1214.6 1299.3,1198.4 1298.1,1214.6 1277.2,1226.2 1274.9,1240.0 1266.0,1262.0 1262.0,1284.0 1257.0,1284.0 1249.0,1262.0 1247.1,1245.0 1221.6,1233.2 1190.0,1215.0 1147.4,1190.3 1165.9,1199.6 1174.1,1188.0 1177.5,1203.0 1191.4,1206.5 1190.3,1194.9 1196.1,1189.1 1201.9,1210.0 1222.8,1203.0 1228.6,1208.8 1223.9,1217.0 1247.0,1222.0 1250.6,1203.0 1243.6,1201.9 1239.0,1193.8 1247.1,1191.4 1247.1,1184.5 1256.4,1191.4 1268.0,1181.0 1256.4,1179.9 1256.4,1176.4 1262.2,1175.2 1259.9,1165.9 1272.6,1174.1 1264.5,1161.3 1269.1,1156.7 1262.2,1143.9 1254.1,1141.6 1266.8,1139.3 1276.1,1127.7 1279.6,1130.0 1277.2,1120.7 1271.4,1123.0 1258.7,1099.9 1259.9,1095.2 1242.5,1094.1 1247.1,1104.5 1237.8,1095.2 1215.8,1090.6 1226.2,1086.6 1256.4,1088.3 1237.8,1069.7 1175.2,1079.0 1211.8,1069.7 1217.1,1063.2 1227.5,1067.1 1234.0,1058.0 1227.5,1052.8 1232.7,1047.6 1227.5,1043.6 1227.5,1031.9 1222.3,1033.2 1224.9,1024.1 1204.0,1008.4 1200.1,1022.8 1185.7,1025.4 1194.9,1020.1 1197.5,1011.0 1185.7,1007.1 1177.9,1009.7 1170.1,1021.5 1176.6,1004.5 1168.8,995.3 1167.5,1001.9 1162.2,1000.6 1144.0,1004.5 1164.9,992.7 1140.1,974.5 1128.3,975.8 1138.8,970.5 1133.5,960.1 1125.7,951.0 1115.3,934.0ZM933.6,280.6 938.8,275.4 944.1,281.9 948.0,289.7 944.1,292.4 937.5,285.8ZM1082.3,356.6 1088.8,359.2 1094.0,367.0 1088.8,365.7 1083.6,361.8ZM1131.9,476.6 1141.0,480.6 1137.1,488.4 1143.6,496.2 1150.2,488.4 1156.7,506.7 1163.2,498.8 1165.8,496.2 1176.3,494.9 1167.1,501.4 1172.4,511.9 1164.5,514.5 1154.1,517.1 1143.6,521.0 1138.4,511.9 1128.0,506.7 1137.1,502.7 1128.0,496.2 1137.1,494.9 1130.6,483.2ZM1327.9,535.7 1333.1,546.2 1341.0,548.8 1342.3,556.6 1350.1,556.6 1347.5,564.4 1350.1,572.3 1344.9,571.0 1342.3,563.1 1335.7,568.4 1335.7,559.2 1330.5,554.0 1324.0,551.4 1322.7,541.0ZM904.9,941.8 908.8,949.7 916.7,957.5 921.9,960.1 924.5,970.6 931.0,978.4 924.5,981.0 919.3,988.8 914.0,986.2 912.7,978.4 906.2,975.8 908.8,969.2 901.0,965.3 903.6,960.1 894.5,958.8 902.3,954.9 902.3,947.1Z" fill="#1e97ff" stroke="#1c2a3a" stroke-width="1.6" stroke-linejoin="round"/>
<g id="sitelabels">
<text class="lb" x="629.1" y="406.7" textLength="82.8" lengthAdjust="spacingAndGlyphs" font-size="22.4" fill="#000" stroke="#000" stroke-width="0.45">Nwokuy</text>
<text class="lb" x="762.8" y="465.6" textLength="70.5" lengthAdjust="spacingAndGlyphs" font-size="22.4" fill="#000" stroke="#000" stroke-width="0.45">Dapola</text>
<text class="lb" x="994.1" y="368.3" textLength="80.4" lengthAdjust="spacingAndGlyphs" font-size="22.4" fill="#000" stroke="#000" stroke-width="0.45">Ouaga2</text>
<text class="lb" x="1018.4" y="451.3" textLength="84.8" lengthAdjust="spacingAndGlyphs" font-size="22.4" fill="#000" stroke="#000" stroke-width="0.45">Yakala 2</text>
<text class="lb" x="1047.2" y="483.7" textLength="85.4" lengthAdjust="spacingAndGlyphs" font-size="22.4" fill="#000" stroke="#000" stroke-width="0.45">Yakala 1</text>
<text class="lb" x="1000.5" y="710.1" textLength="79.6" lengthAdjust="spacingAndGlyphs" font-size="22.4" fill="#000" stroke="#000" stroke-width="0.45">Nawuni</text>
<text class="lb" x="1234.9" y="775.3" textLength="64.5" lengthAdjust="spacingAndGlyphs" font-size="22.4" fill="#000" stroke="#000" stroke-width="0.45">Sabari</text>
<text class="lb" x="1170.6" y="1163.6" textLength="68.4" lengthAdjust="spacingAndGlyphs" font-size="22.4" fill="#000" stroke="#000" stroke-width="0.45">Senchi</text>
<text class="lb" x="-0.0" y="0" transform="translate(1306.5,695.5) rotate(87)" textLength="92.9" lengthAdjust="spacingAndGlyphs" font-size="22.4" fill="#000" stroke="#000" stroke-width="0.45">Oti River</text>
</g>
<g id="markers">
<circle cx="944.9" cy="993.2" r="14.6" fill="#e8cc08" stroke="#3f8a36" stroke-width="5.4"/>
<circle cx="1175.0" cy="529.4" r="14.6" fill="#e8cc08" stroke="#3f8a36" stroke-width="5.4"/>
<circle cx="1106.2" cy="667.5" r="14.6" fill="#e8cc08" stroke="#3f8a36" stroke-width="5.4"/>
<path d="M1022.0,347.5L1036.4,361.9L1022.0,376.3L1007.6,361.9Z" fill="#45ef35" stroke="#000" stroke-width="5.1" stroke-linejoin="bevel"/>
<path d="M946.7,185.3L961.1,199.7L946.7,214.1L932.3,199.7Z" fill="#45ef35" stroke="#000" stroke-width="5.1" stroke-linejoin="bevel"/>
<path d="M714.2,371.1L728.6,385.5L714.2,399.9L699.8,385.5Z" fill="#45ef35" stroke="#000" stroke-width="5.1" stroke-linejoin="bevel"/>
<path d="M835.9,430.2L850.3,444.6L835.9,459.0L821.5,444.6Z" fill="#45ef35" stroke="#000" stroke-width="5.1" stroke-linejoin="bevel"/>
<path d="M1075.8,333.9L1090.2,348.3L1075.8,362.7L1061.4,348.3Z" fill="#45ef35" stroke="#000" stroke-width="5.1" stroke-linejoin="bevel"/>
<path d="M1103.7,416.6L1118.1,431.0L1103.7,445.4L1089.3,431.0Z" fill="#45ef35" stroke="#000" stroke-width="5.1" stroke-linejoin="bevel"/>
<path d="M1132.7,449.2L1147.1,463.6L1132.7,478.0L1118.3,463.6Z" fill="#45ef35" stroke="#000" stroke-width="5.1" stroke-linejoin="bevel"/>
<path d="M1149.4,569.8L1163.8,584.2L1149.4,598.6L1135.0,584.2Z" fill="#45ef35" stroke="#000" stroke-width="5.1" stroke-linejoin="bevel"/>
<path d="M1292.9,488.6L1307.3,503.0L1292.9,517.4L1278.5,503.0Z" fill="#45ef35" stroke="#000" stroke-width="5.1" stroke-linejoin="bevel"/>
<path d="M1080.1,674.8L1094.5,689.2L1080.1,703.6L1065.7,689.2Z" fill="#45ef35" stroke="#000" stroke-width="5.1" stroke-linejoin="bevel"/>
<path d="M1299.4,740.1L1313.8,754.5L1299.4,768.9L1285.0,754.5Z" fill="#45ef35" stroke="#000" stroke-width="5.1" stroke-linejoin="bevel"/>
<path d="M1239.4,1129.0L1253.8,1143.4L1239.4,1157.8L1225.0,1143.4Z" fill="#45ef35" stroke="#000" stroke-width="5.1" stroke-linejoin="bevel"/>
<path d="M1031.3,339.5L1070.7,339.5L1051.0,378.9Z" fill="#7b5b00" stroke="#000" stroke-width="4.7" stroke-linejoin="bevel"/>
<path d="M1010.5,229.3L1049.9,229.3L1030.2,268.7Z" fill="#7b5b00" stroke="#000" stroke-width="4.7" stroke-linejoin="bevel"/>
<path d="M935.6,262.8L975.0,262.8L955.3,302.2Z" fill="#7b5b00" stroke="#000" stroke-width="4.7" stroke-linejoin="bevel"/>
<path d="M735.8,312.8L775.2,312.8L755.5,352.2Z" fill="#7b5b00" stroke="#000" stroke-width="4.7" stroke-linejoin="bevel"/>
<path d="M1081.2,335.6L1120.6,335.6L1100.9,375.0Z" fill="#7b5b00" stroke="#000" stroke-width="4.7" stroke-linejoin="bevel"/>
<path d="M1165.7,462.8L1205.1,462.8L1185.4,502.1Z" fill="#7b5b00" stroke="#000" stroke-width="4.7" stroke-linejoin="bevel"/>
<path d="M1337.5,525.0L1377.0,525.0L1357.2,564.4Z" fill="#7b5b00" stroke="#000" stroke-width="4.7" stroke-linejoin="bevel"/>
<path d="M1120.9,615.6L1160.3,615.6L1140.6,655.0Z" fill="#7b5b00" stroke="#000" stroke-width="4.7" stroke-linejoin="bevel"/>
<path d="M917.0,941.4L956.4,941.4L936.7,980.8Z" fill="#7b5b00" stroke="#000" stroke-width="4.7" stroke-linejoin="bevel"/>
<path d="M1246.5,1239.9L1285.9,1239.9L1266.2,1279.3Z" fill="#7b5b00" stroke="#000" stroke-width="4.7" stroke-linejoin="bevel"/>
<path d="M1237.3,1286.4L1276.7,1286.4L1257.0,1325.8Z" fill="#7b5b00" stroke="#000" stroke-width="4.7" stroke-linejoin="bevel"/>
</g>
<g opacity="0.5">
<text class="lb" x="994.1" y="368.3" textLength="80.4" lengthAdjust="spacingAndGlyphs" font-size="22.4" fill="#000" stroke="#000" stroke-width="0.45">Ouaga2</text>
</g>
<g id="reslabels">
<text class="bd" x="938.8" y="219.3" textLength="90.1" lengthAdjust="spacingAndGlyphs" font-size="22.4" fill="#fff" stroke="#fff" stroke-width="4.5" stroke-linejoin="round">Lac Bam</text>
<text class="bd" x="938.8" y="219.3" textLength="90.1" lengthAdjust="spacingAndGlyphs" font-size="22.4" fill="#000">Lac Bam</text>
<text class="bd" x="861.0" y="253.0" textLength="93.2" lengthAdjust="spacingAndGlyphs" font-size="22.4" fill="#fff" stroke="#fff" stroke-width="4.5" stroke-linejoin="round">Kanozoe</text>
<text class="bd" x="861.0" y="253.0" textLength="93.2" lengthAdjust="spacingAndGlyphs" font-size="22.4" fill="#000">Kanozoe</text>
<text class="bd" x="713.2" y="303.6" textLength="41.8" lengthAdjust="spacingAndGlyphs" font-size="22.4" fill="#fff" stroke="#fff" stroke-width="4.5" stroke-linejoin="round">Léri</text>
<text class="bd" x="713.2" y="303.6" textLength="41.8" lengthAdjust="spacingAndGlyphs" font-size="22.4" fill="#000">Léri</text>
<text class="bd" x="949.2" y="329.7" textLength="99.9" lengthAdjust="spacingAndGlyphs" font-size="22.4" fill="#fff" stroke="#fff" stroke-width="4.5" stroke-linejoin="round">Loumbila</text>
<text class="bd" x="949.2" y="329.7" textLength="99.9" lengthAdjust="spacingAndGlyphs" font-size="22.4" fill="#000">Loumbila</text>
<text class="bd" x="1051.0" y="325.2" textLength="47.0" lengthAdjust="spacingAndGlyphs" font-size="22.4" fill="#fff" stroke="#fff" stroke-width="4.5" stroke-linejoin="round">Ziga</text>
<text class="bd" x="1051.0" y="325.2" textLength="47.0" lengthAdjust="spacingAndGlyphs" font-size="22.4" fill="#000">Ziga</text>
<text class="bd" x="1120.7" y="453.1" textLength="63.4" lengthAdjust="spacingAndGlyphs" font-size="22.4" fill="#fff" stroke="#fff" stroke-width="4.5" stroke-linejoin="round">Bagré</text>
<text class="bd" x="1120.7" y="453.1" textLength="63.4" lengthAdjust="spacingAndGlyphs" font-size="22.4" fill="#000">Bagré</text>
<text class="bd" x="1232.5" y="514.7" textLength="122.8" lengthAdjust="spacingAndGlyphs" font-size="22.4" fill="#fff" stroke="#fff" stroke-width="4.5" stroke-linejoin="round">Kompienga</text>
<text class="bd" x="1232.5" y="514.7" textLength="122.8" lengthAdjust="spacingAndGlyphs" font-size="22.4" fill="#000">Kompienga</text>
<text class="bd" x="1046.2" y="605.8" textLength="92.6" lengthAdjust="spacingAndGlyphs" font-size="22.4" fill="#fff" stroke="#fff" stroke-width="4.5" stroke-linejoin="round">Pwalugu</text>
<text class="bd" x="1046.2" y="605.8" textLength="92.6" lengthAdjust="spacingAndGlyphs" font-size="22.4" fill="#000">Pwalugu</text>
<text class="bd" x="902.3" y="931.4" textLength="32.6" lengthAdjust="spacingAndGlyphs" font-size="22.4" fill="#fff" stroke="#fff" stroke-width="4.5" stroke-linejoin="round">Bui</text>
<text class="bd" x="902.3" y="931.4" textLength="32.6" lengthAdjust="spacingAndGlyphs" font-size="22.4" fill="#000">Bui</text>
<text class="bd" x="1149.2" y="1230.4" textLength="116.0" lengthAdjust="spacingAndGlyphs" font-size="22.4" fill="#fff" stroke="#fff" stroke-width="4.5" stroke-linejoin="round">Akosombo</text>
<text class="bd" x="1149.2" y="1230.4" textLength="116.0" lengthAdjust="spacingAndGlyphs" font-size="22.4" fill="#000">Akosombo</text>
<text class="bd" x="1185.7" y="1276.1" textLength="69.5" lengthAdjust="spacingAndGlyphs" font-size="22.4" fill="#fff" stroke="#fff" stroke-width="4.5" stroke-linejoin="round">Kpong</text>
<text class="bd" x="1185.7" y="1276.1" textLength="69.5" lengthAdjust="spacingAndGlyphs" font-size="22.4" fill="#000">Kpong</text>
<text class="bd" x="-0.0" y="0" transform="translate(829.5,760.5) rotate(-94)" textLength="123.0" lengthAdjust="spacingAndGlyphs" font-size="22.4" fill="#fff" stroke="#fff" stroke-width="3" stroke-linejoin="round">Black Volta</text>
<text class="bd" x="-0.0" y="0" transform="translate(829.5,760.5) rotate(-94)" textLength="123.0" lengthAdjust="spacingAndGlyphs" font-size="22.4" fill="#000">Black Volta</text>
<text class="bd" x="-0.0" y="0" transform="translate(946.7,918.8) rotate(-11.5)" textLength="122.0" lengthAdjust="spacingAndGlyphs" font-size="22.4" fill="#fff" stroke="#fff" stroke-width="3" stroke-linejoin="round">Black Volta</text>
<text class="bd" x="-0.0" y="0" transform="translate(946.7,918.8) rotate(-11.5)" textLength="122.0" lengthAdjust="spacingAndGlyphs" font-size="22.4" fill="#000">Black Volta</text>
<text class="bd" x="-0.0" y="0" transform="translate(979.5,474.0) rotate(37)" textLength="107.0" lengthAdjust="spacingAndGlyphs" font-size="22.4" fill="#fff" stroke="#fff" stroke-width="3" stroke-linejoin="round">Red Volta</text>
<text class="bd" x="-0.0" y="0" transform="translate(979.5,474.0) rotate(37)" textLength="107.0" lengthAdjust="spacingAndGlyphs" font-size="22.4" fill="#000">Red Volta</text>
<text class="bd" x="-0.0" y="0" transform="translate(1021.0,828.0) rotate(-58)" textLength="124.0" lengthAdjust="spacingAndGlyphs" font-size="22.4" fill="#fff" stroke="#fff" stroke-width="3" stroke-linejoin="round">White Volta</text>
<text class="bd" x="-0.0" y="0" transform="translate(1021.0,828.0) rotate(-58)" textLength="124.0" lengthAdjust="spacingAndGlyphs" font-size="22.4" fill="#000">White Volta</text>
<text class="bd" x="-0.0" y="0" transform="translate(1261.5,909.5) rotate(-78)" textLength="34.0" lengthAdjust="spacingAndGlyphs" font-size="22.4" fill="#fff" stroke="#fff" stroke-width="3" stroke-linejoin="round">Oti</text>
<text class="bd" x="-0.0" y="0" transform="translate(1261.5,909.5) rotate(-78)" textLength="34.0" lengthAdjust="spacingAndGlyphs" font-size="22.4" fill="#000">Oti</text>
<text class="lb" x="1176.3" y="549.7" textLength="44.3" lengthAdjust="spacingAndGlyphs" font-size="22.4" fill="#f7e9a6" stroke="#f7e9a6" stroke-width="5" stroke-linejoin="round">BAG</text>
<text class="lb" x="1176.3" y="549.7" textLength="44.3" lengthAdjust="spacingAndGlyphs" font-size="22.4" fill="#000" stroke="#000" stroke-width="0.45">BAG</text>
<text class="lb" x="1107.5" y="687.9" textLength="49.6" lengthAdjust="spacingAndGlyphs" font-size="22.4" fill="#f7e9a6" stroke="#f7e9a6" stroke-width="5" stroke-linejoin="round">PWA</text>
<text class="lb" x="1107.5" y="687.9" textLength="49.6" lengthAdjust="spacingAndGlyphs" font-size="22.4" fill="#000" stroke="#000" stroke-width="0.45">PWA</text>
<text class="lb" x="946.7" y="1013.6" textLength="33.9" lengthAdjust="spacingAndGlyphs" font-size="22.4" fill="#f7e9a6" stroke="#f7e9a6" stroke-width="5" stroke-linejoin="round">BUI</text>
<text class="lb" x="946.7" y="1013.6" textLength="33.9" lengthAdjust="spacingAndGlyphs" font-size="22.4" fill="#000" stroke="#000" stroke-width="0.45">BUI</text>
</g>
<path d="M1236.0,115.7 1241.5,116.8 1247.0,125.6 1260.2,130.0 1259.1,136.6 1255.8,145.4 1254.7,157.5 1249.2,158.6 1236.0,152.0 1232.7,141.0 1225.0,133.3 1229.4,125.6Z" fill="#dc0000" stroke="#b00" stroke-width="0.8"/>
<path d="M1169.8,114.5 1172.6,111.2 1175.5,108.0 1176.2,102.5 1176.6,96.9 1175.6,92.9 1174.8,88.9 1174.4,84.8 1176.3,81.3 1178.1,77.6 1179.8,73.9 1182.0,70.5 1184.9,66.5 1188.1,62.8 1191.3,59.1 1194.1,55.0 1197.9,52.1 1201.9,49.7 1205.6,46.6 1209.5,44.0 1211.2,40.2 1213.0,36.4 1215.2,33.0 1217.6,29.7 1220.1,26.4 1222.4,23.0 1225.0,19.8 1230.1,20.7 1235.3,21.2 1240.4,22.1 1244.4,19.7 1248.4,17.4 1252.5,15.5 1256.7,14.7 1261.0,14.2 1265.2,13.0 1269.4,12.6 1273.7,11.9 1277.9,11.0 1282.8,10.2 1287.8,9.9 1287.1,15.4 1286.7,20.9 1289.4,24.2 1292.2,27.6 1296.6,28.2 1301.0,28.6 1305.4,29.0 1309.8,29.7 1314.2,33.1 1319.7,33.8 1325.3,34.2 1326.9,28.7 1328.5,23.1 1332.3,21.9 1336.2,21.0 1340.3,21.8 1344.4,22.2 1348.4,23.2 1352.3,22.3 1356.1,20.9 1360.0,20.1 1363.8,18.7 1367.7,17.7 1371.5,16.6 1375.6,15.2 1379.7,14.2 1384.0,13.5 1388.1,12.0 1393.6,17.6 1394.1,23.1 1394.6,28.7 1397.4,32.4 1400.2,36.3 1403.1,39.9 1406.3,43.4 1409.0,47.3 1412.5,51.6 1415.6,56.2 1421.2,60.5 1423.5,63.9 1425.9,67.2 1428.5,70.4 1430.6,73.9 1433.2,77.1 1436.7,81.0 1440.6,84.4 1444.2,88.1 1447.9,90.7 1451.6,93.1 1455.2,95.9 1459.1,98.5 1462.7,101.6 1466.3,104.6 1468.4,110.2 1472.8,111.8 1477.2,113.4 1481.6,111.4 1486.1,109.7 1490.5,107.8 1494.8,105.7 1499.4,103.7 1503.7,101.3 1508.1,99.2 1512.5,96.9 1518.0,94.7 1523.4,92.6 1524.4,98.1 1525.6,103.5 1524.9,107.5 1524.3,111.5 1523.9,115.5 1523.4,119.5 1522.3,123.3 1520.8,127.3 1519.3,131.3 1517.9,135.3 1516.4,139.3 1514.6,143.1 1512.1,146.9 1509.8,150.7 1507.0,154.2M1382.5,22.0 1387.0,25.3 1391.3,28.5 1394.6,28.6M1169.8,114.6 1170.8,120.1 1172.1,125.6 1176.6,132.1 1179.9,135.1 1183.3,137.9 1186.4,141.0 1189.2,144.8 1192.2,148.5 1195.2,152.1 1199.3,154.2 1203.3,156.6 1207.3,159.1 1211.0,161.9 1215.1,164.2 1219.0,163.5 1223.0,162.7 1227.0,162.4 1230.9,161.3 1234.9,160.8 1239.3,159.8 1243.8,159.6 1248.1,158.6 1252.0,157.7 1255.9,156.6 1259.7,155.4 1263.5,154.3 1267.9,157.3 1272.2,160.3 1276.8,163.1 1281.2,163.1 1285.6,163.9 1290.0,164.1M1194.2,55.0 1198.6,55.2 1203.0,55.5 1207.3,56.2 1211.9,56.2 1212.9,62.8 1208.5,63.4 1204.0,63.2 1199.7,63.9 1196.3,68.2 1193.0,72.7 1192.3,78.2 1191.9,83.8 1187.8,84.0 1183.7,84.1 1179.5,84.4 1175.4,84.8M1240.3,22.0 1241.3,26.4 1241.7,30.9 1242.6,35.2 1237.6,37.4 1232.7,39.7 1230.5,42.9 1227.1,45.2 1223.6,47.1 1220.0,49.0 1216.5,51.1 1213.0,52.9 1211.8,56.2M1212.8,58.4 1216.2,61.0 1219.6,63.4 1223.1,65.7 1226.3,68.5 1229.6,71.0 1233.1,73.4 1236.6,75.7 1239.9,78.4 1243.3,80.8 1246.7,83.2 1250.2,85.7 1253.3,88.5 1256.7,90.9 1260.0,93.5 1263.5,95.8M1220.6,69.3 1222.8,70.5 1223.0,74.7 1223.5,78.9 1223.6,83.1 1223.6,87.2 1223.9,91.4 1223.9,95.6 1224.3,99.8 1224.5,104.0 1224.7,108.2 1225.0,112.3 1220.4,112.6 1215.8,113.0 1211.2,112.6 1206.6,112.9 1202.1,113.5 1197.5,113.5 1195.3,116.8M1263.5,95.8 1269.1,94.3 1274.5,92.5 1277.8,89.6 1281.5,87.2 1284.8,84.3 1288.3,81.7 1291.8,79.1 1295.2,76.3 1298.8,73.8M1278.0,11.0 1278.3,15.4 1278.6,19.8 1278.8,24.2 1279.0,28.6 1281.6,32.6 1284.2,36.7 1286.6,40.7 1288.7,36.8 1290.5,32.7 1292.2,28.6M1286.7,40.8 1287.6,45.3 1288.2,50.0 1288.4,54.7 1289.3,59.3 1290.0,63.8 1292.8,67.0 1295.7,69.9 1298.8,72.6 1303.2,73.4 1307.6,74.2 1312.0,74.8 1316.4,71.6M1316.4,71.6 1320.4,72.9 1324.3,74.1 1328.3,75.3 1332.3,76.5 1336.3,77.6 1340.3,78.6 1344.3,79.8 1348.1,81.5 1352.0,82.7 1356.1,83.7M1348.3,23.2 1349.5,27.2 1349.9,31.3 1351.2,35.4 1351.9,39.5 1352.9,43.6 1353.3,47.7 1354.2,51.8 1355.1,55.9 1356.2,59.9 1356.8,64.1 1358.0,68.1 1358.7,72.2 1359.5,76.3 1360.5,80.5 1356.1,83.7M1360.5,70.5 1364.4,69.3 1368.4,68.8 1372.2,67.5 1376.2,66.5 1380.1,65.6 1384.1,64.9 1388.0,64.0 1392.0,63.0 1395.9,62.2 1399.9,61.2 1403.7,59.9 1407.7,59.2 1411.6,58.0 1415.6,57.3M1263.6,95.8 1268.0,98.0 1268.2,102.8 1268.0,107.6 1267.9,112.3 1262.8,113.4 1257.7,114.8 1252.6,115.7 1247.0,117.9M1314.2,74.9 1315.7,79.3 1317.4,83.6 1318.7,88.1 1318.2,93.3 1317.8,98.4 1317.6,103.6 1315.2,107.9 1313.3,112.4 1310.9,116.8 1312.0,120.1M1268.0,125.6 1271.2,122.8 1274.5,120.2 1279.0,120.6 1283.4,121.1 1287.8,121.7 1292.2,122.4 1297.3,122.2 1302.5,121.7 1307.6,121.2 1312.0,120.1 1317.5,125.6 1318.6,132.2M1356.0,83.7 1356.5,87.7 1357.2,91.7 1358.2,95.6 1358.7,99.6 1359.4,103.6 1356.2,108.1 1352.7,112.4 1353.5,117.9 1353.8,123.4 1357.2,127.8M1318.6,141.0 1323.1,143.7 1327.5,146.6 1331.9,145.3 1336.3,144.0 1340.7,142.7 1345.1,141.1 1348.0,137.9 1351.2,135.0 1354.1,131.9 1357.2,128.9M1318.5,132.1 1316.5,136.6 1314.3,141.0 1312.1,145.5 1307.6,148.7 1303.2,152.0 1299.6,154.3 1296.0,156.6 1292.2,158.6 1290.0,164.1M1318.7,132.2 1314.3,138.7 1317.2,141.7 1320.2,144.6 1323.0,147.6 1318.6,154.2M1357.2,127.8 1359.7,131.0 1362.3,134.3 1364.8,137.5 1367.1,141.0 1370.6,144.9 1374.5,148.3 1378.1,152.0M1433.2,77.1 1431.1,80.8 1428.7,84.4 1426.6,88.1 1426.0,92.5 1426.0,97.0 1425.5,101.4 1425.0,105.8 1424.4,110.2 1423.0,114.6 1421.5,119.0 1419.9,123.3 1417.8,128.2 1415.5,132.9 1413.3,137.8 1416.1,140.8 1418.8,143.8 1421.5,146.9 1424.4,149.8 1427.9,152.9 1431.0,156.4M1427.7,97.0 1431.8,96.4 1435.9,95.9 1440.0,95.0 1444.2,94.8 1448.7,97.6 1453.0,100.7 1457.4,103.5 1461.7,106.5 1466.2,109.1M1468.5,114.5 1471.5,117.4 1474.1,120.6 1477.3,123.3 1481.4,123.7 1485.4,124.3 1489.5,125.1 1493.6,125.0 1497.7,125.6 1501.8,126.4 1506.0,126.7 1503.4,130.0 1500.7,133.2 1498.2,136.5 1495.7,139.8 1493.5,143.3 1490.6,146.4 1488.3,149.8M1175.4,107.9 1179.9,107.0 1184.2,105.7 1187.0,108.9 1190.1,111.6 1193.0,114.5 1197.5,113.5M1173.2,121.1 1179.8,120.1 1186.4,121.6M1173.2,123.3 1179.8,122.6 1186.4,123.4M1176.5,130.1 1180.6,128.9 1184.7,128.0 1188.6,126.6 1193.3,126.9 1198.0,127.2 1202.7,127.3 1207.4,127.8 1209.0,132.3 1210.9,136.6 1212.9,141.0 1210.1,145.4 1207.3,149.9 1209.1,153.5 1211.2,157.0 1213.4,160.4 1215.1,164.1M1189.8,143.3 1193.0,138.3 1198.6,138.3 1200.8,143.2 1198.6,148.7 1193.1,149.8 1189.7,143.2M1212.9,141.0 1215.1,136.6 1219.5,135.8 1223.8,135.5 1226.1,139.2 1228.4,142.9 1230.3,146.8 1232.5,150.6 1234.8,154.2 1234.9,160.8M1195.1,116.8 1197.1,121.6 1198.6,126.7 1203.0,127.2 1207.4,127.8 1210.7,134.4 1215.1,133.9 1219.4,132.7 1223.9,132.2M1225.0,132.2 1227.7,128.2 1230.1,124.0 1232.4,119.8 1234.9,115.6 1239.3,116.0 1243.7,116.4 1248.1,116.8 1252.1,119.4 1255.9,122.2 1259.5,125.3 1263.7,127.8 1260.2,134.4M1256.9,141.0 1257.5,145.4 1257.5,149.8 1258.0,154.2M1260.3,136.6 1260.5,141.0 1261.5,145.4 1261.7,149.8 1262.4,154.2M1263.5,127.7 1268.1,125.6 1267.1,131.1 1265.9,136.6 1265.3,141.0 1264.4,145.4 1264.2,149.8 1263.5,154.2M1173.2,126.7 1177.7,125.9 1182.0,127.8M1517.0,141.3 1513.7,145.6 1510.5,150.1 1507.8,153.4 1505.2,157.0 1502.7,160.5 1499.9,163.9 1496.4,167.0 1493.2,170.3 1489.7,173.5 1486.3,176.6 1482.6,179.6 1479.4,182.3 1476.2,184.9 1473.0,187.7 1469.9,190.5 1467.0,193.5 1463.4,196.2 1459.9,199.2 1456.5,202.2 1453.6,207.3 1451.3,212.6 1450.2,217.9 1448.8,223.0 1449.8,228.2 1450.4,233.5 1449.5,237.8 1448.6,242.2 1451.6,246.4 1454.0,250.9 1453.2,254.9 1453.2,259.0 1452.7,263.1 1452.0,267.1 1452.0,271.2 1451.3,275.2 1448.2,277.9 1445.5,281.0 1442.6,283.9 1437.9,285.5 1433.0,286.5 1428.2,287.8 1423.4,289.1 1418.3,291.7 1413.1,294.4 1408.8,297.8 1409.5,303.1 1410.5,308.3 1409.4,313.5 1407.9,318.7 1404.3,323.0 1400.3,323.6 1396.2,324.3 1392.1,324.7 1388.7,331.7 1385.3,335.0 1381.7,338.1 1378.2,341.2 1374.4,344.0 1370.5,346.6 1366.5,349.1 1362.6,351.6 1358.5,353.4 1354.6,355.4 1350.4,356.9 1345.8,356.5 1341.2,355.8 1336.5,355.2 1331.9,355.2 1327.2,354.6 1322.6,354.4 1318.3,350.0 1319.0,346.0 1319.4,341.9 1320.0,337.8 1318.8,333.9 1317.7,330.0 1316.7,326.1 1315.7,322.2 1312.1,317.0 1312.0,312.4 1311.5,307.9 1311.0,303.4 1310.6,298.9 1310.5,294.3 1309.2,290.5 1307.8,286.7 1305.9,283.1 1304.4,279.4 1303.3,275.5 1301.6,271.7 1301.5,266.5 1300.9,261.3 1302.5,256.6 1304.3,252.0 1306.1,247.4 1309.0,243.8 1312.1,240.4 1312.3,236.1 1312.2,231.7 1311.1,226.9 1309.8,222.2 1308.7,217.4 1307.8,212.6 1305.6,209.3 1303.8,205.6 1301.8,202.2 1298.8,198.0 1295.4,194.0 1292.3,190.0 1290.4,186.5 1293.9,181.3 1294.2,176.1 1294.8,170.9 1291.3,163.8 1288.7,163.6M1294.8,173.5 1299.3,173.3 1303.7,173.6 1308.2,173.7 1312.7,174.0 1317.1,174.1 1321.6,174.2 1326.1,174.3M1294.8,179.7 1301.8,178.7 1301.7,174.3M1312.2,177.7 1317.5,178.7 1316.8,183.0 1316.5,187.4 1317.4,191.7 1312.8,193.2 1308.2,194.9 1303.5,196.1 1305.1,202.2 1307.8,207.4M1326.1,174.4 1327.8,167.3 1332.2,166.7 1336.5,166.5M1336.4,166.5 1336.1,170.6 1335.9,174.8 1335.1,178.9 1334.7,183.0 1331.7,187.0 1328.9,191.1 1326.0,195.2 1324.4,200.5 1320.9,203.1 1317.4,205.6 1312.6,206.6 1307.8,207.4M1318.3,150.0 1317.6,154.3 1317.3,158.7 1320.3,162.9 1322.7,167.3 1326.1,172.6M1336.5,166.5 1339.1,159.7 1343.2,160.3 1347.4,161.1 1351.6,161.3 1355.7,162.2 1359.5,160.5 1363.4,159.0 1367.3,157.4 1371.3,156.1 1376.6,156.7 1381.7,157.9 1386.1,158.3 1390.4,158.8 1393.8,160.9 1397.5,162.5 1400.9,164.9 1405.2,163.9 1409.6,163.3 1413.9,162.2 1418.2,161.2 1421.7,157.8M1378.2,150.0 1380.2,153.8 1381.7,157.8M1426.9,150.1 1430.4,157.0 1434.9,158.2 1439.5,159.0 1444.0,160.0 1448.5,161.2 1453.1,162.2 1457.7,160.7 1462.3,159.1 1467.0,157.8 1471.5,156.4 1475.9,154.5 1480.5,152.9 1485.0,151.6 1489.6,150.0M1463.4,162.2 1463.6,166.5 1463.3,170.9 1462.8,175.2 1463.0,179.6 1462.6,183.9 1462.6,188.2 1467.0,193.5M1402.7,164.8 1404.4,170.9 1400.7,175.1 1397.3,179.5 1396.4,184.8 1394.8,190.0M1421.7,160.5 1423.4,165.7 1425.2,170.9 1423.4,174.9 1421.7,179.0 1420.1,183.1 1419.1,189.1M1399.1,189.7 1403.1,189.5 1407.1,189.7 1411.1,190.1 1415.1,190.0 1419.1,190.0 1422.8,192.4 1426.7,194.6 1430.5,196.9 1434.2,199.3 1438.1,201.4 1441.8,203.9 1445.1,206.6 1447.9,209.9 1451.3,212.6M1392.3,197.0 1394.8,191.8 1401.8,190.9 1402.0,195.7 1402.7,200.5 1399.9,203.8 1397.4,207.4 1393.9,205.6 1393.2,201.3 1392.2,197.0M1394.8,190.0 1394.1,194.8 1393.9,199.6 1393.3,204.3 1393.0,209.1 1394.1,213.2 1394.8,217.2 1395.7,221.3 1397.6,225.1 1399.1,229.1M1307.0,211.8 1311.0,212.0 1315.0,212.1 1319.0,212.3 1322.9,212.7 1327.1,212.6 1329.2,217.8 1331.3,223.1 1336.5,223.1 1341.7,223.0 1342.6,218.6 1347.9,219.4 1353.0,220.4 1353.6,225.2 1353.7,230.0 1354.1,234.8 1354.8,239.7 1358.7,240.3 1362.6,241.3M1362.6,241.3 1366.6,242.2 1370.5,243.4 1374.4,244.3 1378.3,245.7 1381.5,249.3 1385.2,252.7 1388.7,256.1 1391.3,255.2 1391.3,249.9 1385.1,249.1 1385.7,244.5 1386.0,239.9 1386.0,235.2 1389.6,230.1 1394.4,229.7 1399.1,229.1 1403.2,231.7 1407.2,234.4 1411.3,237.0 1418.2,239.6 1418.9,245.3 1420.0,250.9M1420.0,250.8 1424.7,251.4 1429.2,252.8 1433.9,253.5 1437.9,253.0 1441.9,252.2 1445.9,251.7 1449.9,251.6 1453.9,250.9M1413.1,238.7 1413.9,243.9 1414.7,249.1 1412.6,253.3 1410.1,257.2 1407.9,261.2 1410.4,264.8 1413.0,268.3 1413.7,273.5 1413.9,278.7 1416.6,283.1 1418.7,279.4 1420.7,275.6 1422.7,271.7 1420.1,266.5 1417.4,261.3 1418.0,257.0 1418.3,252.7 1420.0,250.9M1361.7,242.2 1361.7,250.0 1357.0,250.6 1352.2,250.9 1351.7,256.1 1350.8,261.3 1350.4,266.6 1353.9,273.4 1359.1,274.6 1364.3,275.2M1301.7,265.5 1307.0,265.5 1311.0,266.3 1315.0,266.9 1318.8,268.2 1322.9,268.6 1326.8,269.3 1330.8,270.3 1334.8,270.9 1339.6,271.8 1344.4,272.6 1349.1,273.5 1353.9,274.5 1359.1,274.6 1364.3,275.2M1364.3,275.2 1371.3,277.8 1375.1,275.5 1379.0,273.3 1383.0,271.3 1386.9,269.2 1392.2,270.0 1396.0,268.2 1400.1,267.2 1403.8,265.2 1407.8,263.9M1392.2,265.7 1397.4,264.8 1402.6,264.6 1407.8,263.9M1392.2,269.9 1396.3,272.8 1400.3,275.8 1404.3,278.7 1403.5,283.3 1402.7,288.0 1401.8,292.6 1398.7,296.9 1395.7,301.3 1389.6,305.5 1383.9,304.5 1378.2,303.1 1375.7,298.7 1373.0,294.4 1371.4,290.5 1369.3,286.8 1367.9,282.8 1366.0,279.1 1364.3,275.2M1343.4,276.1 1343.2,280.4 1342.6,284.8 1342.3,289.1 1341.7,293.5 1336.6,293.5 1335.7,297.8 1335.1,302.2 1334.2,306.5 1333.7,310.9 1332.8,315.2 1332.0,319.6 1331.3,323.9 1326.1,325.6 1321.7,323.1 1317.4,320.4M1335.8,307.4 1336.3,312.2 1336.5,316.9 1341.7,316.9 1347.0,311.7 1350.8,313.6 1354.8,315.2 1359.3,312.5 1363.4,309.3 1367.8,306.5 1373.0,304.6 1378.3,303.0M1389.7,305.7 1389.3,309.6 1389.2,313.7 1389.2,317.7 1388.7,321.6 1388.7,325.7 1391.3,325.7M1360.0,337.8 1364.4,335.2 1368.7,334.4 1370.4,338.7 1366.1,342.3 1361.7,343.1 1360.0,337.8M1381.0,328.3 1381.7,324.4 1384.3,323.6 1386.7,326.5 1386.1,331.7 1383.6,332.6 1380.9,328.3" fill="none" stroke="#333" stroke-width="1.3" stroke-linejoin="round" stroke-linecap="round"/>
<g id="legend">
<text class="lb" x="1451.5" y="992.6" textLength="105.0" lengthAdjust="spacingAndGlyphs" font-size="30" fill="#000" stroke="#000" stroke-width="0.45">Legend</text>
<path d="M1452.8,1008.6L1492.2,1008.6L1472.5,1048.0Z" fill="#7b5b00" stroke="#000" stroke-width="4.7" stroke-linejoin="bevel"/>
<circle cx="1472.6" cy="1080.0" r="14.6" fill="#e8cc08" stroke="#3f8a36" stroke-width="5.4"/>
<path d="M1472.6,1111.9L1487.0,1126.3L1472.6,1140.7L1458.2,1126.3Z" fill="#45ef35" stroke="#000" stroke-width="5.1" stroke-linejoin="bevel"/>
<path d="M1448.4,1170H1497.3" stroke="#3557ff" stroke-width="2"/>
<rect x="1449.2" y="1199.9" width="47" height="26.5" fill="#c97070" stroke="#333" stroke-width="1"/>
<rect x="1449.8" y="1243.5" width="45.5" height="24.8" rx="2.5" fill="#fff" stroke="#2b2b2b" stroke-width="3.2"/>
<text class="lb" x="1510.5" y="1039.4" textLength="129.3" lengthAdjust="spacingAndGlyphs" font-size="25.4" fill="#000" stroke="#000" stroke-width="0.45">Reservoirs</text>
<text class="lb" x="1510.5" y="1090.2" textLength="179.4" lengthAdjust="spacingAndGlyphs" font-size="25.4" fill="#000" stroke="#000" stroke-width="0.45">Irrigation sites</text>
<text class="lb" x="1510.5" y="1135.3" textLength="205.9" lengthAdjust="spacingAndGlyphs" font-size="25.4" fill="#000" stroke="#000" stroke-width="0.45">Aggreg. projects</text>
<text class="lb" x="1510.5" y="1179.8" textLength="74.7" lengthAdjust="spacingAndGlyphs" font-size="25.4" fill="#000" stroke="#000" stroke-width="0.45">Rivers</text>
<text class="lb" x="1510.5" y="1222.8" textLength="68.0" lengthAdjust="spacingAndGlyphs" font-size="25.4" fill="#000" stroke="#000" stroke-width="0.45">Cities</text>
<text class="lb" x="1510.5" y="1266.0" textLength="97.8" lengthAdjust="spacingAndGlyphs" font-size="25.4" fill="#000" stroke="#000" stroke-width="0.45">Borders</text>
</g>
<g id="scalebar">
<rect x="582.3" y="1286.7" width="397.6" height="21.6" fill="#fff" stroke="#000" stroke-width="1"/>
<rect x="582.3" y="1286.7" width="132.4" height="10.8" fill="#000"/>
<rect x="714.7" y="1297.5" width="132.1" height="10.8" fill="#000"/>
<rect x="846.8" y="1286.7" width="133.1" height="10.8" fill="#000"/>
<text class="lb" x="561.3" y="1267.6" textLength="44.4" lengthAdjust="spacingAndGlyphs" font-size="25.4" fill="#000" stroke="#000" stroke-width="0.45">100</text>
<text class="lb" x="708.4" y="1267.6" textLength="13.2" lengthAdjust="spacingAndGlyphs" font-size="25.4" fill="#000" stroke="#000" stroke-width="0.45">0</text>
<text class="lb" x="825.5" y="1267.6" textLength="43.9" lengthAdjust="spacingAndGlyphs" font-size="25.4" fill="#000" stroke="#000" stroke-width="0.45">100</text>
<text class="lb" x="956.4" y="1267.6" textLength="90.2" lengthAdjust="spacingAndGlyphs" font-size="25.4" fill="#000" stroke="#000" stroke-width="0.45">200 km</text>
</g>
</svg></body></html>
